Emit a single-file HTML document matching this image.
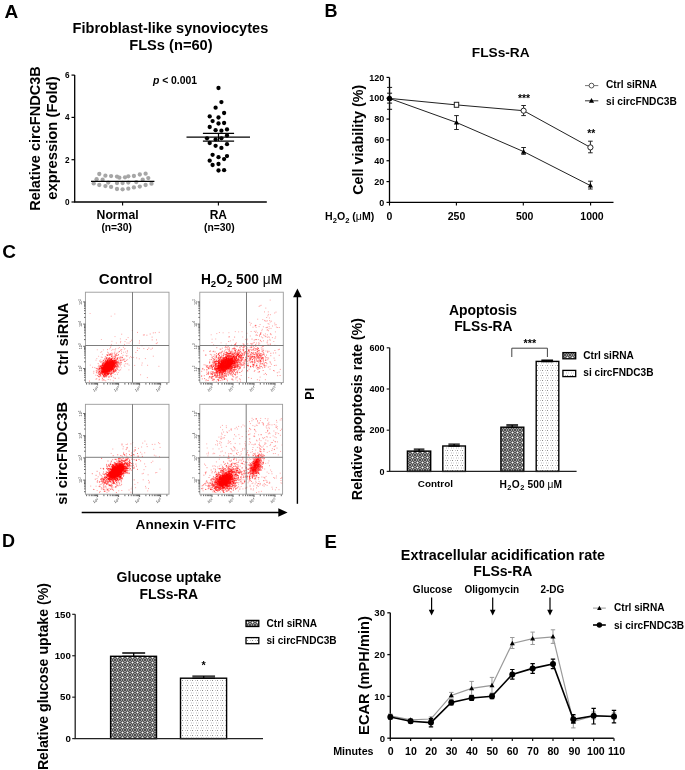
<!DOCTYPE html>
<html><head><meta charset="utf-8"><title>Figure</title>
<style>html,body{margin:0;padding:0;background:#fff;} svg{display:block;} text{font-family:'Liberation Sans', Arial, sans-serif;}</style>
</head><body>
<svg width="685" height="770" viewBox="0 0 685 770">
<rect width="685" height="770" fill="#fff"/>
<defs>
<filter id="soft" x="-50%" y="-50%" width="200%" height="200%"><feGaussianBlur stdDeviation="1.2"/></filter>
<pattern id="dk" width="5" height="5" patternUnits="userSpaceOnUse">
<rect width="5" height="5" fill="#9a9a9a"/>
<path d="M0 0h1v1h-1zM0 2h1v1h-1zM0 4h1v1h-1zM1 1h1v1h-1zM1 3h1v1h-1zM2 0h1v1h-1zM2 2h1v1h-1zM2 4h1v1h-1zM3 1h1v1h-1zM3 3h1v1h-1zM4 0h1v1h-1zM4 2h1v1h-1zM4 4h1v1h-1z" fill="#505050"/>
<path d="M2 2h1v1h-1z" fill="#fff"/>
</pattern>
<pattern id="lt" width="5" height="5" patternUnits="userSpaceOnUse">
<rect width="5" height="5" fill="#fff"/>
<rect x="2" y="0" width="1" height="1" fill="#8c8c8c"/>
<rect x="0" y="0" width="1" height="1" fill="#c4c4c4"/>
<rect x="1" y="2" width="1" height="2" fill="#dcdcdc"/>
<rect x="3" y="2" width="1" height="2" fill="#e6e6e6"/>
</pattern>
</defs>
<text x="4.40" y="17.90" font-size="19" font-weight="bold" fill="#000">A</text>
<text x="324.40" y="16.90" font-size="18" font-weight="bold" fill="#000">B</text>
<text x="2.20" y="257.60" font-size="19" font-weight="bold" fill="#000">C</text>
<text x="1.90" y="546.90" font-size="18" font-weight="bold" fill="#000">D</text>
<text x="324.60" y="548.30" font-size="18.6" font-weight="bold" fill="#000">E</text>
<text x="170.40" y="32.70" font-size="14.55" font-weight="bold" text-anchor="middle" fill="#000">Fibroblast-like synoviocytes</text>
<text x="170.90" y="49.50" font-size="14.65" font-weight="bold" text-anchor="middle" fill="#000">FLSs (n=60)</text>
<text transform="translate(40.20,138.50) rotate(-90)" font-size="14.55" font-weight="bold" text-anchor="middle" fill="#000">Relative circFNDC3B</text>
<text transform="translate(56.90,138.10) rotate(-90)" font-size="14.8" font-weight="bold" text-anchor="middle" fill="#000">expression (Fold)</text>
<path d="M74.7 75.10V202.0H266.8" stroke="#000" stroke-width="1.3" fill="none"/>
<line x1="71.50" y1="202.00" x2="74.70" y2="202.00" stroke="#000" stroke-width="1.2"/>
<text x="69.60" y="204.90" font-size="8.2" font-weight="bold" text-anchor="end" fill="#000">0</text>
<line x1="71.50" y1="159.70" x2="74.70" y2="159.70" stroke="#000" stroke-width="1.2"/>
<text x="69.60" y="162.60" font-size="8.2" font-weight="bold" text-anchor="end" fill="#000">2</text>
<line x1="71.50" y1="117.40" x2="74.70" y2="117.40" stroke="#000" stroke-width="1.2"/>
<text x="69.60" y="120.30" font-size="8.2" font-weight="bold" text-anchor="end" fill="#000">4</text>
<line x1="71.50" y1="75.10" x2="74.70" y2="75.10" stroke="#000" stroke-width="1.2"/>
<text x="69.60" y="78.00" font-size="8.2" font-weight="bold" text-anchor="end" fill="#000">6</text>
<line x1="122.60" y1="202.00" x2="122.60" y2="205.40" stroke="#000" stroke-width="1.1"/>
<line x1="218.40" y1="202.00" x2="218.40" y2="205.40" stroke="#000" stroke-width="1.1"/>
<text x="117.60" y="218.50" font-size="12.2" font-weight="bold" text-anchor="middle" fill="#000">Normal</text>
<text x="116.70" y="231.20" font-size="10.3" font-weight="bold" text-anchor="middle" fill="#000">(n=30)</text>
<text x="218.30" y="218.60" font-size="12" font-weight="bold" text-anchor="middle" fill="#000">RA</text>
<text x="219.30" y="231.20" font-size="10.3" font-weight="bold" text-anchor="middle" fill="#000">(n=30)</text>
<text x="152.90" y="84.00" font-size="10.4" font-weight="bold" fill="#000"><tspan font-style="italic">p</tspan> &lt; 0.001</text>
<circle cx="99.30" cy="174.00" r="2.15" fill="#a6a6a6" stroke="none" stroke-width="1"/>
<circle cx="105.40" cy="175.70" r="2.15" fill="#a6a6a6" stroke="none" stroke-width="1"/>
<circle cx="111.10" cy="176.10" r="2.15" fill="#a6a6a6" stroke="none" stroke-width="1"/>
<circle cx="117.00" cy="176.60" r="2.15" fill="#a6a6a6" stroke="none" stroke-width="1"/>
<circle cx="119.40" cy="177.70" r="2.15" fill="#a6a6a6" stroke="none" stroke-width="1"/>
<circle cx="125.00" cy="177.30" r="2.15" fill="#a6a6a6" stroke="none" stroke-width="1"/>
<circle cx="128.30" cy="176.30" r="2.15" fill="#a6a6a6" stroke="none" stroke-width="1"/>
<circle cx="133.90" cy="176.00" r="2.15" fill="#a6a6a6" stroke="none" stroke-width="1"/>
<circle cx="139.80" cy="174.50" r="2.15" fill="#a6a6a6" stroke="none" stroke-width="1"/>
<circle cx="145.60" cy="173.70" r="2.15" fill="#a6a6a6" stroke="none" stroke-width="1"/>
<circle cx="93.70" cy="183.40" r="2.15" fill="#a6a6a6" stroke="none" stroke-width="1"/>
<circle cx="96.60" cy="179.20" r="2.15" fill="#a6a6a6" stroke="none" stroke-width="1"/>
<circle cx="102.60" cy="179.70" r="2.15" fill="#a6a6a6" stroke="none" stroke-width="1"/>
<circle cx="108.20" cy="182.60" r="2.15" fill="#a6a6a6" stroke="none" stroke-width="1"/>
<circle cx="117.00" cy="183.00" r="2.15" fill="#a6a6a6" stroke="none" stroke-width="1"/>
<circle cx="122.60" cy="183.00" r="2.15" fill="#a6a6a6" stroke="none" stroke-width="1"/>
<circle cx="128.30" cy="182.60" r="2.15" fill="#a6a6a6" stroke="none" stroke-width="1"/>
<circle cx="136.30" cy="182.10" r="2.15" fill="#a6a6a6" stroke="none" stroke-width="1"/>
<circle cx="142.70" cy="179.70" r="2.15" fill="#a6a6a6" stroke="none" stroke-width="1"/>
<circle cx="148.30" cy="178.10" r="2.15" fill="#a6a6a6" stroke="none" stroke-width="1"/>
<circle cx="151.50" cy="183.70" r="2.15" fill="#a6a6a6" stroke="none" stroke-width="1"/>
<circle cx="99.30" cy="185.00" r="2.15" fill="#a6a6a6" stroke="none" stroke-width="1"/>
<circle cx="105.40" cy="186.10" r="2.15" fill="#a6a6a6" stroke="none" stroke-width="1"/>
<circle cx="111.10" cy="186.90" r="2.15" fill="#a6a6a6" stroke="none" stroke-width="1"/>
<circle cx="117.00" cy="189.00" r="2.15" fill="#a6a6a6" stroke="none" stroke-width="1"/>
<circle cx="122.60" cy="189.30" r="2.15" fill="#a6a6a6" stroke="none" stroke-width="1"/>
<circle cx="128.30" cy="188.70" r="2.15" fill="#a6a6a6" stroke="none" stroke-width="1"/>
<circle cx="133.90" cy="187.40" r="2.15" fill="#a6a6a6" stroke="none" stroke-width="1"/>
<circle cx="139.80" cy="186.60" r="2.15" fill="#a6a6a6" stroke="none" stroke-width="1"/>
<circle cx="145.60" cy="185.00" r="2.15" fill="#a6a6a6" stroke="none" stroke-width="1"/>
<line x1="91.00" y1="181.30" x2="154.40" y2="181.30" stroke="#000" stroke-width="1.3"/>
<circle cx="218.50" cy="88.00" r="2.15" fill="#000" stroke="none" stroke-width="1"/>
<circle cx="221.40" cy="102.10" r="2.15" fill="#000" stroke="none" stroke-width="1"/>
<circle cx="215.60" cy="107.70" r="2.15" fill="#000" stroke="none" stroke-width="1"/>
<circle cx="224.10" cy="113.00" r="2.15" fill="#000" stroke="none" stroke-width="1"/>
<circle cx="209.70" cy="116.40" r="2.15" fill="#000" stroke="none" stroke-width="1"/>
<circle cx="218.50" cy="117.50" r="2.15" fill="#000" stroke="none" stroke-width="1"/>
<circle cx="212.60" cy="121.10" r="2.15" fill="#000" stroke="none" stroke-width="1"/>
<circle cx="218.50" cy="123.50" r="2.15" fill="#000" stroke="none" stroke-width="1"/>
<circle cx="224.10" cy="123.00" r="2.15" fill="#000" stroke="none" stroke-width="1"/>
<circle cx="209.70" cy="127.00" r="2.15" fill="#000" stroke="none" stroke-width="1"/>
<circle cx="215.60" cy="130.20" r="2.15" fill="#000" stroke="none" stroke-width="1"/>
<circle cx="221.40" cy="130.70" r="2.15" fill="#000" stroke="none" stroke-width="1"/>
<circle cx="227.00" cy="129.40" r="2.15" fill="#000" stroke="none" stroke-width="1"/>
<circle cx="227.00" cy="135.50" r="2.15" fill="#000" stroke="none" stroke-width="1"/>
<circle cx="207.00" cy="138.30" r="2.15" fill="#000" stroke="none" stroke-width="1"/>
<circle cx="215.60" cy="139.40" r="2.15" fill="#000" stroke="none" stroke-width="1"/>
<circle cx="221.40" cy="138.30" r="2.15" fill="#000" stroke="none" stroke-width="1"/>
<circle cx="209.70" cy="143.00" r="2.15" fill="#000" stroke="none" stroke-width="1"/>
<circle cx="215.60" cy="145.80" r="2.15" fill="#000" stroke="none" stroke-width="1"/>
<circle cx="221.40" cy="147.90" r="2.15" fill="#000" stroke="none" stroke-width="1"/>
<circle cx="227.00" cy="144.20" r="2.15" fill="#000" stroke="none" stroke-width="1"/>
<circle cx="212.60" cy="154.80" r="2.15" fill="#000" stroke="none" stroke-width="1"/>
<circle cx="218.50" cy="157.20" r="2.15" fill="#000" stroke="none" stroke-width="1"/>
<circle cx="227.00" cy="156.10" r="2.15" fill="#000" stroke="none" stroke-width="1"/>
<circle cx="224.10" cy="159.10" r="2.15" fill="#000" stroke="none" stroke-width="1"/>
<circle cx="209.70" cy="160.70" r="2.15" fill="#000" stroke="none" stroke-width="1"/>
<circle cx="212.60" cy="165.00" r="2.15" fill="#000" stroke="none" stroke-width="1"/>
<circle cx="218.50" cy="164.00" r="2.15" fill="#000" stroke="none" stroke-width="1"/>
<circle cx="218.50" cy="170.50" r="2.15" fill="#000" stroke="none" stroke-width="1"/>
<circle cx="224.10" cy="170.20" r="2.15" fill="#000" stroke="none" stroke-width="1"/>
<line x1="186.50" y1="137.10" x2="250.00" y2="137.10" stroke="#000" stroke-width="1.3"/>
<path d="M218.50 133.40V141.10M202.90 133.40h31.20M202.90 141.10h31.20" stroke="#000" stroke-width="1.2" fill="none"/>
<text x="500.70" y="57.00" font-size="13.7" font-weight="bold" text-anchor="middle" fill="#000">FLSs-RA</text>
<text transform="translate(362.60,139.80) rotate(-90)" font-size="14.35" font-weight="bold" text-anchor="middle" fill="#000">Cell viability (%)</text>
<path d="M389.5 77.40V202.4H613.5" stroke="#000" stroke-width="1.3" fill="none"/>
<line x1="386.50" y1="202.40" x2="389.50" y2="202.40" stroke="#000" stroke-width="1.2"/>
<text x="384.20" y="205.60" font-size="9" font-weight="bold" text-anchor="end" fill="#000">0</text>
<line x1="386.50" y1="181.57" x2="389.50" y2="181.57" stroke="#000" stroke-width="1.2"/>
<text x="384.20" y="184.77" font-size="9" font-weight="bold" text-anchor="end" fill="#000">20</text>
<line x1="386.50" y1="160.73" x2="389.50" y2="160.73" stroke="#000" stroke-width="1.2"/>
<text x="384.20" y="163.93" font-size="9" font-weight="bold" text-anchor="end" fill="#000">40</text>
<line x1="386.50" y1="139.90" x2="389.50" y2="139.90" stroke="#000" stroke-width="1.2"/>
<text x="384.20" y="143.10" font-size="9" font-weight="bold" text-anchor="end" fill="#000">60</text>
<line x1="386.50" y1="119.06" x2="389.50" y2="119.06" stroke="#000" stroke-width="1.2"/>
<text x="384.20" y="122.26" font-size="9" font-weight="bold" text-anchor="end" fill="#000">80</text>
<line x1="386.50" y1="98.23" x2="389.50" y2="98.23" stroke="#000" stroke-width="1.2"/>
<text x="384.20" y="101.43" font-size="9" font-weight="bold" text-anchor="end" fill="#000">100</text>
<line x1="386.50" y1="77.40" x2="389.50" y2="77.40" stroke="#000" stroke-width="1.2"/>
<text x="384.20" y="80.60" font-size="9" font-weight="bold" text-anchor="end" fill="#000">120</text>
<line x1="389.50" y1="202.40" x2="389.50" y2="205.60" stroke="#000" stroke-width="1.1"/>
<text x="389.50" y="220.00" font-size="10.5" font-weight="bold" text-anchor="middle" fill="#000">0</text>
<line x1="456.40" y1="202.40" x2="456.40" y2="205.60" stroke="#000" stroke-width="1.1"/>
<text x="456.50" y="220.00" font-size="10.5" font-weight="bold" text-anchor="middle" fill="#000">250</text>
<line x1="523.30" y1="202.40" x2="523.30" y2="205.60" stroke="#000" stroke-width="1.1"/>
<text x="524.70" y="220.00" font-size="10.5" font-weight="bold" text-anchor="middle" fill="#000">500</text>
<line x1="590.60" y1="202.40" x2="590.60" y2="205.60" stroke="#000" stroke-width="1.1"/>
<text x="592.00" y="220.00" font-size="10.5" font-weight="bold" text-anchor="middle" fill="#000">1000</text>
<text x="325.00" y="220.00" font-size="10.6" font-weight="bold" fill="#000">H<tspan font-size="7.6" dy="2.5">2</tspan><tspan dy="-2.5">O</tspan><tspan font-size="7.6" dy="2.5">2</tspan><tspan dy="-2.5"> (</tspan><tspan font-weight="normal">μ</tspan>M)</text>
<path d="M389.5 98.4L456.5 104.9L523.6 110.7L590.4 147.4" stroke="#222" stroke-width="1.0" fill="none"/>
<path d="M389.5 98.4L456.5 122.5L523.6 151.6L590.4 185.6" stroke="#222" stroke-width="1.0" fill="none"/>
<path d="M389.60 87.40V109.30M387.10 87.40h5.00M387.10 109.30h5.00" stroke="#111" stroke-width="1.0" fill="none"/>
<path d="M389.60 93.20V103.10M387.10 93.20h5.00M387.10 103.10h5.00" stroke="#111" stroke-width="1.0" fill="none"/>
<path d="M456.50 115.60V129.50M454.20 115.60h4.60M454.20 129.50h4.60" stroke="#222" stroke-width="1.0" fill="none"/>
<path d="M523.60 105.50V115.60M521.30 105.50h4.60M521.30 115.60h4.60" stroke="#222" stroke-width="1.0" fill="none"/>
<path d="M523.60 147.50V154.30M521.30 147.50h4.60M521.30 154.30h4.60" stroke="#222" stroke-width="1.0" fill="none"/>
<path d="M590.40 141.20V152.80M588.10 141.20h4.60M588.10 152.80h4.60" stroke="#222" stroke-width="1.0" fill="none"/>
<path d="M590.40 181.20V189.00M588.10 181.20h4.60M588.10 189.00h4.60" stroke="#222" stroke-width="1.0" fill="none"/>
<circle cx="389.50" cy="98.40" r="2.6" fill="#000" stroke="none" stroke-width="1"/>
<path d="M389.50 95.68L392.20 100.54L386.80 100.54Z" fill="#000"/>
<rect x="454.3" y="102.3" width="4.4" height="5.0" fill="#fff" stroke="#222" stroke-width="1"/>
<circle cx="523.60" cy="110.70" r="2.6" fill="#fff" stroke="#222" stroke-width="1.0"/>
<circle cx="590.40" cy="147.40" r="2.6" fill="#fff" stroke="#222" stroke-width="1.0"/>
<path d="M456.50 119.79L459.10 124.47L453.90 124.47Z" fill="#000"/>
<path d="M523.60 148.99L526.20 153.67L521.00 153.67Z" fill="#000"/>
<path d="M590.40 182.79L593.00 187.47L587.80 187.47Z" fill="#000"/>
<text x="524.10" y="102.20" font-size="10.4" font-weight="bold" text-anchor="middle" fill="#000">***</text>
<text x="591.20" y="137.40" font-size="10.4" font-weight="bold" text-anchor="middle" fill="#000">**</text>
<line x1="585.00" y1="85.60" x2="598.30" y2="85.60" stroke="#777" stroke-width="1.0"/>
<circle cx="591.50" cy="85.60" r="2.4" fill="#fff" stroke="#555" stroke-width="1.0"/>
<line x1="585.00" y1="100.80" x2="598.30" y2="100.80" stroke="#333" stroke-width="1.0"/>
<path d="M591.50 97.99L594.10 102.67L588.90 102.67Z" fill="#000"/>
<text x="606.00" y="88.10" font-size="10.2" font-weight="bold" fill="#000">Ctrl siRNA</text>
<text x="606.00" y="104.50" font-size="10.2" font-weight="bold" fill="#000">si circFNDC3B</text>
<text x="125.60" y="284.20" font-size="15.1" font-weight="bold" text-anchor="middle" fill="#000">Control</text>
<text x="200.90" y="284.30" font-size="13.75" font-weight="bold" fill="#000">H<tspan font-size="9.6" dy="2.8">2</tspan><tspan dy="-2.8">O</tspan><tspan font-size="9.6" dy="2.8">2</tspan><tspan dy="-2.8"> 500 </tspan><tspan font-weight="normal">μ</tspan>M</text>
<text transform="translate(67.80,339.00) rotate(-90)" font-size="14.5" font-weight="bold" text-anchor="middle" fill="#000">Ctrl siRNA</text>
<text transform="translate(67.30,453.30) rotate(-90)" font-size="14.8" font-weight="bold" text-anchor="middle" fill="#000">si circFNDC3B</text>
<path d="M81.7 512.5H280" stroke="#000" stroke-width="1.4" fill="none"/>
<path d="M287.6 512.5L278.3 508.2L278.3 516.8Z" fill="#000"/>
<path d="M297.4 503.8V296" stroke="#000" stroke-width="1.4" fill="none"/>
<path d="M297.4 288.5L293.1 297.3L301.7 297.3Z" fill="#000"/>
<text x="135.60" y="529.30" font-size="13.6" font-weight="bold" fill="#000">Annexin V-FITC</text>
<text transform="translate(314.40,393.80) rotate(-90)" font-size="12.5" font-weight="bold" text-anchor="middle" fill="#000">PI</text>
<ellipse cx="107.9" cy="367.0" rx="7.6" ry="4.4" transform="rotate(-45 107.9 367.0)" fill="#f00" opacity="0.95" filter="url(#soft)"/>
<path d="M108.1 369.0h1M106.4 367.1h1M104.2 369.8h1M112.7 364.0h1M112.1 363.9h1M109.7 366.0h1M103.8 374.7h1M110.7 366.3h1M98.2 369.3h1M103.8 369.2h1M108.9 365.8h1M108.4 363.8h1M109.8 366.7h1M109.2 373.0h1M112.4 367.6h1M104.1 367.6h1M106.5 368.0h1M110.7 365.3h1M104.3 366.6h1M108.6 371.4h1M105.6 370.4h1M106.2 362.3h1M110.8 369.6h1M100.1 373.4h1M105.8 365.6h1M109.5 365.1h1M104.5 373.9h1M112.3 366.6h1M113.8 362.7h1M105.6 363.8h1M108.8 363.5h1M103.6 365.9h1M103.4 369.3h1M108.1 358.1h1M103.3 372.7h1M114.2 363.1h1M95.8 368.4h1M107.6 364.2h1M106.0 373.0h1M112.1 363.4h1M109.7 367.1h1M114.8 362.7h1M110.9 366.3h1M105.1 375.3h1M112.4 364.7h1M99.6 372.6h1M107.0 360.2h1M109.4 369.8h1M106.7 375.1h1M109.5 364.7h1M110.4 367.2h1M110.8 369.0h1M104.7 368.5h1M111.6 363.4h1M106.8 372.1h1M112.1 360.9h1M102.7 371.6h1M106.7 366.9h1M110.7 359.9h1M109.7 359.9h1M106.5 371.1h1M113.7 364.8h1M109.4 366.1h1M109.7 367.7h1M107.9 368.2h1M109.9 365.0h1M111.8 365.5h1M115.7 360.6h1M105.6 367.7h1M109.8 369.0h1M107.5 369.0h1M109.0 355.1h1M104.4 371.5h1M109.8 366.1h1M107.8 369.9h1M107.8 364.9h1M117.2 359.2h1M105.7 368.7h1M107.0 367.7h1M97.2 375.6h1M109.0 361.0h1M109.7 369.3h1M114.1 367.1h1M101.1 372.3h1M108.0 369.5h1M106.1 357.4h1M108.7 360.1h1M107.1 361.4h1M111.1 368.9h1M107.8 367.9h1M111.0 364.5h1M110.8 370.6h1M111.0 362.7h1M115.2 354.9h1M110.6 363.2h1M109.9 368.0h1M110.0 367.6h1M99.3 369.2h1M108.0 362.8h1M101.2 367.5h1M114.0 364.1h1M111.1 359.8h1M105.5 364.6h1M114.0 367.7h1M108.1 373.5h1M111.0 363.1h1M103.9 377.0h1M106.3 366.1h1M110.2 366.5h1M111.0 359.5h1M115.1 366.1h1M112.7 361.5h1M107.4 371.8h1M108.6 366.9h1M112.4 361.4h1M99.0 374.3h1M103.1 375.3h1M107.7 364.6h1M109.6 368.8h1M111.0 369.5h1M109.9 369.4h1M116.6 365.1h1M107.4 371.2h1M99.0 371.3h1M103.2 376.2h1M103.5 371.3h1M107.2 367.6h1M106.3 369.6h1M114.3 360.8h1M111.9 367.2h1M104.5 365.0h1M108.2 371.2h1M100.8 371.6h1M113.1 365.1h1M109.6 368.7h1M106.0 363.9h1M101.0 371.2h1M110.0 362.5h1M103.1 368.6h1M102.2 372.2h1M104.5 371.9h1M100.3 376.0h1M101.5 365.1h1M109.9 363.9h1M98.2 373.0h1M108.0 365.0h1M112.2 365.8h1M110.9 365.3h1M114.0 363.7h1M105.1 361.0h1M113.8 366.6h1M105.9 367.1h1M111.0 356.4h1M114.7 370.5h1M106.1 371.7h1M114.3 360.1h1M111.8 366.9h1M104.5 370.0h1M110.7 367.7h1M107.4 366.7h1M103.5 369.8h1M111.3 364.1h1M103.1 368.2h1M119.7 360.0h1M104.7 359.2h1M111.1 365.8h1M114.8 362.0h1M108.8 368.3h1M103.2 376.1h1M107.6 364.4h1M116.4 366.2h1M101.5 370.5h1M109.3 366.4h1M104.4 366.3h1M117.6 361.7h1M100.8 368.4h1M116.0 363.1h1M116.1 362.3h1M105.4 370.6h1M98.7 373.0h1M108.8 368.3h1M105.1 369.3h1M110.3 366.2h1M110.6 365.2h1M108.4 369.8h1M106.3 365.1h1M105.7 369.2h1M107.8 367.7h1M108.3 367.4h1M104.8 364.8h1M111.6 367.7h1M109.0 365.1h1M107.4 363.4h1M101.3 373.8h1M106.2 371.9h1M98.5 365.3h1M107.6 374.0h1M103.6 365.4h1M106.3 370.8h1M110.0 365.6h1M114.6 363.3h1M109.1 368.3h1M115.8 363.2h1M109.2 361.1h1M108.9 369.1h1M109.1 370.3h1M111.9 366.8h1M112.6 373.2h1M111.8 362.2h1M113.7 372.2h1M108.5 370.1h1M111.4 363.5h1M104.2 371.5h1M111.6 368.1h1M110.7 364.3h1M112.1 365.1h1M108.7 366.4h1M108.5 369.3h1M102.8 369.4h1M104.8 363.9h1M102.1 364.3h1M106.7 370.6h1M109.8 364.9h1M104.1 364.8h1M115.5 361.6h1M109.9 361.3h1M103.4 363.8h1M112.6 366.2h1M101.1 373.6h1M106.4 361.0h1M99.2 371.2h1M102.7 366.2h1M108.5 367.4h1M111.6 366.2h1M115.7 364.2h1M102.2 370.6h1M101.9 368.5h1M107.6 367.3h1M106.3 361.9h1M103.5 371.3h1M106.5 367.0h1M106.1 365.6h1M111.1 365.3h1M106.2 365.9h1M101.5 361.8h1M104.5 370.5h1M103.0 372.7h1M105.5 363.6h1M106.3 367.2h1M110.8 366.7h1M106.0 365.3h1M107.3 367.4h1M111.1 365.0h1M102.5 366.7h1M105.0 366.7h1M103.7 370.7h1M106.4 369.0h1M108.9 364.3h1M115.4 358.1h1M112.1 363.4h1M106.8 358.0h1M105.8 370.2h1M115.0 369.8h1M111.8 368.6h1M112.6 366.3h1M109.4 364.9h1M107.4 362.9h1M109.9 360.7h1M113.3 370.6h1M107.2 367.8h1M112.1 362.9h1M105.6 370.4h1M111.5 366.4h1M108.9 373.4h1M113.8 361.1h1M107.9 365.1h1M111.4 360.5h1M109.3 363.6h1M107.0 371.0h1M112.6 362.3h1M107.2 371.1h1M108.4 367.8h1M115.7 364.0h1M110.9 373.7h1M109.6 368.7h1M105.5 369.2h1M105.5 377.0h1M110.2 359.6h1M99.1 368.9h1M111.1 361.9h1M107.0 366.6h1M105.2 365.1h1M104.9 363.9h1M108.3 367.9h1M109.1 364.9h1M105.0 370.5h1M109.5 372.0h1M110.4 364.0h1M104.7 367.2h1M103.8 369.6h1M110.0 367.1h1M114.4 369.4h1M105.4 369.5h1M113.8 353.2h1M106.4 369.2h1M109.3 367.3h1M107.8 368.6h1M109.7 368.4h1M99.3 371.8h1M105.7 364.8h1M105.5 372.0h1M106.9 370.6h1M111.2 365.0h1M109.5 365.0h1M102.9 371.9h1M108.4 364.3h1M109.1 368.9h1M106.2 371.5h1M113.3 359.2h1M108.1 366.2h1M114.0 362.2h1M109.6 362.4h1M107.8 367.0h1M104.7 376.3h1M107.4 360.1h1M110.3 364.1h1M110.3 366.2h1M102.2 371.8h1M112.0 360.5h1M101.4 367.7h1M104.3 372.0h1M114.8 361.9h1M113.5 370.9h1M104.6 367.4h1M110.9 366.3h1M101.8 368.1h1M109.5 366.5h1M102.9 371.2h1M107.0 369.9h1M107.3 367.2h1M108.9 370.5h1M112.0 361.3h1M109.3 362.4h1M109.7 368.3h1M112.4 360.8h1M108.1 367.7h1M102.6 372.3h1M106.3 370.2h1M99.7 366.8h1M108.6 367.4h1M107.8 370.8h1M105.6 366.7h1M106.3 362.0h1M105.5 369.4h1M110.6 363.7h1M107.6 364.5h1M112.5 369.5h1M110.5 374.4h1M105.7 369.3h1M110.7 368.6h1M99.1 366.9h1M111.7 366.5h1M115.7 370.4h1M109.2 366.8h1M112.0 364.5h1M111.2 358.5h1M99.3 361.0h1M110.0 363.3h1M115.7 368.3h1M107.3 366.5h1M104.4 367.0h1M107.0 370.6h1M108.2 367.0h1M109.2 369.6h1M109.3 365.0h1M109.9 364.3h1M106.9 374.2h1M107.5 363.3h1M112.4 363.9h1M105.8 375.9h1M111.0 367.7h1M108.3 366.0h1M104.5 374.5h1M107.4 366.3h1M109.3 365.9h1M109.5 363.8h1M103.2 362.6h1M107.8 369.9h1M111.9 361.5h1M110.8 370.8h1M108.3 369.7h1M113.9 361.2h1M110.7 361.2h1M108.5 366.1h1M110.7 369.0h1M114.9 357.1h1M106.9 370.1h1M105.2 371.8h1M109.3 364.4h1M106.5 361.8h1M107.3 361.0h1M104.3 368.3h1M108.3 370.2h1M107.3 365.9h1M113.2 368.4h1M108.7 367.8h1M112.9 363.2h1M108.6 376.8h1M111.5 355.0h1M108.6 368.0h1M112.7 365.0h1M104.7 365.7h1M110.5 368.8h1M101.9 368.7h1M103.7 363.0h1M106.1 367.0h1M108.0 363.9h1M103.9 369.3h1M106.3 365.8h1M109.5 368.5h1M115.7 366.4h1M104.2 368.9h1M103.2 379.8h1M105.3 369.5h1M106.9 362.3h1M109.5 365.3h1M102.1 374.1h1M108.2 358.8h1M111.2 364.6h1M110.5 366.3h1M112.0 361.9h1M110.1 363.0h1M108.7 362.7h1M111.2 371.1h1M109.1 365.1h1M102.2 369.4h1M110.6 368.3h1M110.5 366.6h1M110.6 370.0h1M105.4 367.2h1M111.2 364.0h1M105.7 366.8h1M108.3 369.2h1M106.6 363.2h1M109.8 365.9h1M106.0 372.2h1M106.2 367.3h1M113.5 367.0h1M106.4 370.4h1M109.7 375.0h1M108.7 371.3h1M107.3 371.0h1M110.4 353.8h1M107.4 369.6h1M106.2 365.9h1M115.7 359.6h1M103.9 374.6h1M104.3 375.5h1M106.2 369.3h1M112.6 362.8h1M99.4 368.3h1M113.7 364.4h1M106.8 371.7h1M111.0 366.6h1M99.3 374.3h1M112.6 365.4h1M105.8 358.7h1M109.5 367.4h1M114.9 356.0h1M106.8 368.2h1M110.1 362.9h1M110.3 361.3h1M107.7 364.9h1M107.0 365.0h1M104.6 375.0h1M107.8 364.7h1M110.7 368.4h1M104.2 370.2h1M110.9 366.2h1M102.2 363.7h1M113.0 363.3h1M107.4 366.4h1M107.9 365.2h1M102.7 369.1h1M104.5 367.8h1M105.2 372.4h1M104.7 373.0h1M105.1 371.3h1M113.2 362.6h1M105.4 369.7h1M104.7 362.8h1M106.1 369.5h1M106.4 368.8h1M112.1 366.0h1M112.4 365.0h1M106.8 368.0h1M106.3 367.3h1M103.6 364.0h1M106.7 368.1h1M104.4 370.4h1M109.4 364.8h1M109.7 354.1h1M103.3 363.9h1M117.0 369.2h1M99.3 376.1h1M109.1 364.5h1M105.1 360.3h1M111.7 364.8h1M106.7 365.7h1M109.1 363.7h1M107.6 365.1h1M99.9 374.9h1M110.2 367.9h1M104.7 370.0h1M110.4 365.1h1M116.5 366.8h1M100.6 366.1h1M114.2 367.2h1M112.9 365.5h1M104.2 367.7h1M109.1 361.9h1M99.4 371.3h1M120.8 362.3h1M103.9 367.9h1M107.1 364.6h1M112.4 362.2h1M106.8 373.6h1M106.3 369.5h1M107.2 366.4h1M107.6 364.4h1M96.7 368.8h1M101.8 369.9h1M107.9 367.2h1M110.1 365.3h1M103.6 368.3h1M100.1 374.1h1M110.7 366.4h1M107.1 367.1h1M111.2 363.7h1M111.7 365.6h1M111.4 369.0h1M105.1 368.3h1M103.4 368.2h1M117.1 365.2h1M109.2 368.1h1M113.8 364.6h1M109.5 360.1h1M106.6 370.2h1M113.2 362.1h1M104.1 369.3h1M103.7 367.5h1M111.9 360.4h1M112.6 371.5h1M112.8 363.5h1M106.6 370.0h1M115.0 362.6h1M112.6 362.7h1M109.3 364.7h1M112.2 368.2h1M102.7 371.9h1M107.5 364.9h1M108.5 369.8h1M116.3 361.3h1M105.8 362.6h1M114.9 360.3h1M105.4 364.7h1M105.4 364.9h1M109.1 367.7h1M108.6 367.5h1M107.9 373.0h1M101.7 365.5h1M105.6 366.0h1M103.6 369.8h1M106.4 363.5h1M110.4 370.5h1M110.0 364.3h1M108.1 366.3h1M109.3 368.7h1M102.5 362.2h1M105.9 365.2h1M108.9 363.4h1M113.0 371.1h1M101.8 368.3h1M97.8 366.9h1M102.0 374.4h1M101.7 365.3h1M104.0 373.6h1M104.4 369.0h1M111.9 368.7h1M117.0 362.3h1M108.8 366.9h1M117.3 363.7h1M107.8 369.1h1M109.0 366.1h1M103.3 366.0h1M102.7 365.6h1M113.4 363.8h1M106.6 374.2h1M107.0 359.8h1M116.1 362.2h1M112.6 357.1h1M110.7 366.0h1M109.0 366.6h1M108.5 360.1h1M100.6 368.4h1M104.6 367.7h1M109.8 366.3h1M106.6 365.5h1M108.4 370.6h1M110.8 364.5h1M110.1 371.4h1M107.2 370.5h1M111.4 362.4h1M108.5 361.7h1M111.9 363.8h1M103.7 374.0h1M107.5 372.9h1M105.1 369.1h1M108.2 365.3h1M107.6 364.9h1M110.3 364.6h1M102.8 360.4h1M112.1 363.0h1M101.8 373.5h1M111.8 367.6h1M107.4 374.1h1M112.4 372.6h1M108.8 369.0h1M104.2 365.9h1M113.7 365.0h1M115.2 363.4h1M102.3 365.5h1M104.2 367.9h1M106.3 371.1h1M108.5 365.3h1M108.2 366.1h1M110.2 367.8h1M109.8 362.2h1M105.6 375.4h1M110.7 368.9h1M101.4 372.1h1M104.9 363.8h1M107.6 370.4h1M115.1 366.6h1M101.9 367.1h1M111.7 367.2h1M105.8 363.6h1M112.3 365.9h1M108.8 364.0h1M110.7 367.6h1M102.0 365.1h1M110.1 366.9h1M109.8 368.8h1M105.7 368.9h1M108.0 369.3h1M113.0 360.8h1M118.4 363.0h1M111.9 365.4h1M113.8 360.4h1M105.3 365.1h1M112.4 368.2h1M110.7 366.0h1M107.6 368.1h1M105.1 374.3h1M104.1 366.1h1M103.5 367.9h1M113.2 366.2h1M105.1 373.8h1M109.8 362.6h1M101.1 370.7h1M106.4 370.0h1M102.3 364.0h1M105.5 362.9h1M108.5 361.2h1M103.6 367.6h1M108.7 371.7h1M112.2 365.3h1M105.7 362.6h1M104.9 367.7h1M105.5 371.5h1M103.8 368.1h1M99.8 366.3h1M112.8 367.7h1M106.4 364.3h1M98.7 376.9h1M112.8 363.3h1M114.3 366.9h1M110.9 362.1h1M113.3 364.9h1M101.6 371.6h1M102.6 371.8h1M107.7 362.7h1M103.4 377.0h1M112.4 368.8h1M105.5 373.9h1M119.5 363.9h1M107.7 368.3h1M109.5 369.7h1M111.8 363.5h1M104.7 373.4h1M107.6 370.0h1M112.3 369.5h1M111.0 362.0h1M112.9 369.5h1M106.9 369.8h1M114.8 365.5h1M106.9 362.4h1M104.0 372.0h1M114.7 371.0h1M107.3 372.5h1M107.1 360.7h1M105.4 370.2h1M105.8 368.4h1M107.8 363.6h1M108.2 364.0h1M107.1 370.1h1M106.5 369.6h1M113.6 361.4h1M108.9 369.1h1M108.9 370.6h1M104.7 372.8h1M104.4 367.1h1M112.4 358.9h1M115.5 362.2h1M111.0 359.8h1M115.2 365.9h1M107.2 367.1h1M117.0 358.7h1M105.1 367.2h1M110.2 366.1h1M112.2 370.0h1M107.7 369.2h1M110.9 359.7h1M115.5 367.2h1M100.8 369.5h1M100.3 366.8h1M105.6 361.5h1M112.7 368.3h1M101.5 372.0h1M102.8 375.4h1M104.7 369.0h1M109.2 368.0h1M106.7 368.3h1M106.2 369.2h1M103.9 371.3h1M100.0 372.8h1M114.8 360.4h1M104.0 372.0h1M101.0 366.9h1M106.9 371.2h1M109.1 365.4h1M102.3 368.0h1M113.2 362.7h1M100.1 365.9h1M108.3 377.1h1M103.7 370.9h1M108.3 365.9h1M104.0 365.1h1M107.8 374.3h1M107.0 371.5h1M101.3 372.4h1M111.0 368.3h1M105.2 372.2h1M107.7 364.1h1M107.7 363.4h1M105.0 369.8h1M98.1 376.4h1M101.3 367.4h1M108.0 370.1h1M109.2 371.1h1M101.0 368.3h1M114.2 362.4h1M109.5 361.9h1M111.3 364.7h1M110.2 364.8h1M110.8 361.4h1M101.4 367.3h1M110.4 361.3h1M102.2 368.7h1M103.6 365.9h1M105.5 366.7h1M103.9 366.9h1M107.1 365.9h1M108.8 367.1h1M104.5 361.2h1M104.3 367.2h1M107.3 360.9h1M104.8 368.9h1M108.8 370.3h1M108.4 370.6h1M98.9 368.3h1M113.1 363.6h1M109.9 365.5h1M107.0 362.7h1M110.1 362.5h1M111.6 363.7h1M98.2 371.2h1M111.6 362.7h1M107.0 368.9h1M105.2 367.3h1" stroke="#f00" stroke-width="1" stroke-opacity="0.6"/>
<path d="M110.0 365.4h1M117.2 357.6h1M124.8 361.4h1M121.6 359.8h1M110.1 365.3h1M105.9 363.9h1M106.6 363.8h1M119.4 358.5h1M100.4 361.6h1M107.4 364.4h1M99.5 367.6h1M98.9 379.3h1M117.0 374.2h1M108.4 365.2h1M117.1 358.3h1M108.7 363.4h1M110.7 373.6h1M119.9 365.8h1M107.2 367.5h1M107.5 373.3h1M103.4 374.7h1M119.4 364.3h1M107.6 374.0h1M102.8 366.8h1M105.7 376.3h1M115.8 354.8h1M103.9 368.4h1M125.6 355.5h1M100.3 362.5h1M109.3 372.9h1M118.0 354.7h1M103.7 367.5h1M102.0 378.5h1M106.7 374.7h1M95.8 370.4h1M108.0 361.5h1M113.2 361.4h1M104.8 373.8h1M107.2 354.8h1M120.3 357.4h1M107.0 355.4h1M104.0 368.2h1M110.0 355.0h1M97.7 363.6h1M108.8 367.9h1M98.1 372.5h1M116.9 368.0h1M111.5 361.0h1M99.7 368.7h1M106.0 369.5h1M114.2 371.2h1M107.0 360.5h1M120.3 360.4h1M107.2 362.6h1M95.8 372.1h1M111.2 358.1h1M102.6 373.1h1M112.3 366.2h1M117.1 366.6h1M107.7 373.1h1M106.0 373.0h1M110.7 365.3h1M114.1 360.3h1M117.7 362.4h1M107.9 362.9h1M103.3 367.8h1M107.8 366.5h1M126.9 351.8h1M110.3 358.6h1M104.2 368.2h1M106.6 361.1h1M115.7 355.1h1M107.1 352.2h1M109.9 366.4h1M112.0 366.4h1M111.0 364.5h1M96.6 373.2h1M98.6 380.0h1M110.0 363.2h1M102.8 368.0h1M124.4 361.3h1M112.9 370.0h1M94.3 367.6h1M103.6 365.2h1M106.6 369.1h1M122.9 347.3h1M110.2 366.1h1M111.8 368.7h1M114.4 352.0h1M109.0 363.8h1M105.9 358.6h1M92.1 367.3h1M112.4 363.3h1M101.7 357.4h1M104.6 365.0h1M98.5 370.0h1M114.5 363.6h1M110.6 367.3h1M106.0 368.9h1M111.0 367.1h1M108.2 365.4h1M106.2 364.1h1M122.5 355.3h1M118.7 370.7h1M111.4 353.0h1M115.4 364.5h1M123.3 359.8h1M109.3 357.6h1M105.3 371.0h1M108.4 359.5h1M105.7 366.2h1M110.4 366.3h1M103.5 363.0h1M120.8 364.1h1M111.8 369.4h1M113.5 365.3h1M109.1 360.5h1M115.3 365.7h1M110.6 376.6h1M126.0 360.3h1M122.0 357.4h1M105.3 365.3h1M105.1 370.2h1M111.0 367.9h1M121.0 353.3h1M114.1 363.5h1M109.8 363.4h1M105.7 363.5h1M109.9 364.5h1M107.9 361.0h1M109.4 365.4h1M108.7 358.8h1M114.4 366.5h1M111.0 361.1h1M105.6 367.3h1M117.9 366.7h1M106.1 364.2h1M111.7 364.2h1M101.8 367.9h1M110.6 368.2h1M99.4 368.5h1M107.7 358.9h1M110.7 366.1h1M105.1 362.8h1M107.6 364.7h1M108.1 361.0h1M109.3 354.3h1M108.1 366.5h1M112.1 358.4h1M110.1 360.8h1M118.6 367.2h1M108.3 369.1h1M107.2 373.6h1M115.5 359.2h1M104.3 372.8h1M118.6 363.0h1M107.4 355.2h1M110.0 373.7h1M106.2 375.7h1M121.5 358.0h1M113.9 358.5h1M102.2 371.7h1M107.8 366.4h1M112.2 361.3h1M111.4 365.9h1M115.0 371.5h1M111.6 363.4h1M105.9 364.6h1M116.6 358.9h1M101.4 369.4h1M106.8 364.8h1M111.0 356.0h1M112.1 363.4h1M102.9 371.9h1M110.1 367.6h1M107.6 368.9h1M96.6 370.8h1M116.6 364.7h1M107.0 363.6h1M107.9 353.0h1M106.9 371.9h1M109.1 358.7h1M103.7 380.2h1M106.9 361.8h1M112.2 368.1h1M106.2 354.8h1M107.3 355.6h1M116.3 360.8h1M119.0 351.6h1M112.4 368.9h1M103.3 366.6h1M106.8 367.2h1M104.8 372.8h1M112.1 362.9h1M116.9 355.4h1M114.2 356.8h1M106.7 355.2h1M109.5 363.9h1M104.4 366.1h1M104.8 365.0h1M95.4 375.2h1M104.4 366.7h1M102.9 370.7h1M112.3 360.5h1M110.8 372.5h1M117.2 363.3h1M114.1 358.3h1M111.9 369.8h1M105.7 368.0h1M112.2 364.7h1M110.7 370.2h1M110.4 368.8h1M116.8 362.0h1M109.1 357.8h1M100.0 370.4h1M116.4 367.9h1M103.5 373.0h1M102.1 367.6h1M109.8 369.2h1M114.0 368.2h1M106.7 373.6h1M114.2 360.8h1M109.7 361.1h1M101.9 370.0h1M115.0 378.3h1M111.8 373.4h1M111.1 365.4h1M110.4 359.0h1M115.1 361.9h1M102.9 375.5h1M113.4 364.0h1M116.1 355.7h1M114.1 365.2h1M108.1 374.2h1M97.1 369.0h1M108.2 359.2h1M103.0 360.8h1M105.7 361.4h1M105.8 358.7h1M110.5 362.3h1M109.1 364.9h1M105.4 360.5h1M95.5 379.2h1M102.6 369.0h1M104.8 356.8h1M103.0 367.6h1M104.5 372.2h1M105.6 363.6h1M106.4 373.3h1M107.4 370.9h1M105.2 357.0h1M103.3 371.3h1M113.3 366.2h1M116.6 364.6h1M106.3 366.8h1M111.7 360.0h1M109.4 354.7h1M111.9 361.5h1M101.8 379.1h1M110.7 363.9h1M101.8 369.7h1M114.3 354.8h1M102.2 371.4h1M103.9 364.6h1M107.9 373.4h1M107.7 379.5h1M102.6 364.8h1M115.0 363.2h1M105.9 373.5h1M96.2 372.3h1M114.1 358.7h1M103.8 374.1h1M113.8 360.6h1M98.3 374.0h1M113.7 365.8h1M118.0 354.9h1M106.3 367.9h1M112.3 356.0h1M107.0 349.6h1M111.0 359.1h1M113.7 365.3h1M102.4 371.5h1M112.2 366.1h1M100.8 367.2h1M107.3 365.8h1M104.1 376.5h1M110.8 373.0h1M113.6 361.1h1M109.2 358.0h1M105.4 365.4h1M102.3 372.3h1M112.9 370.9h1M89.0 381.1h1M102.6 368.9h1M112.6 364.6h1M107.6 363.8h1M112.8 364.0h1M98.4 374.4h1M97.9 368.9h1M110.0 364.9h1M106.8 362.0h1M105.0 363.6h1M113.3 365.7h1M122.4 360.3h1M103.2 368.3h1M105.0 371.5h1M121.8 357.3h1M93.2 373.1h1M103.8 374.0h1M110.0 366.5h1M115.8 353.4h1M110.9 376.4h1M108.3 361.2h1M93.3 371.3h1M96.3 378.7h1M112.5 368.5h1M106.0 364.0h1M111.3 375.6h1M100.2 375.4h1M111.1 367.4h1M108.5 369.3h1M112.8 360.7h1M106.0 367.3h1M103.2 369.9h1M108.1 367.8h1M120.3 362.7h1M108.6 369.8h1M113.0 366.4h1M110.0 366.3h1M104.0 365.4h1M117.8 365.1h1M113.9 363.4h1M108.9 362.6h1M101.7 377.1h1M108.3 362.6h1M108.0 374.8h1M105.2 380.8h1M120.1 369.8h1M105.1 369.2h1M106.8 368.7h1M105.5 364.2h1M112.1 357.2h1M108.1 370.0h1M104.7 366.9h1M109.7 362.4h1M102.1 371.8h1M113.4 372.2h1M106.3 374.5h1M103.7 368.5h1M108.1 368.1h1" stroke="#f00" stroke-width="1" stroke-opacity="0.4"/>
<path d="M128.6 365.2h1M114.6 374.5h1M124.3 358.9h1M111.2 373.0h1M113.2 364.8h1M113.7 367.8h1M127.1 359.7h1M116.0 369.2h1M118.0 345.4h1M115.9 343.0h1M119.6 361.1h1M125.1 352.0h1M103.8 361.2h1M106.6 376.1h1M106.1 359.8h1M111.8 353.5h1M106.0 362.8h1M133.1 357.4h1M101.9 354.3h1M114.6 360.3h1M117.9 362.5h1M114.7 369.7h1M119.7 356.7h1M106.1 362.4h1M111.2 350.4h1M106.5 359.0h1M104.6 376.3h1M112.0 362.4h1M110.3 346.7h1M113.1 364.2h1M112.3 349.4h1M118.8 357.7h1M129.0 357.9h1M128.4 369.9h1M109.6 359.6h1M104.0 359.3h1M101.2 351.6h1M113.8 365.1h1M117.7 352.3h1M119.1 347.5h1M100.3 352.4h1M101.6 363.4h1M126.3 353.6h1M106.6 373.3h1M114.4 357.1h1M110.5 360.1h1M98.1 356.3h1M118.4 369.8h1M121.3 349.6h1M105.2 366.5h1M120.8 357.1h1M109.6 368.4h1M113.3 366.4h1M100.8 357.0h1M116.6 365.8h1M103.0 369.8h1M116.6 353.3h1M118.3 378.1h1M124.0 361.4h1M113.8 378.2h1M96.6 371.7h1M124.9 363.7h1M101.3 365.4h1M102.9 349.9h1M119.9 360.2h1M111.6 368.3h1M119.6 357.8h1M124.3 366.4h1M109.3 366.5h1M113.7 371.6h1M111.5 367.7h1M113.4 361.3h1M124.5 348.6h1M127.2 355.8h1M121.0 351.2h1M123.1 359.2h1M108.9 368.1h1M110.8 362.8h1M117.8 348.3h1M89.8 365.1h1M105.1 361.9h1M115.2 365.0h1M126.9 350.5h1M111.5 354.5h1M123.8 365.1h1M111.4 341.3h1M127.3 364.0h1M110.0 347.6h1M112.9 367.5h1M110.7 354.5h1M110.6 373.9h1M109.8 379.8h1M113.8 363.5h1M98.8 368.7h1M109.2 348.8h1M119.9 338.9h1M103.1 371.4h1M119.6 362.4h1M108.1 363.6h1M107.1 360.6h1M114.7 361.0h1M108.7 368.1h1M111.5 361.7h1M110.9 344.4h1M108.1 354.3h1M117.8 372.5h1M103.4 369.6h1M112.7 371.6h1M95.5 360.2h1M113.9 356.2h1M115.5 370.3h1M103.3 366.6h1M115.3 363.1h1M113.8 371.5h1M126.5 343.0h1M114.5 336.6h1M120.6 349.6h1M111.2 359.1h1M100.3 359.8h1M116.1 372.0h1M118.6 351.6h1M104.2 362.1h1M112.8 380.8h1M117.6 357.7h1M102.8 360.1h1M126.1 356.4h1M110.3 374.5h1M107.2 373.8h1M102.6 366.9h1M118.0 360.7h1M115.0 349.9h1M131.1 357.5h1M114.5 364.6h1M105.4 367.0h1M102.6 372.3h1M120.8 367.8h1M123.5 359.3h1M108.1 363.5h1M110.7 365.8h1M101.8 380.6h1M97.5 370.9h1M109.4 359.0h1M123.9 349.1h1M130.1 356.6h1M110.5 367.9h1M119.9 350.5h1M109.6 358.3h1M110.5 359.6h1M118.1 366.8h1M123.1 352.3h1M118.2 365.1h1M104.1 358.4h1M115.2 348.6h1M113.7 349.8h1M120.0 342.7h1M126.5 363.8h1M112.9 377.2h1M96.3 358.6h1M121.2 360.4h1M96.8 349.8h1" stroke="#f00" stroke-width="1" stroke-opacity="0.3"/>
<path d="M152.8 332.9h1M149.7 334.0h1M148.3 348.1h1M136.9 350.5h1M151.6 337.1h1M139.0 340.9h1M155.8 343.6h1M137.0 332.4h1M136.9 348.0h1M138.8 343.1h1M141.5 345.7h1M143.9 334.9h1M156.8 342.8h1M151.9 348.2h1M158.7 332.3h1M142.9 335.0h1M147.0 349.5h1M154.8 332.7h1M138.7 348.4h1M151.7 339.9h1M146.4 335.2h1M156.0 339.9h1" stroke="#f00" stroke-width="1" stroke-opacity="0.4"/>
<path d="M158.4 366.3h1M136.1 357.9h1M140.1 374.8h1M150.5 349.3h1M138.8 358.8h1M147.1 365.3h1M144.9 358.6h1M134.2 365.4h1M143.3 348.6h1M146.9 377.6h1M135.3 352.4h1M152.8 356.2h1M141.7 363.0h1M141.3 365.1h1" stroke="#f00" stroke-width="1" stroke-opacity="0.35"/>
<path d="M124.0 344.4h1M131.9 330.5h1M124.5 341.6h1M129.8 341.6h1M125.8 339.5h1M121.2 334.2h1M128.5 343.1h1M131.0 340.2h1M120.2 341.4h1M127.6 337.6h1" stroke="#f00" stroke-width="1" stroke-opacity="0.35"/>
<path d="M114.3 314.0h1M110.7 316.2h1M89.6 313.5h1M100.9 339.5h1" stroke="#f00" stroke-width="1" stroke-opacity="0.3"/>
<rect x="85.4" y="292.2" width="83.6" height="90.4" fill="none" stroke="#9a9a9a" stroke-width="0.9"/>
<line x1="132.50" y1="292.20" x2="132.50" y2="382.60" stroke="#666" stroke-width="0.85"/>
<line x1="85.40" y1="345.50" x2="169.00" y2="345.50" stroke="#666" stroke-width="0.85"/>
<path d="M84.0 380.1h1.4M84.0 377.3h1.4M84.0 375.2h1.4M84.0 373.4h1.4M84.0 371.9h1.4M84.0 370.7h1.4M84.0 369.5h1.4M83.2 368.5h2.2M84.0 361.8h1.4M84.0 357.9h1.4M84.0 355.1h1.4M84.0 353.0h1.4M84.0 351.2h1.4M84.0 349.7h1.4M84.0 348.5h1.4M84.0 347.3h1.4M83.2 346.3h2.2M84.0 339.6h1.4M84.0 335.7h1.4M84.0 332.9h1.4M84.0 330.8h1.4M84.0 329.0h1.4M84.0 327.5h1.4M84.0 326.3h1.4M84.0 325.1h1.4M83.2 324.1h2.2M84.0 317.4h1.4M84.0 313.5h1.4M84.0 310.7h1.4M84.0 308.6h1.4M84.0 306.8h1.4M84.0 305.3h1.4M84.0 304.1h1.4M84.0 302.9h1.4M83.2 301.9h2.2M86.6 383.0v1.6M89.2 383.0v1.6M91.3 383.0v1.6M92.9 383.0v1.6M94.3 383.0v1.6M95.6 383.0v1.6M96.6 383.0v1.6M97.6 383.0v2.4M103.9 383.0v1.6M107.6 383.0v1.6M110.2 383.0v1.6M112.3 383.0v1.6M113.9 383.0v1.6M115.3 383.0v1.6M116.6 383.0v1.6M117.6 383.0v1.6M118.6 383.0v2.4M124.9 383.0v1.6M128.6 383.0v1.6M131.2 383.0v1.6M133.3 383.0v1.6M134.9 383.0v1.6M136.3 383.0v1.6M137.6 383.0v1.6M138.6 383.0v1.6M139.6 383.0v2.4M145.9 383.0v1.6M149.6 383.0v1.6M152.2 383.0v1.6M154.3 383.0v1.6M155.9 383.0v1.6M157.3 383.0v1.6M158.6 383.0v1.6M159.6 383.0v1.6M160.6 383.0v2.4M166.9 383.0v1.6" stroke="#3a3a3a" stroke-width="0.8" fill="none"/>
<text transform="translate(82.40,368.50) rotate(-90)" font-size="3.9" text-anchor="middle" fill="#444">10<tspan font-size="3" dy="-1.6">2</tspan></text>
<text transform="translate(96.40,390.40) rotate(-30)" font-size="3.9" text-anchor="middle" fill="#444">10<tspan font-size="3" dy="-1.6">2</tspan></text>
<text transform="translate(82.40,346.30) rotate(-90)" font-size="3.9" text-anchor="middle" fill="#444">10<tspan font-size="3" dy="-1.6">3</tspan></text>
<text transform="translate(117.40,390.40) rotate(-30)" font-size="3.9" text-anchor="middle" fill="#444">10<tspan font-size="3" dy="-1.6">3</tspan></text>
<text transform="translate(82.40,324.10) rotate(-90)" font-size="3.9" text-anchor="middle" fill="#444">10<tspan font-size="3" dy="-1.6">4</tspan></text>
<text transform="translate(138.40,390.40) rotate(-30)" font-size="3.9" text-anchor="middle" fill="#444">10<tspan font-size="3" dy="-1.6">4</tspan></text>
<text transform="translate(82.40,301.90) rotate(-90)" font-size="3.9" text-anchor="middle" fill="#444">10<tspan font-size="3" dy="-1.6">5</tspan></text>
<text transform="translate(159.40,390.40) rotate(-30)" font-size="3.9" text-anchor="middle" fill="#444">10<tspan font-size="3" dy="-1.6">5</tspan></text>
<ellipse cx="226.5" cy="364.0" rx="9" ry="5.0" transform="rotate(-32 226.5 364.0)" fill="#f00" opacity="0.85" filter="url(#soft)"/>
<ellipse cx="222" cy="368" rx="6" ry="4" transform="rotate(-32 222 368)" fill="#f00" opacity="0.6" filter="url(#soft)"/>
<path d="M219.4 368.7h1M228.1 366.8h1M224.8 367.2h1M240.8 355.3h1M219.3 370.0h1M219.5 366.0h1M228.1 364.5h1M226.1 368.5h1M221.5 359.7h1M231.2 358.8h1M232.8 356.2h1M230.7 362.8h1M203.7 369.8h1M221.7 374.3h1M215.2 375.7h1M234.8 361.2h1M229.5 359.1h1M226.5 364.9h1M230.6 364.9h1M222.9 362.2h1M223.1 368.0h1M211.4 366.3h1M221.8 363.6h1M217.6 354.8h1M223.0 364.5h1M226.5 352.9h1M225.0 367.2h1M232.3 366.6h1M230.7 355.3h1M229.6 359.9h1M224.2 373.5h1M219.6 363.4h1M221.1 362.4h1M233.9 361.1h1M236.7 359.5h1M224.3 370.8h1M220.3 365.0h1M224.9 364.9h1M232.8 356.4h1M228.4 362.4h1M214.6 365.2h1M225.5 366.5h1M229.4 364.5h1M225.2 362.0h1M226.5 358.2h1M215.9 368.5h1M214.8 368.2h1M219.5 365.1h1M223.7 361.1h1M218.9 359.1h1M224.8 359.9h1M221.9 351.2h1M221.0 368.4h1M208.2 373.2h1M226.9 364.0h1M216.2 371.4h1M224.6 359.5h1M231.1 360.6h1M225.0 362.2h1M230.0 362.0h1M235.0 360.8h1M221.2 365.8h1M231.5 358.6h1M229.9 364.4h1M219.0 355.6h1M227.4 364.3h1M225.1 360.4h1M234.1 358.2h1M219.9 363.9h1M225.8 358.1h1M223.9 376.2h1M237.7 362.4h1M237.0 360.4h1M217.2 376.0h1M235.8 360.5h1M215.4 377.4h1M234.3 356.1h1M228.8 366.5h1M228.1 368.7h1M228.3 366.4h1M223.0 357.8h1M226.9 380.8h1M231.2 368.0h1M238.2 365.8h1M228.4 359.2h1M221.4 356.3h1M226.9 368.4h1M211.4 374.2h1M235.0 365.6h1M217.9 365.5h1M210.4 368.2h1M234.8 369.8h1M221.4 374.5h1M227.8 360.2h1M235.1 344.4h1M226.1 365.2h1M245.4 361.8h1M242.2 354.6h1M236.2 365.1h1M230.5 363.2h1M223.7 363.2h1M222.2 377.1h1M217.7 357.7h1M227.8 362.7h1M231.7 370.4h1M224.6 363.4h1M220.7 367.2h1M223.4 366.7h1M248.9 351.9h1M224.8 375.4h1M234.1 363.4h1M233.0 364.1h1M234.2 366.6h1M236.4 364.9h1M222.5 366.2h1M223.3 371.0h1M230.7 358.5h1M236.6 371.8h1M231.9 354.2h1M226.9 366.9h1M226.7 365.7h1M235.1 360.1h1M220.1 371.6h1M225.6 364.9h1M218.6 361.0h1M216.4 368.1h1M211.8 357.9h1M231.2 354.4h1M222.2 369.3h1M212.4 379.9h1M222.2 370.0h1M223.4 367.3h1M226.7 363.5h1M209.5 366.2h1M229.2 369.8h1M223.5 368.5h1M228.3 365.2h1M229.3 353.7h1M227.5 362.1h1M221.7 362.0h1M217.9 363.4h1M224.5 378.8h1M238.0 356.6h1M228.8 356.9h1M201.9 369.0h1M230.6 369.1h1M223.2 360.2h1M221.8 361.1h1M215.6 369.2h1M221.2 362.5h1M217.5 364.2h1M231.1 368.5h1M230.1 373.8h1M215.3 372.2h1M217.5 368.4h1M228.1 365.8h1M232.6 356.8h1M216.8 368.7h1M226.3 359.9h1M236.5 366.8h1M216.9 371.7h1M228.4 351.9h1M226.9 362.2h1M219.3 375.5h1M226.3 361.1h1M230.7 364.6h1M232.8 362.9h1M226.0 357.5h1M223.4 366.4h1M220.7 361.5h1M213.8 373.0h1M224.8 361.5h1M220.9 362.3h1M220.5 366.9h1M223.2 369.5h1M225.3 365.1h1M232.0 367.3h1M230.8 362.3h1M222.9 361.5h1M225.3 368.2h1M226.6 361.5h1M212.8 363.8h1M230.8 366.7h1M225.2 356.9h1M225.1 365.8h1M220.4 369.4h1M222.5 361.6h1M219.3 372.7h1M226.3 358.9h1M221.1 372.0h1M229.4 360.2h1M236.5 355.9h1M221.3 373.0h1M225.5 366.2h1M223.8 359.9h1M217.2 368.4h1M233.4 353.9h1M236.1 358.9h1M218.9 369.9h1M227.8 357.9h1M211.9 374.8h1M219.3 370.6h1M212.2 371.8h1M216.7 361.7h1M224.7 365.7h1M219.2 361.8h1M223.2 356.1h1M231.0 363.6h1M239.9 360.1h1M229.1 363.5h1M222.9 358.6h1M237.6 359.7h1M221.2 360.7h1M237.7 359.6h1M219.4 371.8h1M239.2 355.6h1M227.8 360.6h1M224.2 371.0h1M247.9 351.0h1M227.1 367.7h1M225.7 368.2h1M229.3 356.4h1M218.3 368.4h1M232.5 361.5h1M231.3 353.1h1M227.9 359.4h1M227.5 364.8h1M218.6 367.3h1M218.5 370.1h1M218.8 365.8h1M225.9 360.5h1M232.5 356.5h1M232.6 361.4h1M218.2 367.7h1M219.3 366.2h1M228.6 372.4h1M226.9 372.0h1M225.9 356.9h1M211.5 376.8h1M213.9 375.5h1M234.1 361.0h1M223.9 363.9h1M227.1 361.7h1M221.4 364.9h1M232.6 356.4h1M225.8 357.8h1M217.6 361.7h1M226.3 367.6h1M226.9 360.7h1M229.4 360.0h1M229.3 363.5h1M223.7 351.9h1M218.8 372.7h1M230.8 373.3h1M223.0 362.9h1M237.8 359.7h1M240.5 357.7h1M226.4 367.7h1M219.4 365.7h1M221.6 365.5h1M230.2 358.7h1M227.0 360.6h1M225.4 349.3h1M225.0 365.6h1M221.0 372.7h1M230.7 368.1h1M234.3 362.3h1M222.3 360.4h1M223.3 363.1h1M226.6 361.1h1M243.4 344.4h1M233.0 357.0h1M226.6 368.7h1M223.0 359.2h1M228.4 361.4h1M212.2 373.7h1M216.8 365.7h1M230.1 363.1h1M229.3 373.8h1M227.4 359.8h1M227.3 362.5h1M206.8 367.4h1M221.4 378.2h1M224.0 363.7h1M224.5 370.3h1M230.4 370.6h1M235.5 367.0h1M226.1 366.0h1M222.6 365.2h1M212.5 369.2h1M217.8 365.6h1M235.1 359.7h1M236.6 362.0h1M234.9 363.9h1M223.8 369.8h1M222.5 363.3h1M239.6 367.3h1M223.5 375.1h1M229.7 357.1h1M228.8 364.3h1M227.7 361.0h1M217.1 369.7h1M233.9 363.3h1M233.3 365.5h1M219.0 368.1h1M230.8 366.4h1M228.4 365.4h1M232.1 371.7h1M210.8 373.4h1M243.8 354.2h1M213.6 372.5h1M214.4 367.6h1M231.8 369.7h1M230.9 364.6h1M233.6 360.4h1M219.8 367.3h1M227.7 361.5h1M220.5 365.5h1M213.1 366.5h1M224.5 363.0h1M229.7 369.3h1M228.0 362.6h1M215.2 364.9h1M226.5 358.9h1M226.4 357.9h1M226.8 363.1h1M232.0 358.1h1M224.0 366.6h1M230.5 370.4h1M222.9 363.0h1M224.9 367.2h1M229.3 365.7h1M222.5 379.7h1M238.7 355.9h1M218.0 369.8h1M223.4 353.5h1M222.5 358.2h1M232.6 367.4h1M229.5 353.6h1M237.8 361.6h1M224.7 367.5h1M235.7 356.1h1M224.5 361.9h1M228.8 350.6h1M233.5 354.1h1M228.4 353.6h1M218.0 365.7h1M227.8 354.1h1M228.6 358.9h1M233.9 357.4h1M229.0 361.2h1M237.6 354.8h1M230.7 371.9h1M228.2 366.4h1M221.4 368.0h1M210.5 374.2h1M217.8 360.9h1M219.0 374.6h1M225.2 356.2h1M236.9 353.4h1M224.0 366.6h1M214.2 362.6h1M223.7 371.9h1M228.7 353.7h1M234.4 358.9h1M229.6 362.0h1M226.4 358.3h1M218.0 365.2h1M225.0 368.0h1M221.5 375.5h1M220.2 364.4h1M231.9 362.7h1M221.0 361.3h1M215.2 362.1h1M236.6 363.3h1M240.2 357.9h1M230.2 365.5h1M232.0 358.9h1M233.7 370.9h1M210.8 365.8h1M221.2 371.1h1M233.4 357.5h1M230.5 360.9h1M226.8 360.6h1M225.8 364.1h1M239.3 367.8h1M214.7 374.0h1M228.3 367.8h1M235.3 362.5h1M229.3 356.8h1M218.3 377.9h1M232.1 355.0h1M236.6 361.0h1M211.2 378.2h1M222.0 372.9h1M219.5 364.0h1M214.7 369.9h1M231.4 357.0h1M218.3 380.5h1M240.5 358.7h1M219.3 361.6h1M216.0 373.3h1M232.4 354.2h1M225.3 362.9h1M225.4 367.1h1M239.0 352.4h1M234.6 364.6h1M223.7 364.6h1M219.3 374.1h1M220.7 363.7h1M224.4 360.3h1M218.0 367.4h1M235.8 356.7h1M226.1 356.0h1M216.9 379.6h1M219.5 359.7h1M226.8 366.8h1M211.8 368.0h1M225.5 359.3h1M233.9 364.3h1M228.0 360.4h1M224.1 361.7h1M225.9 365.8h1M226.3 369.1h1M242.7 350.6h1M230.4 365.7h1M229.9 360.3h1M225.1 370.0h1M231.6 363.3h1M222.0 370.0h1M231.1 359.8h1M235.8 369.7h1M214.4 374.6h1M214.5 363.7h1M225.7 367.2h1M223.5 359.2h1M214.6 368.1h1M224.1 360.7h1M219.8 377.5h1M219.8 367.0h1M220.7 364.1h1M225.5 362.7h1M227.4 356.6h1M220.4 378.2h1M227.4 367.4h1M235.6 361.0h1M222.4 357.7h1M217.2 374.8h1M232.1 363.3h1M209.2 362.8h1M215.7 363.9h1M224.6 359.3h1M235.5 354.6h1M224.2 369.9h1M226.1 359.0h1M236.5 368.0h1M216.8 368.4h1M213.7 361.0h1M232.1 364.0h1M233.9 361.4h1M211.8 372.7h1M218.4 362.3h1M220.1 371.9h1M228.8 373.1h1M224.6 354.4h1M235.3 365.0h1M223.2 359.1h1M235.1 351.1h1M220.7 356.8h1M213.0 362.8h1M236.6 363.9h1M219.8 360.4h1M226.5 365.8h1M212.4 366.1h1M227.0 367.2h1M227.6 365.5h1M211.1 359.6h1M225.9 359.0h1M224.2 363.0h1M227.5 358.8h1M236.2 357.8h1M231.3 364.2h1M234.3 361.0h1M212.1 369.2h1M240.3 357.7h1M231.1 363.4h1M219.8 364.1h1M224.3 371.5h1M233.0 369.5h1M234.2 369.3h1M226.3 357.3h1M239.1 357.7h1M234.9 359.6h1M224.1 366.1h1M215.1 364.2h1M218.4 365.8h1M216.2 369.6h1M233.2 370.8h1M238.9 355.7h1M231.7 359.2h1M228.7 362.1h1M222.4 366.7h1M216.6 372.3h1M221.2 361.0h1M224.8 367.8h1M222.4 368.9h1M233.9 367.7h1M218.0 368.4h1M233.4 367.7h1M229.7 365.9h1M214.1 368.2h1M237.1 355.5h1M239.5 351.5h1M220.0 358.8h1M231.2 362.2h1M240.8 355.7h1M220.7 359.5h1M227.8 368.2h1M234.3 365.6h1M232.0 360.0h1M230.7 362.0h1M220.8 376.8h1M226.0 358.1h1M229.5 363.4h1M236.7 365.4h1M205.7 379.8h1M234.5 353.4h1M213.5 373.4h1M229.3 363.9h1M216.9 367.1h1M229.3 366.1h1M242.4 355.4h1M215.8 357.2h1M233.3 358.7h1M222.7 360.5h1M226.7 353.5h1M227.1 364.0h1M231.4 367.9h1M225.5 364.8h1M228.2 353.9h1M224.1 365.6h1M230.8 356.5h1M232.7 362.0h1M211.6 364.7h1M216.1 371.0h1M229.3 366.0h1M230.5 358.1h1M235.7 362.5h1M230.6 363.8h1M217.7 371.2h1M215.6 363.8h1M223.8 366.1h1M224.8 362.9h1M219.3 369.2h1M217.1 361.6h1M230.3 369.5h1M220.4 361.5h1M240.3 364.7h1M223.4 364.5h1M235.0 375.0h1M229.5 367.4h1M224.6 354.6h1M215.0 363.9h1M229.4 362.5h1M238.2 354.9h1M228.4 362.9h1M232.9 372.8h1M231.8 368.7h1M233.8 355.7h1M230.0 359.4h1M227.2 364.1h1M225.0 362.0h1M236.5 355.9h1M235.3 367.7h1M233.1 365.4h1M238.7 362.2h1M234.7 350.5h1M240.1 355.3h1M211.8 369.3h1M215.9 370.2h1M212.7 366.6h1M228.5 363.3h1M219.7 366.6h1M225.5 364.7h1M225.4 363.1h1M228.2 353.5h1M222.8 366.8h1M221.7 363.6h1M223.4 366.8h1M234.5 357.6h1M225.0 366.6h1M219.3 357.2h1M227.0 361.3h1M223.5 369.1h1M224.9 361.5h1M205.9 366.8h1M225.8 363.5h1M229.7 362.9h1M219.3 361.0h1M217.8 368.4h1M219.6 372.2h1M211.9 362.7h1M220.1 357.7h1M235.2 352.6h1M225.0 363.2h1M215.6 360.5h1M214.8 375.9h1M238.9 368.2h1M216.9 372.9h1M228.0 367.5h1M224.1 369.3h1M234.0 362.4h1M236.0 356.8h1M235.3 354.2h1M231.0 345.3h1M224.1 360.7h1M228.6 368.2h1M231.4 361.2h1M234.5 350.3h1M224.0 373.8h1M223.1 354.1h1M225.4 357.6h1M239.6 362.0h1M225.3 371.7h1M222.3 371.5h1M229.9 360.9h1M215.0 369.3h1M208.1 372.0h1M215.8 377.3h1M212.8 358.5h1M231.1 362.9h1M227.7 374.9h1M231.7 360.8h1M213.8 354.9h1M231.9 365.7h1M218.1 360.9h1M221.4 357.4h1M228.0 367.1h1M237.6 358.3h1M229.3 366.2h1M235.3 356.4h1M215.1 366.3h1M214.7 366.1h1M226.0 365.9h1M227.3 363.6h1M224.5 367.3h1M234.3 363.1h1M236.1 356.1h1M228.5 372.0h1M228.5 364.8h1M226.0 369.5h1M220.5 361.7h1M224.4 362.5h1M231.1 358.7h1M226.3 362.6h1M226.8 359.9h1M230.3 353.2h1M221.4 362.9h1M230.8 361.2h1M228.7 360.5h1M218.0 362.7h1M222.2 363.3h1M228.9 364.2h1M232.8 359.2h1M217.9 363.1h1M227.4 365.2h1M240.5 356.0h1M243.4 363.7h1M221.5 373.7h1M237.6 364.4h1M228.4 367.9h1M222.4 365.9h1M230.7 371.2h1M226.9 368.9h1M224.7 360.8h1M229.4 365.6h1M222.5 369.8h1M218.6 363.6h1M227.0 362.1h1M214.8 361.8h1M226.8 364.9h1M223.2 366.8h1M216.0 372.5h1M229.7 363.3h1M221.8 367.1h1M229.7 367.8h1M228.6 363.8h1M223.0 370.8h1M233.2 356.7h1M231.4 362.4h1M222.4 359.0h1M233.9 348.5h1M227.2 361.1h1M233.2 357.1h1M227.8 366.3h1M228.0 359.8h1M231.9 362.5h1M231.8 357.5h1M224.7 362.6h1M220.6 368.8h1M232.5 367.9h1M224.6 367.0h1M233.9 358.4h1M226.8 364.3h1M218.5 363.1h1M234.5 359.7h1M222.3 359.3h1M229.8 368.2h1M215.5 365.5h1M237.6 364.8h1M235.8 354.8h1M228.4 358.3h1M228.8 360.2h1M230.8 368.6h1M227.8 361.5h1M227.1 364.8h1M222.8 367.1h1M234.3 367.6h1M208.2 368.4h1M219.3 373.1h1M244.0 353.9h1M229.7 368.1h1M208.0 374.2h1M204.1 378.6h1M221.1 364.3h1M227.0 360.1h1M234.0 359.0h1M235.1 372.6h1M225.1 369.8h1M223.2 372.7h1M233.3 360.3h1M237.2 366.1h1M235.9 357.8h1M228.4 368.7h1M214.0 368.1h1M230.9 364.1h1M243.7 362.8h1M229.4 364.3h1M216.1 369.1h1M227.3 361.9h1M228.0 366.2h1M217.8 366.0h1M216.2 376.5h1M214.2 361.8h1M231.0 359.7h1M232.0 358.2h1M243.0 357.4h1M227.4 363.8h1M226.6 368.2h1M239.2 353.4h1M219.7 371.3h1M229.9 353.2h1M218.6 363.1h1M231.3 363.5h1M217.9 362.7h1M225.7 352.7h1M230.2 360.5h1M242.2 359.5h1M221.2 365.5h1M222.2 362.3h1M229.0 367.5h1M214.7 369.8h1M238.5 360.3h1M218.2 364.4h1M215.9 361.4h1M234.3 359.2h1M217.4 361.3h1M222.0 363.7h1M237.1 354.5h1M229.5 367.8h1M230.3 360.3h1M214.0 379.3h1M229.2 359.6h1M223.0 360.6h1M215.9 362.0h1M230.9 363.9h1M229.2 366.4h1M230.1 362.1h1M221.2 370.3h1M236.0 361.3h1M233.7 356.6h1M222.2 373.3h1M222.5 367.6h1M224.7 364.9h1M222.7 363.0h1M218.1 379.5h1M222.6 355.4h1M216.8 363.5h1M214.4 357.1h1M234.2 368.0h1M226.1 368.1h1M227.1 356.4h1M230.4 351.9h1M221.0 365.1h1M235.2 358.9h1M223.1 361.3h1M226.7 363.8h1M234.6 366.3h1M231.3 360.8h1M228.9 371.1h1M227.4 363.0h1M242.6 362.3h1M229.7 361.1h1M224.2 371.1h1M225.2 369.8h1M220.7 367.9h1M229.2 362.8h1M228.6 364.5h1M215.3 364.5h1M229.5 371.8h1M222.8 360.9h1M221.4 367.0h1M232.9 356.5h1M230.4 362.3h1M221.1 361.8h1M223.1 361.8h1M225.4 354.6h1M235.8 362.1h1M233.8 367.4h1M226.0 354.6h1M227.5 365.6h1M218.4 362.5h1M230.3 364.1h1M222.4 364.9h1M221.0 364.0h1M228.3 368.5h1M213.8 369.7h1M238.1 358.2h1M229.2 366.6h1M215.9 363.6h1M210.7 365.5h1M229.9 366.3h1M221.4 363.1h1M230.4 364.7h1M223.1 355.3h1M215.9 356.3h1M225.6 359.6h1M225.1 372.8h1M236.5 360.1h1M228.4 363.5h1M221.8 366.4h1M237.3 352.1h1M221.8 367.5h1M234.3 363.4h1M218.9 367.7h1M221.1 360.3h1M225.4 361.8h1M233.5 361.7h1M220.7 367.7h1M221.9 363.0h1M225.2 370.3h1M218.9 359.0h1M222.6 370.6h1M238.5 350.4h1M222.7 364.3h1M217.1 371.8h1M226.3 365.3h1M241.0 353.1h1M233.6 363.8h1M220.1 364.4h1M238.7 360.0h1M224.3 359.0h1M233.5 362.2h1M245.1 360.2h1M232.3 361.5h1M225.1 361.5h1M228.8 363.6h1M233.3 365.4h1M226.8 360.5h1M235.5 366.6h1M221.2 369.3h1M231.2 363.7h1M229.3 361.4h1M229.5 371.1h1M234.7 350.9h1M209.3 376.8h1M220.0 364.9h1M215.7 372.4h1M224.3 362.1h1M238.3 369.7h1M239.2 362.2h1M224.7 368.4h1M228.6 368.7h1M230.0 361.3h1M228.1 358.7h1M235.3 366.5h1M224.8 367.8h1M216.7 375.0h1M229.6 356.1h1M238.5 356.8h1M210.5 366.2h1M231.5 359.1h1M229.9 353.0h1M227.7 368.3h1M222.9 369.7h1M224.3 366.9h1M233.8 371.4h1M219.3 372.5h1M232.4 353.8h1M232.3 372.8h1" stroke="#f00" stroke-width="1" stroke-opacity="0.55"/>
<path d="M228.7 336.7h1M219.2 352.7h1M228.7 355.5h1M218.8 360.3h1M229.5 357.2h1M217.3 366.3h1M229.3 354.0h1M234.1 344.5h1M231.0 357.0h1M242.9 348.0h1M215.9 357.7h1M252.0 353.4h1M214.9 366.7h1M223.1 377.7h1M225.2 346.5h1M233.6 366.5h1M229.7 365.0h1M227.6 364.0h1M227.8 356.2h1M232.4 360.8h1M225.1 357.9h1M217.8 370.0h1M228.2 341.5h1M227.1 373.9h1M235.4 351.7h1M239.2 347.2h1M226.4 379.2h1M222.4 363.4h1M206.3 366.0h1M214.6 368.6h1M211.8 380.3h1M221.9 360.4h1M223.8 370.7h1M243.3 349.7h1M251.5 362.0h1M243.8 355.4h1M214.2 375.7h1M224.2 365.8h1M206.3 372.1h1M227.1 354.6h1M237.3 370.7h1M228.0 356.2h1M246.3 333.3h1M219.4 370.4h1M213.2 351.2h1M233.9 365.6h1M224.6 376.3h1M237.8 366.4h1M211.3 371.6h1M252.9 364.6h1M242.4 353.7h1M227.7 356.9h1M237.5 350.6h1M221.8 348.2h1M229.4 363.0h1M203.8 375.7h1M245.3 339.4h1M201.3 376.0h1M221.4 364.0h1M209.2 361.4h1M216.8 373.9h1M230.5 367.5h1M218.3 372.6h1M223.5 365.4h1M238.4 356.3h1M218.0 353.7h1M231.6 366.6h1M220.8 365.6h1M203.6 364.8h1M237.2 367.7h1M218.5 353.4h1M218.1 354.5h1M232.1 376.0h1M230.7 359.1h1M238.0 353.0h1M232.4 361.2h1M227.5 349.8h1M239.1 363.1h1M223.6 377.2h1M230.7 366.2h1M237.4 364.1h1M218.8 362.3h1M234.4 363.5h1M235.6 360.5h1M226.7 372.1h1M237.1 365.8h1M201.8 378.9h1M221.1 367.0h1M221.6 363.1h1M231.4 363.0h1M209.8 350.9h1M221.4 370.5h1M220.2 370.1h1M220.4 358.3h1M247.1 365.1h1M226.7 362.3h1M233.7 347.4h1M222.5 374.8h1M236.2 353.1h1M220.7 369.2h1M210.5 367.8h1M216.3 347.7h1M237.4 363.1h1M234.5 345.9h1M210.7 365.0h1M216.0 366.3h1M232.0 363.6h1M240.1 345.7h1M238.4 357.3h1M215.5 370.5h1M223.6 373.2h1M240.2 349.6h1M218.5 368.6h1M219.6 374.6h1M227.1 355.9h1M223.0 371.1h1M218.5 365.8h1M223.7 378.4h1M242.1 365.1h1M235.6 358.4h1M249.4 355.3h1M235.0 362.9h1M237.3 359.0h1M220.2 352.8h1M246.2 340.3h1M201.2 371.3h1M254.2 357.4h1M222.2 367.6h1M220.3 349.3h1M225.3 366.1h1M236.7 346.6h1M232.0 360.4h1M230.2 362.0h1M218.8 355.5h1M234.5 361.6h1M239.2 366.3h1M205.3 354.9h1M219.2 370.5h1M230.6 366.8h1M262.2 337.8h1M223.8 359.2h1M232.7 363.8h1M222.0 376.9h1M242.6 357.4h1M225.9 361.2h1M212.0 376.9h1M215.1 365.1h1M235.8 349.6h1M225.3 371.0h1M246.3 345.4h1M238.0 350.6h1M234.2 362.6h1M219.0 376.1h1M248.5 350.6h1M226.6 352.6h1M248.4 350.8h1M216.5 375.3h1M209.0 367.0h1M250.5 343.5h1M218.5 362.5h1M223.7 369.3h1M240.6 346.0h1M226.2 347.4h1M244.8 351.5h1M225.9 376.5h1M231.9 371.6h1M246.3 365.8h1M219.2 367.6h1M231.4 358.3h1M242.5 347.5h1M244.4 364.3h1M202.4 368.4h1M215.8 364.3h1M231.7 358.3h1M227.2 358.5h1M228.9 365.7h1M233.5 352.1h1M223.9 357.8h1M220.6 353.8h1M241.3 360.2h1M224.1 358.4h1M220.4 360.6h1M260.4 332.6h1M217.0 373.3h1M228.9 347.8h1M208.4 378.0h1M222.7 365.8h1M225.9 358.4h1M225.3 361.0h1M241.7 353.3h1M225.7 358.8h1M218.1 361.3h1M235.0 373.9h1M241.4 356.3h1M250.6 357.7h1M229.7 359.6h1M216.6 370.7h1M218.5 353.8h1M232.3 363.8h1M228.5 357.7h1M237.3 366.0h1M226.4 367.3h1M237.7 352.2h1M227.1 356.1h1M233.4 355.7h1M238.0 349.6h1M245.9 349.0h1M215.2 361.6h1M232.3 352.1h1M253.1 358.6h1M228.5 349.4h1M225.0 357.4h1M209.2 376.5h1M250.8 344.2h1M241.9 365.1h1M215.9 366.0h1M232.8 363.3h1M215.9 370.9h1M230.4 368.9h1M207.9 368.7h1M221.1 363.2h1M233.8 353.2h1M256.2 339.6h1M241.3 363.2h1M238.1 354.4h1M217.7 365.7h1M235.9 358.5h1M236.7 361.9h1M214.5 361.7h1M242.4 349.5h1M215.1 361.4h1M234.6 348.4h1M222.1 374.5h1M239.2 378.8h1M229.7 361.5h1M219.9 364.7h1M222.3 365.1h1M231.9 348.7h1M209.8 354.4h1M244.7 351.7h1M227.6 361.7h1M240.5 357.6h1M236.9 355.4h1M226.4 362.4h1M206.5 365.8h1M235.8 358.0h1M243.5 367.8h1M254.1 358.9h1M233.1 376.8h1M217.8 367.2h1M238.4 354.1h1M225.3 360.5h1M234.1 337.1h1M246.3 360.6h1M229.3 366.1h1M221.3 375.5h1M259.0 336.1h1M243.5 352.6h1M222.4 361.0h1M221.2 355.1h1M229.9 365.7h1M233.3 363.1h1M207.3 365.8h1M238.9 364.4h1M212.9 365.7h1M218.4 373.2h1M232.0 360.0h1M222.0 368.5h1M225.6 357.0h1M229.3 355.5h1M241.1 359.9h1M222.5 370.3h1M226.1 357.0h1M211.5 357.1h1M216.6 371.6h1M239.2 350.1h1M231.1 363.2h1M238.5 359.8h1M244.7 359.0h1M220.9 369.5h1M201.0 376.1h1M230.4 365.6h1M227.7 369.4h1M239.7 348.0h1M222.9 367.2h1M234.1 359.7h1M232.9 348.9h1M241.1 364.5h1M242.1 357.6h1M226.8 366.1h1M221.2 352.2h1M221.0 365.7h1M218.7 359.3h1M224.0 361.1h1M228.6 361.2h1M233.7 367.3h1M231.1 363.8h1M203.2 350.8h1M226.0 369.0h1M221.8 360.2h1M217.4 375.9h1M223.0 367.0h1M242.7 358.1h1M252.8 346.6h1M241.4 360.3h1M220.8 366.6h1M217.8 359.0h1M228.5 355.0h1M244.1 346.3h1M222.2 366.1h1M222.4 365.7h1M215.8 356.7h1M246.8 355.0h1M228.0 358.0h1M227.5 364.9h1M209.4 365.8h1M222.7 376.0h1M220.5 376.5h1M227.2 362.7h1M246.5 358.9h1M234.6 349.0h1M247.1 365.5h1M225.0 359.5h1M219.5 375.7h1M231.3 360.1h1M220.2 380.6h1M237.8 356.2h1M241.1 346.2h1M234.2 349.8h1M242.9 351.0h1M240.2 351.3h1M236.8 366.8h1M218.2 368.5h1M221.8 373.0h1M219.8 363.5h1M230.1 370.9h1M216.2 368.6h1M222.2 360.6h1M218.5 366.1h1M224.4 350.7h1M226.2 352.8h1M236.7 376.7h1M216.9 367.9h1M228.8 370.0h1M216.0 353.5h1M210.5 373.6h1M234.9 367.3h1M224.5 369.8h1M220.9 377.3h1M224.7 358.1h1M236.5 372.2h1M213.8 359.5h1M212.2 361.1h1M228.7 364.6h1M226.9 364.3h1M240.3 352.4h1M205.3 355.3h1M228.2 356.0h1M226.7 366.3h1M227.3 348.8h1M217.5 368.7h1M230.7 370.4h1M214.6 351.9h1M235.0 343.8h1M218.5 370.8h1M232.7 363.9h1M231.4 379.2h1M231.4 353.8h1M235.8 342.9h1M222.5 367.7h1M226.0 354.9h1M251.3 361.3h1M218.9 370.5h1M219.2 363.3h1M239.6 356.4h1M227.2 363.4h1M219.4 377.5h1M224.4 375.4h1M221.1 362.0h1M245.4 353.6h1M218.8 362.7h1M241.8 370.2h1M233.4 355.5h1M212.9 364.9h1M227.6 364.4h1M225.4 374.6h1M214.5 363.6h1M235.4 361.9h1M227.2 370.8h1M259.9 360.5h1M236.7 374.0h1M233.6 370.3h1M226.5 364.6h1M227.4 347.2h1M232.1 374.5h1M239.6 358.1h1M235.4 369.7h1M224.7 347.5h1M216.3 366.2h1M227.9 358.2h1M233.1 373.5h1M240.8 359.8h1M228.4 362.3h1M233.0 361.2h1M222.8 371.8h1M218.6 367.1h1M219.7 356.9h1M234.6 357.6h1M214.6 369.1h1M217.9 380.3h1M241.2 371.5h1M224.3 370.3h1M213.9 362.8h1M228.5 365.2h1M237.4 354.3h1M244.0 361.1h1M217.5 366.5h1M224.1 379.0h1M225.1 371.3h1M237.3 354.4h1M223.8 367.4h1M214.6 358.8h1M218.4 370.5h1M236.7 372.2h1M209.4 377.1h1M219.4 376.9h1M236.3 358.3h1M243.1 350.0h1M218.1 358.6h1M221.1 367.0h1M240.3 365.9h1M222.3 359.0h1M222.7 361.4h1M221.3 362.4h1M218.0 367.3h1M221.6 364.2h1M213.0 371.9h1M236.8 362.5h1M217.6 358.2h1M209.1 362.8h1M219.7 364.2h1M210.7 377.8h1M208.2 367.5h1M223.0 372.0h1M247.2 347.9h1M223.5 361.2h1M225.1 362.2h1M251.5 339.1h1M223.8 357.6h1M230.1 356.4h1M230.4 351.3h1M252.3 349.8h1M210.9 377.9h1M218.5 357.6h1M231.0 355.8h1M234.2 353.7h1M238.6 357.1h1M232.6 360.7h1M222.6 362.0h1M235.7 363.7h1M231.7 379.0h1M242.6 343.8h1M239.8 354.6h1M227.7 355.4h1M243.3 346.1h1M224.4 357.9h1M254.2 357.6h1M211.7 367.6h1M230.5 356.9h1M220.1 357.4h1M226.8 353.4h1M246.1 372.0h1M230.5 374.6h1M229.7 355.3h1M220.6 358.1h1M231.9 365.7h1M237.3 354.3h1M214.5 369.2h1M247.6 353.1h1M219.6 349.1h1M225.2 368.3h1M222.5 376.7h1M218.5 360.1h1M221.2 365.1h1M237.0 352.0h1M207.9 372.9h1M239.5 368.5h1M221.0 378.7h1M237.2 360.6h1M216.3 361.3h1M220.9 374.1h1M234.4 367.4h1M248.2 350.5h1M234.5 374.5h1M211.9 367.5h1M222.5 362.0h1M226.5 355.8h1M235.9 345.9h1M212.8 356.5h1M214.6 374.7h1M234.3 356.7h1M239.6 360.6h1M221.5 365.5h1M239.5 372.5h1M224.5 367.2h1M238.5 366.3h1M236.7 366.1h1M215.3 367.2h1M206.4 374.1h1M254.7 348.7h1M230.0 363.2h1M224.8 352.7h1M219.7 365.4h1M226.7 355.5h1M224.2 358.0h1M211.0 366.3h1M222.2 372.5h1M245.0 357.2h1M223.6 359.9h1M208.7 368.7h1M249.6 359.4h1M229.6 359.0h1M229.6 364.7h1M229.5 364.8h1M219.7 367.3h1M228.1 371.1h1M219.0 378.2h1M225.2 359.4h1M228.7 362.7h1M227.0 366.2h1M215.4 355.0h1M235.6 357.4h1M247.9 353.9h1M222.4 369.9h1M256.6 354.8h1M215.6 368.5h1M212.7 376.5h1M230.5 352.0h1M236.5 365.1h1M234.5 352.6h1M216.3 359.4h1M214.9 372.3h1M233.2 370.0h1M229.9 358.3h1M217.9 380.9h1M229.7 360.8h1M213.1 361.8h1M231.5 351.9h1M236.8 362.3h1M217.9 354.2h1M237.7 368.3h1M214.3 359.3h1M240.6 356.0h1M225.6 373.8h1M226.6 366.7h1M220.9 359.9h1M227.3 355.2h1M206.4 370.0h1M245.7 361.1h1M255.7 354.5h1M246.8 353.3h1M224.9 367.8h1M220.2 372.8h1M224.0 366.5h1M218.1 366.7h1M238.1 354.4h1M221.6 368.1h1M237.1 355.3h1M209.5 359.7h1M217.1 377.3h1M228.8 365.6h1M240.9 357.0h1M231.5 355.8h1M212.5 376.3h1M229.1 366.3h1M215.8 368.0h1M247.2 343.9h1M233.9 369.7h1M225.9 364.3h1M207.3 380.5h1M227.8 373.0h1M225.7 360.3h1M232.0 357.8h1M228.0 375.0h1M239.3 356.5h1M240.0 362.1h1M234.6 358.7h1M230.3 364.2h1M235.6 360.7h1M221.7 365.1h1M229.5 353.0h1M230.7 366.9h1M228.9 359.2h1M226.1 359.2h1M237.5 353.5h1M205.3 365.1h1M232.1 361.5h1M218.1 356.9h1M223.4 357.8h1M220.8 366.3h1M220.7 368.9h1M218.2 363.9h1M230.8 372.7h1M248.8 357.9h1M220.0 366.8h1M241.0 361.3h1M209.9 372.1h1M222.6 371.5h1M233.2 354.7h1M250.7 346.7h1M254.4 345.5h1M233.9 374.4h1M220.6 362.5h1M244.2 352.5h1M228.8 351.2h1M251.3 356.8h1M234.5 364.2h1M220.8 362.3h1M212.1 374.4h1M244.8 359.5h1M240.7 360.7h1M213.2 359.9h1M235.7 359.1h1M237.9 354.1h1M219.9 370.5h1M216.1 355.5h1M218.2 360.5h1M213.8 365.8h1M246.9 370.6h1M245.6 348.5h1M240.4 354.4h1M230.1 355.4h1M221.2 352.2h1M245.1 346.0h1M232.4 354.7h1M226.8 353.1h1M227.2 370.1h1M227.7 346.3h1M232.8 348.6h1M233.1 363.5h1M219.9 364.2h1M226.8 366.1h1M243.0 364.7h1M238.8 372.4h1M224.0 379.1h1M227.9 368.5h1M227.0 363.4h1M219.3 370.3h1M250.9 350.1h1M227.8 362.3h1M235.2 356.3h1M228.8 363.5h1M245.8 359.7h1M214.2 364.9h1M231.3 367.2h1M238.0 354.7h1M250.9 347.6h1M248.6 361.9h1M246.4 353.2h1M229.0 349.0h1M206.3 369.7h1M239.8 364.1h1M230.6 369.2h1M239.9 367.8h1M207.6 367.1h1M213.8 361.8h1M242.9 345.9h1M217.5 364.9h1M236.2 353.6h1M238.1 360.8h1M212.6 351.6h1M213.5 360.2h1M243.5 347.3h1M217.6 371.2h1M225.3 356.0h1M243.4 360.8h1M228.4 355.6h1M211.1 355.0h1M233.7 362.1h1M218.0 368.1h1M260.2 334.3h1M211.4 376.7h1M221.6 361.8h1M234.5 357.3h1M240.9 358.9h1M241.3 355.4h1M213.0 379.4h1M225.9 351.9h1M231.9 367.1h1M216.9 368.9h1M216.3 360.6h1M225.8 373.9h1M235.5 357.5h1M227.6 363.4h1M231.9 361.4h1M212.4 378.7h1M209.3 351.5h1M231.5 350.1h1M226.1 362.4h1M223.4 369.1h1" stroke="#f00" stroke-width="1" stroke-opacity="0.45"/>
<path d="M254.4 356.5h1M250.4 356.5h1M249.9 358.3h1M263.8 363.8h1M258.5 350.3h1M262.1 363.4h1M268.1 345.2h1M256.1 356.2h1M262.4 351.9h1M253.8 371.3h1M261.9 346.7h1M256.1 365.9h1M252.4 361.5h1M256.6 349.7h1M252.3 364.5h1M263.0 354.6h1M262.6 354.0h1M257.5 357.9h1M248.6 359.9h1M253.7 342.4h1M251.1 353.2h1M251.1 352.5h1M251.9 344.0h1M261.3 358.5h1M257.5 356.5h1M256.4 356.5h1M249.6 349.4h1M256.4 363.9h1M257.4 367.3h1M247.9 356.5h1M252.4 365.1h1M266.0 355.1h1M260.3 356.7h1M250.1 357.4h1M249.9 366.9h1M259.5 364.8h1M258.1 344.1h1M260.7 358.6h1M241.9 358.6h1M262.0 367.8h1M250.0 362.6h1M258.0 357.0h1M254.3 361.1h1M259.4 361.8h1M253.6 350.5h1M263.8 365.5h1M252.7 357.8h1M260.8 347.9h1M258.9 371.9h1M257.6 354.0h1M268.1 358.1h1M257.3 355.6h1M257.1 347.7h1M248.4 349.6h1M261.3 357.5h1M262.8 346.3h1M252.5 366.4h1M251.3 347.3h1M251.6 356.0h1M255.9 365.5h1M263.8 366.9h1M259.4 355.1h1M253.1 349.5h1M263.5 365.2h1M256.5 352.9h1M260.0 360.8h1M256.9 351.3h1M257.4 354.8h1M260.4 361.4h1M258.6 355.6h1M265.0 362.5h1M263.5 362.8h1M259.9 360.3h1M249.7 347.6h1M250.5 361.5h1M261.4 359.1h1M256.5 368.6h1M253.7 347.8h1M246.9 356.2h1M260.1 362.2h1M254.7 362.7h1M255.7 353.8h1M253.8 362.4h1M261.6 351.5h1M250.2 358.7h1M268.5 351.3h1M248.6 360.4h1M259.0 354.5h1M255.8 360.8h1M245.7 357.9h1M259.5 363.3h1M262.9 357.6h1M247.5 365.7h1M260.5 354.3h1M262.1 364.0h1M255.2 344.4h1M253.2 353.7h1M251.1 357.5h1M249.6 360.2h1M267.1 351.2h1M262.1 354.9h1M259.2 357.3h1M263.5 353.9h1M260.3 353.5h1M257.3 357.9h1M262.4 348.9h1M248.1 366.0h1M258.3 367.8h1M249.9 359.2h1M259.5 368.2h1M255.7 355.4h1M260.2 357.4h1M251.6 362.4h1M244.8 352.2h1M264.0 355.1h1M254.1 360.1h1M262.6 361.0h1M250.3 354.7h1M262.2 357.3h1M252.3 363.0h1M262.7 370.5h1M249.7 353.9h1M251.9 360.0h1M253.2 364.4h1M240.2 363.5h1M252.2 356.4h1M259.3 359.2h1M250.1 366.6h1M259.4 355.2h1M257.2 351.6h1M248.8 356.3h1M258.1 358.6h1M251.5 350.0h1M246.2 367.2h1M258.2 353.4h1M263.0 361.1h1M253.6 354.5h1M262.7 359.9h1M265.6 360.1h1M252.6 354.6h1M251.9 359.5h1M257.5 361.5h1M258.6 352.0h1M254.8 352.6h1M258.8 350.4h1M252.6 353.1h1M252.4 356.5h1M264.8 356.5h1M247.6 356.3h1M260.4 361.2h1M257.4 369.5h1M262.5 358.5h1M263.1 350.3h1M255.0 353.0h1M257.0 367.3h1M253.1 367.2h1M250.0 366.2h1M246.1 353.1h1M261.8 357.5h1M256.8 357.9h1M257.1 357.0h1M250.3 356.3h1M256.6 352.8h1M258.7 368.1h1M246.4 354.9h1M254.4 358.1h1M256.6 353.8h1M255.8 358.0h1M255.5 366.9h1M256.8 349.5h1M246.9 361.4h1M254.0 354.4h1M248.1 356.2h1M255.5 354.1h1M254.0 363.1h1M260.6 361.1h1M255.0 350.2h1M260.5 366.6h1M263.4 364.7h1M257.6 360.2h1M255.9 365.2h1M254.4 370.4h1M260.5 356.2h1M256.0 348.7h1M251.7 356.3h1M270.3 353.3h1M261.4 358.4h1M254.3 361.6h1M244.4 363.4h1M267.3 359.7h1M255.6 358.9h1M259.9 355.2h1M256.7 360.9h1M254.0 360.2h1M257.9 362.1h1M250.3 354.9h1M253.5 364.9h1M257.5 348.5h1M248.6 369.2h1M258.0 350.6h1M250.7 358.8h1M264.3 367.3h1M253.9 356.3h1M267.2 352.3h1M265.1 360.0h1M256.6 365.4h1M258.8 353.2h1M247.1 358.1h1M259.0 365.9h1M240.8 365.7h1M259.6 366.7h1M260.6 359.2h1M258.5 360.3h1M252.3 357.3h1M256.7 355.4h1M247.5 349.7h1M258.9 361.0h1M256.6 351.3h1M261.0 355.7h1M243.9 367.0h1M247.3 371.0h1M259.1 355.5h1M242.3 353.9h1M264.6 365.8h1M257.5 348.1h1M253.8 356.4h1M258.7 357.3h1M258.0 348.6h1M252.3 366.3h1M247.5 363.3h1M269.5 361.8h1M247.9 365.2h1M245.2 359.9h1M253.6 365.1h1M262.9 359.1h1M266.4 363.7h1M253.2 352.3h1M270.3 355.7h1M258.4 357.3h1M253.2 348.7h1M255.2 357.3h1M261.7 355.0h1M246.9 351.8h1M255.8 359.4h1M260.2 355.8h1M259.1 358.8h1M265.8 357.7h1M256.8 361.3h1M263.1 352.7h1M253.2 356.4h1M243.6 365.5h1M262.3 358.1h1M275.6 365.3h1M267.8 367.1h1M261.3 349.8h1M264.9 360.4h1M249.0 358.3h1M260.4 363.7h1M257.0 355.0h1M260.5 353.6h1" stroke="#f00" stroke-width="1" stroke-opacity="0.45"/>
<path d="M266.8 337.4h1M256.0 343.0h1M246.9 339.2h1M255.4 339.5h1M268.6 328.7h1M270.5 328.4h1M264.8 336.7h1M263.0 335.0h1M268.5 324.2h1M266.9 320.8h1M255.0 325.3h1M267.3 344.2h1M271.9 337.6h1M249.8 336.0h1M270.7 334.7h1M262.3 319.6h1M267.1 329.8h1M266.9 334.8h1M254.8 325.8h1M250.6 331.5h1M254.6 339.7h1M269.7 322.0h1M253.9 331.4h1M252.7 343.1h1M259.7 334.5h1M259.7 340.9h1M258.3 342.6h1M263.0 340.8h1M260.0 340.3h1M266.6 330.1h1M275.7 324.7h1M261.1 341.6h1M256.1 334.8h1M264.9 333.9h1M267.9 314.4h1M267.2 340.3h1M264.3 335.6h1M268.9 318.0h1M267.7 336.9h1M252.5 327.2h1M258.1 339.6h1M273.3 341.5h1M266.2 317.5h1M274.9 331.9h1M274.2 323.1h1M260.9 336.9h1M277.1 327.5h1M278.8 327.5h1M255.7 331.1h1M269.9 314.7h1M260.3 333.3h1M255.4 335.2h1M274.4 345.3h1M261.3 330.7h1M268.9 337.2h1M256.8 335.5h1M255.3 346.5h1M275.1 336.9h1M265.4 351.0h1M268.7 326.7h1M260.0 333.6h1M259.2 343.8h1M256.8 332.7h1M268.0 330.7h1M259.1 335.1h1M266.6 342.8h1M267.6 323.6h1M269.7 340.3h1M269.8 343.9h1M269.9 334.0h1" stroke="#f00" stroke-width="1" stroke-opacity="0.35"/>
<path d="M266.8 327.2h1M259.5 305.8h1M258.6 306.4h1M264.0 311.9h1M275.5 312.1h1M267.8 311.9h1M275.9 327.1h1M266.5 327.6h1M261.8 329.3h1M269.2 320.5h1M265.3 308.1h1M258.6 326.6h1M264.7 321.0h1M267.4 315.8h1M260.6 305.3h1M264.1 320.4h1M269.7 300.1h1M274.2 313.0h1" stroke="#f00" stroke-width="1" stroke-opacity="0.35"/>
<path d="M249.9 325.0h1M253.7 340.2h1M262.9 326.8h1M254.7 325.9h1M255.6 327.4h1M269.3 339.3h1M266.8 341.9h1M265.7 321.1h1M249.2 322.4h1M255.0 332.3h1M270.2 333.8h1M259.6 324.5h1M274.5 338.3h1M257.2 319.2h1M274.5 324.9h1M270.9 321.2h1M265.6 327.6h1M272.0 326.0h1M250.7 323.4h1M269.8 344.4h1M265.4 336.4h1M255.6 325.4h1" stroke="#f00" stroke-width="1" stroke-opacity="0.35"/>
<path d="M213.1 344.8h1M211.6 339.2h1M222.6 332.8h1M225.7 344.0h1M218.9 332.5h1M232.7 339.9h1M228.4 332.7h1M241.5 331.7h1M216.3 333.6h1M228.5 337.1h1M229.9 340.9h1M242.2 337.0h1M211.5 342.5h1M210.7 334.8h1M215.2 339.0h1M238.1 331.9h1M220.6 342.8h1M234.8 331.6h1" stroke="#f00" stroke-width="1" stroke-opacity="0.3"/>
<path d="M231.9 379.9h1M219.4 373.6h1M230.7 375.2h1M207.0 373.6h1M219.1 373.3h1M218.3 377.5h1M225.8 376.0h1M237.0 372.9h1M215.8 381.3h1M239.9 381.2h1M235.4 377.4h1M236.4 377.7h1M206.3 374.6h1M205.4 380.8h1M215.5 376.1h1M225.2 373.0h1M232.8 380.0h1M236.8 380.8h1M215.3 373.5h1M235.3 378.9h1M217.7 375.4h1M207.9 380.3h1M221.7 380.1h1M216.3 375.2h1M224.1 379.5h1M240.7 375.5h1M232.2 376.0h1M239.8 379.6h1M226.0 375.6h1M213.3 380.8h1" stroke="#f00" stroke-width="1" stroke-opacity="0.35"/>
<path d="M273.6 358.1h1M250.7 354.4h1M278.9 349.3h1M273.9 365.5h1M265.7 365.8h1M261.1 366.4h1M250.9 378.4h1M251.3 352.6h1M269.5 369.1h1M273.8 370.9h1M277.8 349.7h1M248.3 355.8h1M272.9 353.0h1M265.0 373.4h1M253.0 365.4h1M276.8 372.7h1M260.7 363.8h1M256.9 379.7h1M273.0 370.5h1M257.7 372.2h1M263.6 374.3h1M259.6 377.1h1M269.9 362.9h1M266.0 374.6h1M264.9 379.7h1M248.2 377.6h1M270.9 364.2h1M275.2 352.9h1M258.8 371.6h1M274.3 360.3h1M279.8 369.4h1M249.4 352.1h1M250.4 366.8h1M258.3 356.6h1M262.3 350.6h1M277.1 375.7h1M265.9 362.7h1M257.9 367.9h1M259.1 380.2h1M278.6 372.0h1M274.4 350.5h1M252.0 359.4h1M252.0 361.9h1M279.6 375.5h1M278.7 355.3h1M255.1 348.8h1M256.8 349.9h1M264.9 357.9h1M269.6 366.5h1M267.1 357.9h1" stroke="#f00" stroke-width="1" stroke-opacity="0.4"/>
<rect x="199.8" y="292.2" width="83.5" height="90.4" fill="none" stroke="#9a9a9a" stroke-width="0.9"/>
<line x1="246.50" y1="292.20" x2="246.50" y2="382.60" stroke="#666" stroke-width="0.85"/>
<line x1="199.80" y1="345.50" x2="283.30" y2="345.50" stroke="#666" stroke-width="0.85"/>
<path d="M198.4 380.1h1.4M198.4 377.3h1.4M198.4 375.2h1.4M198.4 373.4h1.4M198.4 371.9h1.4M198.4 370.7h1.4M198.4 369.5h1.4M197.6 368.5h2.2M198.4 361.8h1.4M198.4 357.9h1.4M198.4 355.1h1.4M198.4 353.0h1.4M198.4 351.2h1.4M198.4 349.7h1.4M198.4 348.5h1.4M198.4 347.3h1.4M197.6 346.3h2.2M198.4 339.6h1.4M198.4 335.7h1.4M198.4 332.9h1.4M198.4 330.8h1.4M198.4 329.0h1.4M198.4 327.5h1.4M198.4 326.3h1.4M198.4 325.1h1.4M197.6 324.1h2.2M198.4 317.4h1.4M198.4 313.5h1.4M198.4 310.7h1.4M198.4 308.6h1.4M198.4 306.8h1.4M198.4 305.3h1.4M198.4 304.1h1.4M198.4 302.9h1.4M197.6 301.9h2.2M201.0 383.0v1.6M203.6 383.0v1.6M205.7 383.0v1.6M207.3 383.0v1.6M208.7 383.0v1.6M210.0 383.0v1.6M211.0 383.0v1.6M212.0 383.0v2.4M218.3 383.0v1.6M222.0 383.0v1.6M224.6 383.0v1.6M226.7 383.0v1.6M228.3 383.0v1.6M229.7 383.0v1.6M231.0 383.0v1.6M232.0 383.0v1.6M233.0 383.0v2.4M239.3 383.0v1.6M243.0 383.0v1.6M245.6 383.0v1.6M247.7 383.0v1.6M249.3 383.0v1.6M250.7 383.0v1.6M252.0 383.0v1.6M253.0 383.0v1.6M254.0 383.0v2.4M260.3 383.0v1.6M264.0 383.0v1.6M266.6 383.0v1.6M268.7 383.0v1.6M270.3 383.0v1.6M271.7 383.0v1.6M273.0 383.0v1.6M274.0 383.0v1.6M275.0 383.0v2.4M281.3 383.0v1.6" stroke="#3a3a3a" stroke-width="0.8" fill="none"/>
<text transform="translate(196.80,368.50) rotate(-90)" font-size="3.9" text-anchor="middle" fill="#444">10<tspan font-size="3" dy="-1.6">2</tspan></text>
<text transform="translate(210.80,390.40) rotate(-30)" font-size="3.9" text-anchor="middle" fill="#444">10<tspan font-size="3" dy="-1.6">2</tspan></text>
<text transform="translate(196.80,346.30) rotate(-90)" font-size="3.9" text-anchor="middle" fill="#444">10<tspan font-size="3" dy="-1.6">3</tspan></text>
<text transform="translate(231.80,390.40) rotate(-30)" font-size="3.9" text-anchor="middle" fill="#444">10<tspan font-size="3" dy="-1.6">3</tspan></text>
<text transform="translate(196.80,324.10) rotate(-90)" font-size="3.9" text-anchor="middle" fill="#444">10<tspan font-size="3" dy="-1.6">4</tspan></text>
<text transform="translate(252.80,390.40) rotate(-30)" font-size="3.9" text-anchor="middle" fill="#444">10<tspan font-size="3" dy="-1.6">4</tspan></text>
<text transform="translate(196.80,301.90) rotate(-90)" font-size="3.9" text-anchor="middle" fill="#444">10<tspan font-size="3" dy="-1.6">5</tspan></text>
<text transform="translate(273.80,390.40) rotate(-30)" font-size="3.9" text-anchor="middle" fill="#444">10<tspan font-size="3" dy="-1.6">5</tspan></text>
<ellipse cx="116.3" cy="471.6" rx="9.5" ry="4.8" transform="rotate(-42 116.3 471.6)" fill="#f00" opacity="0.95" filter="url(#soft)"/>
<path d="M112.1 468.4h1M112.6 469.9h1M112.9 475.5h1M122.2 467.6h1M113.0 472.6h1M119.0 461.9h1M118.4 463.1h1M113.4 474.4h1M118.9 476.6h1M118.5 469.4h1M120.9 467.6h1M115.0 477.8h1M126.2 468.4h1M115.0 481.3h1M116.0 475.3h1M127.2 472.4h1M106.4 476.0h1M123.0 467.8h1M108.3 465.7h1M118.0 469.3h1M109.9 489.3h1M103.2 480.9h1M116.8 472.2h1M119.3 467.7h1M111.3 474.5h1M103.9 477.8h1M124.1 461.5h1M120.1 476.6h1M121.6 467.4h1M119.2 467.8h1M114.2 477.9h1M120.5 475.0h1M114.2 471.8h1M117.5 469.7h1M112.8 470.7h1M118.2 471.3h1M124.9 463.7h1M109.0 480.2h1M126.2 460.8h1M112.1 474.6h1M102.0 483.0h1M112.0 468.7h1M117.1 467.0h1M105.9 477.7h1M123.6 473.6h1M122.7 466.7h1M113.3 473.1h1M119.7 466.2h1M120.4 472.2h1M110.7 474.0h1M118.4 469.7h1M114.5 470.8h1M120.1 476.5h1M119.1 461.8h1M116.7 471.6h1M113.4 468.0h1M116.0 472.5h1M113.8 475.3h1M101.4 478.3h1M117.7 472.1h1M114.5 471.2h1M119.6 473.5h1M120.4 467.6h1M116.5 476.2h1M120.8 471.5h1M113.1 470.7h1M115.8 469.3h1M123.7 468.8h1M107.4 482.6h1M124.9 468.5h1M112.1 471.5h1M123.2 470.0h1M114.0 468.5h1M109.7 478.8h1M110.9 473.4h1M120.7 472.3h1M105.0 478.8h1M122.4 465.9h1M116.1 474.6h1M108.2 473.4h1M119.9 475.4h1M121.1 467.3h1M120.2 466.3h1M107.0 472.5h1M119.6 472.7h1M118.0 469.9h1M116.8 476.0h1M112.9 468.2h1M121.4 464.1h1M118.2 469.9h1M121.9 467.7h1M122.6 466.9h1M113.0 472.3h1M117.5 466.8h1M120.2 467.0h1M110.0 473.4h1M119.6 476.6h1M120.0 468.4h1M116.3 480.2h1M115.0 472.8h1M117.3 476.7h1M116.1 469.7h1M115.0 468.3h1M110.9 475.7h1M105.3 486.8h1M123.3 460.4h1M112.1 468.3h1M117.6 471.4h1M116.8 465.1h1M112.0 472.6h1M120.2 478.3h1M115.3 472.4h1M115.7 475.7h1M131.1 463.5h1M121.2 462.4h1M121.4 467.1h1M124.6 468.9h1M115.7 464.6h1M115.8 469.8h1M118.5 469.8h1M117.7 463.1h1M112.6 474.6h1M116.9 469.2h1M116.3 471.9h1M121.0 466.8h1M113.4 466.1h1M100.6 479.2h1M112.9 464.4h1M118.0 469.6h1M114.7 469.8h1M116.2 475.5h1M117.9 470.0h1M114.5 474.2h1M121.9 466.5h1M111.9 470.2h1M114.7 468.9h1M111.4 479.9h1M108.8 469.2h1M117.0 479.2h1M112.8 468.8h1M112.7 478.1h1M118.7 470.4h1M116.5 473.6h1M124.7 466.2h1M112.4 468.8h1M121.9 473.6h1M116.6 465.7h1M120.1 474.0h1M114.4 475.5h1M125.7 470.5h1M104.8 474.1h1M119.7 471.7h1M114.6 473.1h1M117.0 476.3h1M106.3 481.7h1M108.7 475.4h1M107.0 475.9h1M116.2 471.8h1M124.3 463.4h1M118.7 471.0h1M120.8 474.1h1M117.3 471.4h1M115.8 472.1h1M118.3 474.3h1M116.5 471.7h1M117.8 473.7h1M116.2 476.0h1M115.1 475.8h1M126.0 463.9h1M113.2 469.0h1M119.8 468.5h1M119.2 466.1h1M122.8 473.9h1M117.5 469.1h1M110.1 477.2h1M120.8 470.3h1M108.7 473.8h1M109.4 473.2h1M115.6 473.4h1M125.9 463.8h1M119.5 461.2h1M125.4 467.0h1M120.3 471.8h1M123.5 473.7h1M116.2 463.8h1M111.6 483.1h1M118.9 475.3h1M113.2 471.4h1M115.4 473.9h1M115.8 469.3h1M120.2 470.8h1M109.4 472.8h1M106.3 479.3h1M114.8 469.8h1M113.1 473.9h1M117.7 472.9h1M121.3 469.1h1M119.5 464.4h1M120.0 469.9h1M109.8 474.4h1M118.6 469.9h1M109.1 475.6h1M125.5 467.2h1M119.7 474.6h1M111.6 475.1h1M120.1 466.6h1M112.3 477.9h1M118.2 458.4h1M114.2 467.8h1M111.7 469.4h1M127.2 458.7h1M114.9 469.6h1M110.6 474.7h1M121.2 475.1h1M121.2 474.3h1M111.4 476.4h1M110.7 469.6h1M133.5 455.0h1M115.8 468.7h1M111.2 471.5h1M120.3 466.2h1M116.0 472.7h1M111.0 477.5h1M116.5 473.4h1M114.5 473.4h1M120.9 471.8h1M115.2 477.0h1M111.2 475.4h1M117.2 471.4h1M102.2 479.9h1M117.5 474.7h1M116.3 478.4h1M107.9 479.5h1M118.9 469.3h1M119.7 472.8h1M113.8 476.5h1M120.9 466.4h1M102.6 478.6h1M109.8 472.6h1M116.5 467.7h1M129.4 462.4h1M109.4 476.5h1M125.1 466.7h1M113.8 478.6h1M119.0 479.2h1M115.0 475.5h1M118.0 468.1h1M118.2 475.2h1M118.5 469.3h1M122.4 474.1h1M121.8 468.8h1M114.4 466.3h1M115.9 469.8h1M118.4 466.9h1M116.1 467.0h1M118.9 465.9h1M117.5 473.2h1M114.8 473.0h1M125.3 471.5h1M105.7 477.1h1M121.6 471.0h1M114.3 473.9h1M120.5 478.1h1M112.7 469.5h1M106.0 475.1h1M121.6 465.0h1M127.0 464.8h1M119.6 471.6h1M122.1 470.5h1M110.4 474.4h1M113.9 474.2h1M112.3 469.6h1M117.0 479.0h1M124.5 460.3h1M118.0 469.9h1M113.9 477.0h1M119.7 476.1h1M117.8 468.9h1M103.4 482.7h1M118.7 466.2h1M122.1 469.5h1M107.4 478.7h1M119.5 472.1h1M117.0 470.9h1M114.0 472.4h1M113.9 468.9h1M118.6 468.0h1M117.7 468.1h1M118.5 470.2h1M121.6 468.9h1M120.4 467.2h1M115.4 471.2h1M110.0 476.7h1M123.2 468.8h1M112.9 476.0h1M116.8 465.0h1M118.7 470.9h1M120.4 469.0h1M103.5 474.1h1M124.9 462.1h1M125.2 469.3h1M114.2 468.4h1M122.7 465.6h1M119.9 470.6h1M123.1 470.0h1M106.4 474.2h1M117.0 471.0h1M119.7 467.9h1M120.0 477.4h1M125.5 468.6h1M119.5 465.2h1M115.7 471.8h1M109.1 474.1h1M114.3 467.9h1M119.9 470.4h1M114.4 471.8h1M120.3 470.2h1M115.3 467.0h1M113.1 483.7h1M112.4 473.5h1M105.8 477.5h1M114.6 476.7h1M100.6 479.5h1M113.2 472.2h1M111.6 473.8h1M109.4 479.0h1M122.3 466.8h1M116.6 477.0h1M116.3 466.9h1M112.2 472.5h1M118.8 474.8h1M112.6 474.3h1M114.2 468.2h1M115.4 475.2h1M117.5 462.1h1M119.0 467.8h1M123.8 467.6h1M126.4 463.9h1M112.6 471.2h1M110.7 479.1h1M120.6 471.4h1M114.6 466.4h1M113.8 472.7h1M118.8 472.8h1M123.7 466.2h1M104.2 477.9h1M104.4 478.9h1M111.1 477.3h1M117.7 475.3h1M120.4 465.8h1M120.8 467.6h1M121.5 473.0h1M110.7 476.4h1M121.9 463.1h1M117.6 471.0h1M111.4 470.1h1M110.8 472.1h1M122.0 467.6h1M117.0 465.6h1M119.0 469.8h1M119.7 465.3h1M123.2 471.5h1M122.8 461.5h1M107.7 472.8h1M122.2 468.9h1M116.0 468.0h1M125.9 470.2h1M115.9 471.5h1M123.1 467.7h1M121.8 464.8h1M117.2 469.3h1M112.9 473.3h1M116.1 474.1h1M115.0 473.1h1M109.7 472.0h1M120.9 463.0h1M127.1 466.1h1M104.0 479.9h1M114.4 473.4h1M114.1 470.9h1M122.0 465.9h1M119.4 465.8h1M116.0 477.9h1M112.5 470.1h1M117.8 474.9h1M113.9 470.5h1M121.5 471.3h1M114.6 471.7h1M120.6 479.8h1M119.3 476.7h1M116.5 473.2h1M107.0 480.8h1M115.9 470.6h1M111.3 470.0h1M109.6 478.4h1M113.1 474.1h1M114.3 471.1h1M117.0 479.3h1M109.9 475.1h1M112.3 470.0h1M113.7 477.8h1M121.0 467.9h1M133.6 459.7h1M120.4 464.3h1M125.2 471.1h1M118.5 477.7h1M109.9 472.3h1M114.3 469.8h1M116.9 466.1h1M112.4 466.4h1M118.5 474.3h1M115.7 473.5h1M119.1 464.2h1M110.4 477.3h1M117.0 469.7h1M114.4 478.8h1M110.2 475.9h1M117.7 473.6h1M112.4 471.5h1M124.0 460.9h1M119.8 467.8h1M113.9 473.5h1M115.8 473.5h1M104.1 482.4h1M114.5 468.9h1M119.7 479.0h1M126.5 465.2h1M116.8 469.8h1M121.9 464.5h1M113.9 476.8h1M110.0 473.8h1M119.7 461.4h1M116.3 472.2h1M114.3 466.9h1M114.5 471.7h1M127.7 465.8h1M114.7 477.0h1M119.2 468.5h1M114.6 471.9h1M107.6 476.7h1M124.0 471.1h1M124.3 462.7h1M113.9 463.0h1M112.2 469.6h1M116.6 464.0h1M108.9 473.3h1M120.1 471.9h1M115.9 480.0h1M115.2 468.8h1M118.0 470.0h1M121.1 468.9h1M129.4 465.1h1M115.0 476.3h1M117.7 465.8h1M111.0 472.8h1M106.0 483.7h1M118.0 475.5h1M113.8 474.2h1M121.9 470.9h1M115.5 467.6h1M128.8 464.3h1M126.4 469.7h1M123.9 466.6h1M120.0 471.1h1M111.0 480.0h1M112.6 476.8h1M113.1 477.7h1M119.5 479.8h1M118.4 472.0h1M111.4 474.8h1M115.4 471.1h1M112.3 471.3h1M119.1 467.4h1M113.3 476.0h1M112.1 474.6h1M111.8 471.5h1M113.4 470.5h1M111.1 477.8h1M111.7 469.2h1M114.9 473.7h1M119.2 470.7h1M118.9 472.0h1M112.2 471.7h1M118.3 467.9h1M117.8 473.1h1M123.5 470.6h1M112.2 473.6h1M115.8 465.7h1M111.7 478.5h1M111.4 471.9h1M121.3 469.4h1M120.0 466.8h1M114.2 472.0h1M113.3 465.3h1M114.6 476.3h1M112.5 474.7h1M118.1 472.3h1M111.6 470.8h1M126.6 459.1h1M120.6 459.9h1M116.4 470.6h1M129.9 468.5h1M118.7 464.9h1M110.9 473.2h1M114.5 474.4h1M112.1 474.3h1M126.5 468.8h1M105.4 477.2h1M117.4 476.3h1M119.0 477.7h1M121.3 473.5h1M111.6 474.5h1M122.5 468.6h1M106.9 478.9h1M118.6 472.3h1M117.2 478.6h1M120.3 474.5h1M118.4 470.0h1M112.3 470.1h1M122.1 469.7h1M120.0 466.6h1M110.7 474.9h1M114.8 472.9h1M119.0 465.1h1M115.6 475.3h1M125.5 473.1h1M117.0 467.2h1M109.7 474.1h1M117.2 471.9h1M114.7 470.3h1M115.3 472.2h1M119.4 469.2h1M109.9 472.2h1M123.2 465.0h1M115.5 472.2h1M121.0 466.0h1M116.7 470.2h1M116.9 466.6h1M119.6 473.2h1M123.3 468.0h1M121.2 474.1h1M122.8 472.0h1M108.3 474.0h1M119.6 467.5h1M112.2 471.1h1M120.8 462.3h1M113.8 467.7h1M120.5 477.8h1M126.8 460.0h1M115.2 479.8h1M108.4 470.8h1M115.6 467.4h1M112.0 480.5h1M110.6 472.1h1M116.7 470.4h1M121.9 467.0h1M126.4 467.5h1M127.3 466.7h1M117.9 472.6h1M113.0 467.6h1M112.4 478.4h1M103.4 479.6h1M110.2 476.9h1M112.0 476.6h1M114.4 471.2h1M107.5 469.7h1M113.9 468.1h1M115.8 473.7h1M122.9 468.8h1M120.2 461.8h1M123.0 472.5h1M115.8 467.1h1M117.1 468.6h1M115.7 476.9h1M113.1 469.6h1M117.5 479.2h1M113.9 476.8h1M119.8 473.6h1M113.0 470.4h1M111.1 471.8h1M129.1 461.0h1M117.6 476.0h1M119.1 468.3h1M119.9 469.6h1M125.3 470.8h1M114.8 472.8h1M118.2 475.3h1M119.9 471.8h1M119.2 466.2h1M120.0 474.4h1M122.5 469.6h1M114.3 471.8h1M111.7 474.5h1M112.9 468.3h1M120.2 464.7h1M118.9 471.9h1M109.8 469.5h1M121.8 468.4h1M117.7 475.4h1M118.5 465.4h1M112.1 467.6h1M118.3 476.1h1M114.2 477.1h1M108.6 477.2h1M124.6 471.7h1M120.2 471.5h1M119.1 458.3h1M112.5 483.4h1M129.3 462.5h1M117.3 471.9h1M115.2 469.9h1M116.0 471.3h1M121.0 470.4h1M122.3 468.8h1M114.9 479.1h1M104.1 483.2h1M116.8 468.8h1M122.8 460.9h1M109.8 475.3h1M120.1 471.7h1M118.4 472.7h1M111.8 473.0h1M114.0 467.7h1M116.4 469.8h1M117.4 466.2h1M112.7 472.4h1M112.5 470.6h1M112.2 469.3h1M120.4 470.9h1M115.9 471.1h1M110.1 473.0h1M113.4 470.3h1M111.2 476.9h1M115.4 470.6h1M112.4 474.8h1M112.2 473.4h1M118.8 472.5h1M118.6 466.9h1M119.5 463.6h1M118.4 475.4h1M127.8 461.8h1M113.9 472.1h1M110.4 476.3h1M112.7 471.5h1M120.3 464.6h1M126.2 466.4h1M118.1 467.4h1M109.6 468.8h1M117.1 469.7h1M116.7 468.3h1M115.4 465.8h1M107.2 481.9h1M114.5 459.3h1M121.6 465.3h1M112.2 468.5h1M113.3 477.5h1M112.9 474.5h1M120.0 477.0h1M117.6 464.6h1M111.6 470.8h1M108.4 475.7h1M121.6 467.0h1M119.2 468.4h1M114.6 473.5h1M120.3 476.6h1M125.6 464.9h1M114.8 464.1h1M121.1 477.9h1M114.4 476.9h1M121.2 465.4h1M114.3 471.4h1M120.1 468.3h1M126.0 468.1h1M122.0 477.9h1M113.6 471.4h1M113.3 470.4h1M114.3 473.1h1M117.1 463.9h1M108.1 475.5h1M116.0 473.9h1M116.0 478.5h1M113.4 473.2h1M119.2 474.2h1M117.8 470.4h1M114.2 474.2h1M117.5 469.0h1M112.2 467.1h1M116.5 476.7h1M122.8 465.4h1M110.3 485.1h1M121.2 478.5h1M116.7 475.7h1M116.5 477.5h1M119.4 464.1h1M128.7 473.1h1M112.7 469.5h1M116.8 469.4h1M107.1 475.3h1M114.1 466.8h1M122.4 468.1h1M118.6 475.7h1M113.6 477.1h1M109.3 476.4h1M118.2 467.6h1M117.3 473.6h1M126.3 468.4h1M117.9 469.0h1M113.4 481.8h1M120.3 458.4h1M120.3 467.8h1M120.3 469.4h1M115.4 472.4h1M118.7 474.6h1M113.9 471.3h1M120.8 470.4h1M119.0 470.4h1M125.7 468.1h1M116.9 470.2h1M115.3 464.2h1M112.4 472.0h1M116.3 469.9h1M129.4 463.1h1M123.2 475.4h1M115.6 470.8h1M123.9 468.4h1M123.3 470.7h1M113.2 471.5h1M113.2 474.8h1M118.7 464.8h1M110.9 470.5h1M127.4 465.2h1M114.7 467.7h1M110.1 474.3h1M113.7 468.3h1M118.0 475.5h1M116.6 471.7h1M106.0 479.7h1M114.1 470.5h1M109.8 477.2h1M110.4 474.5h1M108.7 478.0h1M118.7 465.7h1M114.5 466.5h1M120.2 470.5h1M116.5 475.4h1M112.4 475.3h1M124.1 464.5h1M113.7 479.1h1M118.2 468.6h1M103.7 474.5h1M112.6 481.6h1M115.8 468.2h1M124.9 470.4h1M113.5 476.3h1M109.5 479.4h1M121.6 460.5h1M115.2 469.8h1M116.1 472.2h1M119.6 472.6h1M121.0 472.0h1M123.5 470.0h1M114.1 475.4h1M112.7 471.0h1M126.1 464.1h1M111.9 466.2h1M117.0 474.4h1M114.2 471.1h1M122.5 464.6h1M114.6 472.7h1M117.6 475.1h1M118.8 469.0h1M114.2 472.5h1M123.5 463.8h1M115.9 465.0h1M119.4 471.9h1M122.9 467.0h1M119.7 469.9h1M125.8 472.2h1M115.5 468.7h1M118.9 468.8h1M121.0 470.8h1M116.1 469.8h1M115.0 467.2h1M115.6 468.2h1M118.7 470.0h1M112.7 469.5h1M115.1 469.7h1M117.2 473.9h1M117.9 464.4h1M123.7 471.0h1M122.2 467.6h1M119.8 476.2h1M111.5 469.1h1M117.4 471.9h1M108.9 472.9h1M125.8 463.6h1M118.7 466.9h1M108.9 477.4h1M121.1 464.3h1M107.7 478.6h1M115.1 472.8h1M110.8 475.1h1M115.8 476.0h1M119.0 473.1h1M111.4 466.5h1M108.5 481.0h1M122.3 470.1h1M112.0 467.5h1M115.0 474.6h1M122.0 465.0h1M112.0 472.0h1M123.0 469.5h1M110.6 482.1h1M108.8 471.8h1M107.4 476.4h1M132.7 468.2h1M109.1 475.1h1M118.0 471.9h1M110.6 469.6h1M112.9 471.6h1M108.4 479.4h1M105.7 473.4h1M125.5 467.6h1M123.3 465.8h1M114.3 473.1h1M111.7 479.1h1M116.9 469.7h1M107.5 479.1h1M127.1 468.4h1M119.6 467.0h1M118.2 472.3h1M119.6 473.3h1M108.1 468.6h1M103.1 479.4h1M111.4 478.9h1M121.3 467.1h1M119.0 469.5h1M116.1 469.7h1M117.1 476.2h1M115.0 472.6h1M124.1 469.0h1M115.1 473.8h1M112.0 476.1h1M117.8 470.2h1M117.9 471.8h1M102.8 480.1h1M115.6 470.0h1M111.4 475.0h1M123.3 464.3h1M112.3 473.1h1M111.9 477.7h1M113.8 477.9h1M121.8 469.2h1M121.0 467.0h1M108.1 478.7h1M115.9 465.1h1M113.1 479.3h1M121.4 473.1h1M119.6 468.9h1M120.2 471.9h1M115.8 471.1h1M117.1 469.5h1M125.8 459.6h1M106.5 474.7h1M120.3 466.2h1M116.6 470.4h1M114.4 466.8h1M115.5 469.8h1M122.8 468.6h1M108.4 474.4h1M121.7 472.1h1M119.6 468.0h1M116.3 461.1h1M111.7 471.4h1M112.8 477.2h1M118.3 471.1h1M117.1 473.6h1M118.7 466.9h1M118.6 465.3h1M121.6 461.0h1M112.6 470.1h1M119.5 474.6h1M116.8 479.1h1M123.8 466.6h1M115.6 476.2h1M101.4 481.6h1M120.8 467.4h1M126.4 459.5h1M109.7 476.6h1M122.9 473.3h1M108.5 479.3h1M120.8 464.6h1M111.5 470.5h1M121.8 470.4h1M119.7 469.7h1M120.7 467.1h1M121.5 470.6h1M123.6 467.3h1M118.3 472.9h1M105.2 473.7h1" stroke="#f00" stroke-width="1" stroke-opacity="0.6"/>
<path d="M129.2 460.5h1M107.4 474.9h1M116.3 471.7h1M115.2 479.4h1M115.3 484.1h1M115.8 459.3h1M108.5 478.6h1M117.5 466.9h1M117.8 471.0h1M109.1 478.1h1M131.2 453.0h1M112.2 479.7h1M130.6 465.8h1M112.3 474.2h1M117.8 468.2h1M123.9 472.2h1M121.0 466.8h1M122.1 478.9h1M115.4 486.5h1M122.8 466.0h1M118.4 482.7h1M129.2 466.1h1M125.7 449.6h1M116.7 468.5h1M112.1 475.5h1M122.9 469.0h1M111.3 466.0h1M123.4 469.2h1M135.9 460.3h1M113.1 465.7h1M134.5 449.8h1M121.2 472.1h1M125.6 472.5h1M107.1 474.4h1M113.9 464.3h1M117.7 480.0h1M118.9 468.1h1M113.1 474.3h1M112.9 466.3h1M118.2 460.1h1M125.2 460.6h1M94.8 479.2h1M116.1 465.0h1M135.4 464.1h1M135.8 460.1h1M124.8 459.1h1M125.1 460.1h1M111.8 465.2h1M119.0 471.7h1M112.6 466.3h1M127.1 468.1h1M119.3 474.2h1M120.8 459.9h1M110.1 463.1h1M111.1 479.0h1M112.1 477.8h1M112.2 459.7h1M119.1 479.8h1M117.7 470.8h1M106.1 468.6h1M115.9 492.6h1M112.6 468.1h1M110.8 461.8h1M133.7 468.1h1M112.7 476.7h1M113.6 479.9h1M110.4 475.4h1M128.7 463.8h1M109.1 466.4h1M109.7 485.9h1M121.1 467.2h1M126.9 462.6h1M111.3 474.8h1M116.3 471.0h1M137.7 456.2h1M118.2 467.6h1M108.4 470.9h1M101.5 481.1h1M99.1 473.0h1M102.7 468.4h1M131.8 466.3h1M117.4 485.2h1M112.7 455.7h1M113.6 466.2h1M103.2 481.0h1M127.3 464.5h1M103.8 477.5h1M115.7 480.2h1M112.8 467.1h1M103.1 468.5h1M114.1 479.7h1M103.6 484.0h1M119.2 474.5h1M111.9 481.8h1M137.0 469.4h1M104.9 481.2h1M116.0 472.3h1M112.9 480.6h1M140.1 460.9h1M107.8 474.5h1M123.0 466.1h1M115.9 480.6h1M124.7 471.1h1M120.5 476.8h1M109.5 469.0h1M111.9 464.8h1M129.1 465.0h1M105.2 482.4h1M122.1 463.3h1M118.0 465.3h1M116.2 470.6h1M117.1 463.2h1M109.8 479.4h1M115.2 476.0h1M108.5 468.5h1M123.5 466.6h1M121.3 464.2h1M119.0 478.0h1M110.8 488.9h1M120.7 466.8h1M119.9 472.3h1M112.3 476.8h1M103.1 469.3h1M118.9 469.5h1M123.9 468.4h1M125.2 469.0h1M113.6 482.5h1M134.9 450.1h1M110.2 481.7h1M127.6 468.4h1M123.4 454.5h1M121.6 469.8h1M123.1 458.4h1M115.8 468.8h1M115.3 471.0h1M109.4 464.2h1M117.0 471.0h1M101.1 458.5h1M109.4 472.5h1M116.4 482.9h1M123.3 463.5h1M133.7 479.9h1M111.5 478.9h1M118.0 480.6h1M124.9 462.5h1M118.7 463.1h1M108.3 484.6h1M128.1 458.2h1M106.5 466.7h1M128.6 451.1h1M109.1 476.2h1M126.3 462.5h1M117.0 470.7h1M123.2 464.6h1M117.9 469.1h1M113.7 483.5h1M107.0 469.7h1M113.9 473.6h1M117.7 458.9h1M108.2 479.7h1M115.8 463.4h1M109.2 478.8h1M110.0 464.8h1M116.0 482.5h1M113.0 481.9h1M111.1 486.9h1M126.6 457.1h1M114.2 477.7h1M109.8 481.1h1M127.1 463.4h1M118.9 467.7h1M121.5 460.4h1M128.8 459.7h1M108.5 466.0h1M114.6 474.4h1M120.3 455.5h1M113.5 468.5h1M108.1 478.6h1M114.6 479.2h1M99.6 491.6h1M95.6 475.3h1M119.6 465.6h1M114.4 465.7h1M106.5 474.5h1M113.5 467.4h1M110.7 469.8h1M114.5 464.3h1M91.8 473.7h1M117.2 471.0h1M121.4 461.0h1M103.0 472.0h1M120.4 462.8h1M124.1 463.5h1M108.1 464.7h1M114.9 478.3h1M115.0 477.4h1M108.5 485.7h1M141.9 456.4h1M114.8 463.3h1M110.6 471.3h1M110.9 461.0h1M113.5 479.5h1M120.8 472.6h1M119.1 460.1h1M108.7 481.5h1M117.5 470.6h1M114.7 480.1h1M124.9 471.8h1M116.9 475.7h1M113.1 467.0h1M110.3 464.2h1M116.3 472.4h1M118.3 461.5h1M104.4 476.4h1M99.1 481.7h1M137.0 453.5h1M108.8 472.8h1M125.9 453.8h1M115.9 470.9h1M108.9 472.5h1M101.4 478.3h1M131.9 467.6h1M117.5 475.3h1M120.8 467.9h1M120.5 476.4h1M120.4 465.8h1M118.7 475.9h1M109.9 471.5h1M113.1 470.3h1M127.7 463.5h1M114.4 468.9h1M129.2 462.8h1M135.9 460.2h1M113.4 469.7h1M115.6 473.2h1M124.7 467.2h1M123.1 453.7h1M112.0 464.5h1M107.1 474.9h1M108.6 470.9h1M109.9 485.4h1M118.2 476.6h1M100.2 468.4h1M115.8 478.1h1M114.3 475.9h1M114.1 483.4h1M124.1 471.9h1M119.7 477.6h1M115.7 468.0h1M112.4 475.0h1M105.8 471.7h1M120.6 472.5h1M117.9 475.9h1M124.1 454.7h1M115.4 464.8h1M112.9 475.6h1M101.6 488.9h1M125.3 467.1h1M128.5 473.6h1M118.3 477.4h1M129.6 462.8h1M103.1 481.8h1M108.8 465.8h1M119.3 474.0h1M114.4 471.5h1M125.7 458.1h1M110.1 477.0h1M127.5 465.4h1M115.7 468.0h1M129.4 465.9h1M105.3 483.5h1M119.2 463.8h1M106.3 477.9h1M106.0 484.6h1M106.7 466.7h1M121.2 475.5h1M106.2 477.6h1M131.2 459.1h1M113.6 475.0h1M119.1 461.2h1M110.2 464.5h1M99.5 474.8h1M124.4 466.1h1M126.9 470.6h1M118.2 471.2h1M121.7 469.7h1M108.1 476.5h1M116.0 471.7h1M110.9 475.0h1M119.8 469.3h1M124.4 469.9h1M124.7 470.7h1M128.4 470.6h1M119.4 463.8h1M138.5 459.5h1M129.0 465.1h1M113.1 465.5h1M118.9 466.1h1M106.1 464.4h1M124.2 455.3h1M110.5 479.8h1M118.3 463.4h1M117.9 471.6h1M120.1 471.6h1M121.4 463.8h1M112.9 490.2h1M110.5 469.0h1M124.7 467.9h1M121.1 484.3h1M104.2 491.5h1M117.8 472.0h1M118.5 467.4h1M114.6 463.0h1M120.8 480.8h1M97.2 482.0h1M122.0 462.9h1M107.1 468.2h1M115.4 470.6h1M106.5 468.4h1M119.7 471.2h1M127.4 465.0h1M132.7 465.2h1M112.3 466.9h1M123.8 471.5h1M100.9 475.8h1M120.1 463.6h1M128.7 461.6h1M108.0 468.8h1M115.1 459.4h1M102.4 473.9h1M136.0 466.1h1M113.9 470.4h1M126.8 470.9h1M119.1 485.0h1M119.6 476.5h1M99.2 486.2h1M119.1 483.3h1M110.7 466.7h1M129.0 454.6h1M112.3 465.4h1M122.8 466.7h1M113.3 470.8h1M110.1 471.4h1M110.9 484.9h1M118.5 458.8h1M109.8 480.0h1M133.1 454.5h1M113.7 471.6h1M118.2 468.1h1M128.7 467.3h1M126.9 473.3h1M113.2 469.8h1M132.1 442.6h1M96.6 471.3h1M115.7 463.7h1M117.2 454.8h1M114.5 469.8h1M113.1 482.3h1M115.7 475.0h1M113.6 474.7h1M113.9 473.8h1M113.7 468.4h1M119.6 466.8h1M105.9 472.7h1M125.2 473.0h1M105.7 477.6h1M124.2 471.7h1M117.9 460.9h1M120.6 473.9h1M117.9 468.0h1M108.8 479.1h1M116.6 471.1h1M132.6 465.3h1M111.9 476.8h1M115.0 473.0h1M132.6 463.3h1M114.9 467.5h1M117.1 473.1h1M117.3 478.4h1M112.8 465.5h1M121.5 444.9h1M114.5 471.8h1M128.5 468.4h1M133.6 467.1h1M119.8 468.8h1M124.5 463.6h1M105.9 477.1h1M124.2 468.6h1M113.2 482.8h1M113.8 462.3h1M124.2 471.5h1M119.8 465.6h1M115.2 480.5h1M118.7 469.0h1M110.2 469.0h1M101.7 481.7h1M128.1 466.2h1M117.5 481.3h1M111.6 467.9h1M129.4 469.6h1M109.6 468.1h1M107.5 461.0h1M123.0 476.4h1M116.3 465.7h1M120.5 463.7h1M125.1 460.5h1M130.9 455.4h1M115.0 465.4h1M108.7 480.5h1M116.0 464.2h1M119.7 465.0h1M112.6 473.9h1M122.6 470.8h1M127.6 463.8h1M109.0 472.6h1M115.3 463.1h1M114.3 470.1h1M116.9 471.9h1M130.8 470.2h1M127.3 468.7h1M112.8 481.9h1M121.7 456.2h1M133.7 451.2h1M114.5 466.8h1M116.7 478.7h1M117.5 467.2h1M122.1 458.9h1M108.6 473.9h1M114.0 478.3h1M111.4 467.7h1M106.2 465.4h1M118.6 469.8h1M120.7 465.4h1M116.5 464.0h1M117.8 471.0h1M110.1 481.1h1M118.2 469.8h1M120.8 481.9h1M114.2 467.4h1M112.8 478.6h1M112.5 468.7h1M115.0 479.2h1M121.5 474.2h1M112.5 465.8h1M124.6 466.0h1M111.0 473.6h1M112.8 480.4h1M115.7 475.3h1M118.0 467.7h1M118.8 467.0h1" stroke="#f00" stroke-width="1" stroke-opacity="0.5"/>
<path d="M99.6 486.8h1M103.5 491.1h1M109.9 476.3h1M112.5 479.6h1M110.7 473.3h1M104.8 478.2h1M108.5 490.8h1M93.0 489.4h1M113.5 482.3h1M96.5 478.7h1M99.0 492.6h1M117.6 479.5h1M108.2 491.0h1M108.9 485.3h1M112.2 488.9h1M97.7 476.8h1M106.8 484.4h1M107.2 477.8h1M102.8 479.0h1M106.9 483.6h1M114.9 486.8h1M106.7 475.4h1M108.4 481.6h1M104.4 490.0h1M121.6 474.3h1M116.2 481.8h1M110.5 486.3h1M103.8 487.0h1M116.6 483.1h1M105.3 482.5h1M110.5 479.2h1M111.5 484.2h1M106.4 489.3h1M109.4 479.0h1M98.5 486.4h1M110.9 485.7h1M105.4 476.8h1M114.4 478.9h1M107.3 476.1h1M104.5 491.3h1M117.5 475.9h1M105.4 481.4h1M111.5 487.1h1M107.2 489.7h1M105.7 488.0h1M113.8 472.1h1M113.3 477.1h1M103.1 487.7h1M109.4 475.9h1M104.5 481.3h1M102.8 485.3h1M111.2 475.8h1M114.1 474.0h1M107.5 489.6h1M114.1 472.1h1M107.6 474.6h1M104.4 482.8h1M108.0 473.6h1M102.7 482.2h1M104.5 476.9h1M104.3 475.3h1M108.5 472.7h1M112.6 472.3h1M103.1 489.5h1M121.9 473.4h1M108.0 474.1h1M114.4 477.1h1M112.5 487.1h1M106.7 490.5h1M110.8 475.3h1M109.1 481.7h1M108.2 475.3h1M106.9 483.6h1M108.2 481.9h1M108.8 480.0h1M108.5 488.4h1M103.2 484.2h1M99.0 482.4h1M110.5 479.5h1M108.7 484.4h1M109.2 485.4h1M119.7 473.7h1M111.9 489.5h1M106.6 472.2h1M116.5 475.7h1M109.2 473.3h1M100.9 484.1h1M107.5 475.0h1M107.0 489.2h1M104.6 485.8h1M97.1 480.5h1M107.1 482.0h1M115.7 480.9h1M101.2 480.5h1M108.0 483.1h1M105.0 480.8h1M99.7 484.6h1M105.9 480.7h1M116.8 472.2h1M109.1 477.9h1M103.7 479.4h1M100.2 479.1h1M103.2 489.1h1M105.4 480.6h1M110.4 476.2h1M109.3 478.4h1M116.8 480.4h1M112.0 485.7h1M116.0 485.0h1M102.2 477.0h1M110.0 481.8h1M105.2 483.2h1M102.3 478.9h1M115.5 470.2h1M96.6 481.9h1M102.9 486.3h1M118.6 476.4h1M99.7 481.3h1M101.2 487.6h1M111.5 475.7h1" stroke="#f00" stroke-width="1" stroke-opacity="0.4"/>
<path d="M137.6 456.2h1M153.8 455.2h1M159.6 447.4h1M138.0 448.4h1M146.7 446.6h1M154.4 444.3h1M159.2 443.6h1M141.4 454.1h1M140.1 452.3h1M141.1 447.0h1M146.2 444.2h1M155.4 456.0h1M158.0 442.7h1M134.7 447.5h1M153.2 449.3h1M159.0 456.8h1M151.8 444.4h1M144.4 441.1h1M144.2 452.8h1M142.2 443.1h1" stroke="#f00" stroke-width="1" stroke-opacity="0.35"/>
<path d="M148.0 488.6h1M150.8 462.6h1M145.2 466.6h1M155.1 472.8h1M145.5 488.0h1M141.7 473.8h1M159.5 469.1h1M148.0 480.4h1M142.7 479.8h1M145.0 486.4h1M148.5 483.0h1M148.9 482.0h1M144.1 463.9h1M143.5 469.7h1M134.4 484.4h1M147.6 474.8h1M152.3 461.2h1M137.3 482.7h1M135.1 487.7h1M147.2 490.9h1M156.3 472.5h1M142.9 473.3h1" stroke="#f00" stroke-width="1" stroke-opacity="0.35"/>
<path d="M126.9 447.4h1M125.8 455.9h1M126.5 448.2h1M126.3 447.9h1M122.8 446.7h1M130.6 455.8h1M122.5 448.9h1M112.3 449.0h1M130.4 443.9h1M127.0 444.1h1M125.7 444.5h1M123.1 452.4h1M110.7 453.4h1M121.5 443.9h1" stroke="#f00" stroke-width="1" stroke-opacity="0.35"/>
<path d="M100.8 489.0h1M120.3 485.6h1M90.2 486.1h1M115.5 487.6h1M121.3 490.5h1M103.6 489.3h1M93.6 489.5h1M116.1 486.1h1M117.0 485.2h1M130.7 488.9h1M128.5 490.0h1M96.7 490.6h1M114.7 487.4h1M118.2 490.8h1M117.6 486.0h1M130.4 492.2h1M106.5 492.3h1M131.7 487.1h1M95.6 486.2h1M109.0 485.3h1" stroke="#f00" stroke-width="1" stroke-opacity="0.35"/>
<rect x="85.4" y="404.3" width="83.6" height="89.9" fill="none" stroke="#9a9a9a" stroke-width="0.9"/>
<line x1="132.50" y1="404.30" x2="132.50" y2="494.20" stroke="#666" stroke-width="0.85"/>
<line x1="85.40" y1="457.30" x2="169.00" y2="457.30" stroke="#666" stroke-width="0.85"/>
<path d="M84.0 491.7h1.4M84.0 488.9h1.4M84.0 486.8h1.4M84.0 485.0h1.4M84.0 483.5h1.4M84.0 482.3h1.4M84.0 481.1h1.4M83.2 480.1h2.2M84.0 473.4h1.4M84.0 469.5h1.4M84.0 466.7h1.4M84.0 464.6h1.4M84.0 462.8h1.4M84.0 461.3h1.4M84.0 460.1h1.4M84.0 458.9h1.4M83.2 457.9h2.2M84.0 451.2h1.4M84.0 447.3h1.4M84.0 444.5h1.4M84.0 442.4h1.4M84.0 440.6h1.4M84.0 439.1h1.4M84.0 437.9h1.4M84.0 436.7h1.4M83.2 435.7h2.2M84.0 429.0h1.4M84.0 425.1h1.4M84.0 422.3h1.4M84.0 420.2h1.4M84.0 418.4h1.4M84.0 416.9h1.4M84.0 415.7h1.4M84.0 414.5h1.4M83.2 413.5h2.2M86.6 494.59999999999997v1.6M89.2 494.59999999999997v1.6M91.3 494.59999999999997v1.6M92.9 494.59999999999997v1.6M94.3 494.59999999999997v1.6M95.6 494.59999999999997v1.6M96.6 494.59999999999997v1.6M97.6 494.59999999999997v2.4M103.9 494.59999999999997v1.6M107.6 494.59999999999997v1.6M110.2 494.59999999999997v1.6M112.3 494.59999999999997v1.6M113.9 494.59999999999997v1.6M115.3 494.59999999999997v1.6M116.6 494.59999999999997v1.6M117.6 494.59999999999997v1.6M118.6 494.59999999999997v2.4M124.9 494.59999999999997v1.6M128.6 494.59999999999997v1.6M131.2 494.59999999999997v1.6M133.3 494.59999999999997v1.6M134.9 494.59999999999997v1.6M136.3 494.59999999999997v1.6M137.6 494.59999999999997v1.6M138.6 494.59999999999997v1.6M139.6 494.59999999999997v2.4M145.9 494.59999999999997v1.6M149.6 494.59999999999997v1.6M152.2 494.59999999999997v1.6M154.3 494.59999999999997v1.6M155.9 494.59999999999997v1.6M157.3 494.59999999999997v1.6M158.6 494.59999999999997v1.6M159.6 494.59999999999997v1.6M160.6 494.59999999999997v2.4M166.9 494.59999999999997v1.6" stroke="#3a3a3a" stroke-width="0.8" fill="none"/>
<text transform="translate(82.40,480.10) rotate(-90)" font-size="3.9" text-anchor="middle" fill="#444">10<tspan font-size="3" dy="-1.6">2</tspan></text>
<text transform="translate(96.40,502.00) rotate(-30)" font-size="3.9" text-anchor="middle" fill="#444">10<tspan font-size="3" dy="-1.6">2</tspan></text>
<text transform="translate(82.40,457.90) rotate(-90)" font-size="3.9" text-anchor="middle" fill="#444">10<tspan font-size="3" dy="-1.6">3</tspan></text>
<text transform="translate(117.40,502.00) rotate(-30)" font-size="3.9" text-anchor="middle" fill="#444">10<tspan font-size="3" dy="-1.6">3</tspan></text>
<text transform="translate(82.40,435.70) rotate(-90)" font-size="3.9" text-anchor="middle" fill="#444">10<tspan font-size="3" dy="-1.6">4</tspan></text>
<text transform="translate(138.40,502.00) rotate(-30)" font-size="3.9" text-anchor="middle" fill="#444">10<tspan font-size="3" dy="-1.6">4</tspan></text>
<text transform="translate(82.40,413.50) rotate(-90)" font-size="3.9" text-anchor="middle" fill="#444">10<tspan font-size="3" dy="-1.6">5</tspan></text>
<text transform="translate(159.40,502.00) rotate(-30)" font-size="3.9" text-anchor="middle" fill="#444">10<tspan font-size="3" dy="-1.6">5</tspan></text>
<ellipse cx="224.5" cy="480.3" rx="8.5" ry="5.2" transform="rotate(-38 224.5 480.3)" fill="#f00" opacity="0.9" filter="url(#soft)"/>
<ellipse cx="255.4" cy="465.5" rx="3.0" ry="7.6" transform="rotate(22 255.4 465.5)" fill="#f00" opacity="0.75" filter="url(#soft)"/>
<path d="M229.7 485.5h1M232.5 475.0h1M219.6 489.0h1M227.3 484.6h1M225.2 480.7h1M226.0 475.0h1M227.1 491.1h1M222.3 487.2h1M230.3 480.3h1M228.1 469.9h1M224.0 469.2h1M225.6 481.3h1M232.9 479.8h1M218.7 483.3h1M221.7 478.6h1M218.2 481.5h1M234.3 480.2h1M233.0 483.0h1M222.0 476.2h1M221.5 483.8h1M233.2 480.2h1M222.2 487.4h1M223.2 484.6h1M233.4 481.6h1M222.3 483.4h1M225.6 477.1h1M226.5 482.0h1M213.8 485.0h1M238.0 472.2h1M216.4 476.3h1M220.7 486.2h1M229.3 479.0h1M226.0 475.8h1M229.9 469.8h1M226.4 477.3h1M217.7 490.7h1M224.9 484.0h1M231.7 475.6h1M220.3 482.4h1M228.0 485.7h1M233.3 482.3h1M226.4 474.5h1M232.0 479.8h1M225.0 482.5h1M219.3 477.3h1M226.0 483.4h1M216.4 474.1h1M223.1 487.5h1M228.7 483.3h1M219.2 482.1h1M216.9 481.8h1M227.5 478.7h1M222.6 483.4h1M216.3 484.5h1M212.3 481.4h1M214.1 482.2h1M236.6 478.5h1M229.6 473.1h1M224.7 473.8h1M222.2 483.5h1M216.4 487.7h1M222.1 470.6h1M210.5 489.6h1M224.1 481.4h1M219.9 487.1h1M223.1 477.3h1M233.9 474.4h1M233.4 483.7h1M221.2 481.7h1M214.5 486.8h1M233.6 487.3h1M228.0 478.7h1M215.3 482.7h1M210.7 483.3h1M225.8 480.9h1M218.9 483.4h1M221.8 485.9h1M226.3 475.7h1M218.6 478.0h1M227.9 490.0h1M226.7 483.4h1M231.6 483.1h1M220.2 478.6h1M232.5 479.2h1M223.8 487.0h1M224.2 480.3h1M235.7 474.5h1M225.2 477.9h1M228.4 483.2h1M224.8 475.8h1M226.5 478.1h1M225.5 478.4h1M208.3 483.9h1M216.3 474.3h1M226.9 475.8h1M220.0 471.1h1M228.4 482.8h1M221.8 475.0h1M228.2 474.4h1M221.9 483.5h1M228.4 488.8h1M229.5 488.5h1M223.4 474.1h1M224.5 480.6h1M235.6 478.8h1M236.3 467.3h1M228.4 490.4h1M220.6 485.4h1M230.3 470.0h1M220.5 479.2h1M228.3 479.6h1M226.0 482.8h1M219.1 482.4h1M232.5 485.5h1M224.4 480.7h1M231.7 475.1h1M232.1 475.7h1M231.1 476.2h1M217.1 481.2h1M231.9 485.2h1M233.6 471.4h1M234.8 465.9h1M222.4 487.2h1M218.7 490.0h1M228.2 481.0h1M219.0 486.8h1M229.3 476.2h1M230.0 476.1h1M225.4 477.8h1M216.6 485.5h1M225.0 475.6h1M209.6 483.1h1M230.9 474.0h1M223.7 488.0h1M219.3 475.8h1M219.6 479.1h1M220.9 477.9h1M226.0 481.7h1M220.8 482.1h1M225.9 483.9h1M222.6 486.1h1M230.6 474.4h1M218.3 483.4h1M213.3 485.9h1M217.5 484.8h1M223.8 483.8h1M226.2 481.4h1M224.9 481.6h1M220.1 487.5h1M234.5 478.8h1M218.3 487.5h1M217.7 489.9h1M222.0 479.6h1M219.7 482.7h1M221.7 477.0h1M225.5 481.0h1M227.1 478.0h1M230.8 488.6h1M230.8 477.2h1M218.6 488.4h1M220.2 468.5h1M224.6 482.4h1M224.9 480.6h1M227.4 485.9h1M225.7 477.7h1M229.0 488.7h1M218.3 482.2h1M226.6 479.5h1M229.8 483.9h1M231.8 477.0h1M224.5 480.0h1M226.0 484.9h1M214.7 482.0h1M219.3 478.9h1M223.7 487.7h1M213.8 491.9h1M216.6 485.1h1M218.6 479.3h1M216.6 486.9h1M202.5 485.4h1M225.4 485.9h1M233.7 471.5h1M219.3 482.8h1M229.6 481.7h1M220.6 486.1h1M227.4 484.5h1M221.6 481.4h1M216.1 479.3h1M227.9 481.7h1M231.3 476.5h1M219.4 479.1h1M216.1 482.7h1M226.5 479.2h1M211.7 489.7h1M220.0 477.9h1M225.8 482.3h1M215.1 480.0h1M223.4 482.7h1M227.3 486.9h1M222.5 476.2h1M226.9 474.8h1M228.5 477.8h1M228.4 471.6h1M229.6 478.8h1M221.5 486.7h1M237.8 472.0h1M219.8 483.1h1M232.2 475.7h1M230.7 471.7h1M227.2 469.2h1M222.7 480.0h1M225.2 486.8h1M222.1 484.2h1M236.9 475.4h1M220.2 479.5h1M214.6 490.2h1M232.4 480.5h1M231.7 487.0h1M222.3 468.8h1M221.8 486.9h1M224.6 485.0h1M236.4 466.7h1M236.3 470.6h1M216.7 487.0h1M227.8 474.4h1M230.7 470.5h1M226.0 484.4h1M221.8 479.3h1M226.2 482.7h1M237.7 477.7h1M234.6 472.2h1M215.3 487.3h1M219.4 478.6h1M221.5 482.3h1M227.3 483.4h1M222.6 488.3h1M226.8 482.7h1M227.9 470.6h1M231.2 470.9h1M229.7 482.5h1M225.2 470.8h1M228.5 483.7h1M223.6 480.6h1M229.4 485.8h1M218.9 479.3h1M216.9 483.2h1M224.1 482.6h1M219.3 474.6h1M217.7 489.5h1M224.7 472.4h1M222.9 467.7h1M238.9 472.4h1M216.8 489.3h1M223.0 478.8h1M221.8 481.1h1M221.4 477.5h1M222.9 484.7h1M223.7 473.3h1M226.1 488.0h1M233.0 483.1h1M214.2 482.4h1M207.2 482.8h1M219.5 478.2h1M216.6 482.5h1M225.8 484.1h1M222.7 471.7h1M231.8 472.7h1M218.9 484.5h1M218.4 477.1h1M231.5 471.5h1M222.7 484.8h1M235.1 474.8h1M220.8 485.7h1M231.7 476.9h1M226.7 475.8h1M219.4 474.6h1M217.4 479.4h1M228.7 485.6h1M208.4 485.3h1M219.1 484.0h1M228.8 472.5h1M223.5 488.0h1M228.0 480.6h1M227.0 474.1h1M223.9 477.0h1M220.9 483.9h1M223.4 473.9h1M221.9 485.8h1M227.3 482.0h1M220.5 478.8h1M230.5 479.1h1M222.1 486.0h1M232.4 472.5h1M219.8 485.4h1M226.6 481.9h1M217.4 487.2h1M231.4 478.9h1M231.3 481.9h1M223.3 488.2h1M222.9 475.9h1M223.6 482.6h1M230.1 483.7h1M224.1 477.7h1M235.7 469.7h1M222.5 487.2h1M220.0 479.3h1M221.9 489.1h1M218.9 485.3h1M221.4 481.6h1M220.4 484.4h1M230.8 481.4h1M219.3 477.7h1M216.3 486.7h1M225.0 480.6h1M215.0 484.1h1M222.3 485.9h1M224.0 484.3h1M222.0 471.2h1M226.7 485.8h1M222.0 483.0h1M220.4 476.5h1M236.2 470.4h1M226.8 476.0h1M235.5 478.3h1M233.7 478.6h1M232.3 482.2h1M227.1 479.1h1M226.5 473.6h1M223.4 477.2h1M220.4 478.1h1M220.4 484.6h1M227.5 482.8h1M225.8 483.0h1M226.4 474.9h1M213.3 485.2h1M221.6 479.5h1M234.9 468.4h1M225.0 475.6h1M224.8 472.9h1M230.3 476.9h1M219.0 477.8h1M232.2 471.1h1M225.8 465.6h1M222.9 492.0h1M234.5 472.7h1M231.7 478.2h1M222.9 482.3h1M214.5 480.5h1M227.2 482.4h1M222.0 475.3h1M229.5 477.0h1M227.9 476.1h1M226.0 485.2h1M228.8 470.1h1M221.1 488.6h1M226.7 479.0h1M221.9 488.2h1M226.2 480.3h1M225.2 476.8h1M227.1 479.1h1M229.6 478.6h1M215.5 483.4h1M226.3 485.6h1M224.1 487.2h1M232.9 478.8h1M237.0 470.6h1M229.7 483.3h1M229.5 482.1h1M227.7 485.9h1M221.2 472.1h1M230.0 475.0h1M218.8 483.1h1M226.1 485.6h1M226.2 478.7h1M222.0 477.2h1M219.7 481.5h1M220.1 477.2h1M225.1 485.6h1M227.0 478.4h1M225.8 478.0h1M220.4 488.6h1M238.4 472.4h1M235.1 486.1h1M219.3 487.4h1M221.9 480.8h1M215.2 487.2h1M222.3 473.0h1M222.0 479.6h1M220.7 486.9h1M234.8 474.7h1M232.3 478.6h1M225.8 482.7h1M230.7 473.1h1M219.9 476.1h1M212.0 485.5h1M230.5 477.8h1M229.6 483.9h1M227.1 482.7h1M230.0 471.5h1M220.8 485.5h1M222.6 478.5h1M221.8 478.3h1M224.2 478.4h1M231.1 469.3h1M228.0 478.1h1M230.6 470.1h1M226.7 488.5h1M219.9 481.9h1M219.7 478.6h1M235.5 480.4h1M221.6 478.4h1M218.9 488.5h1M223.1 484.6h1M210.0 489.3h1M229.2 479.1h1M225.2 479.7h1M221.4 480.3h1M226.7 481.5h1M229.1 475.5h1M228.7 471.8h1M237.8 475.5h1M229.8 491.8h1M236.9 479.7h1M217.6 485.1h1M230.0 482.0h1M221.4 475.5h1M230.8 474.5h1M226.1 477.3h1M220.1 476.0h1M226.5 475.3h1M215.8 489.5h1M227.0 483.9h1M225.8 472.5h1M223.6 481.1h1M222.1 476.3h1M227.6 483.5h1M235.4 480.1h1M221.8 468.2h1M221.5 479.6h1M229.6 476.4h1M227.9 480.5h1M227.1 486.1h1M236.9 475.3h1M222.1 483.6h1M231.9 478.6h1M223.4 486.7h1M230.2 479.2h1M222.1 482.1h1M213.9 488.5h1M221.3 481.2h1M222.1 480.4h1M225.3 480.3h1M220.8 482.5h1M225.4 482.5h1M226.0 477.2h1M215.5 478.2h1M218.7 487.2h1M223.8 490.0h1M222.6 479.7h1M222.2 479.1h1M221.2 483.3h1M216.9 487.1h1M221.5 477.6h1M231.2 477.2h1M228.7 473.3h1M214.4 481.5h1M210.6 480.5h1M231.9 471.9h1M224.1 477.6h1M228.0 486.5h1M212.2 484.4h1M222.8 476.6h1M231.9 481.9h1M231.5 479.1h1M226.4 484.5h1M216.8 479.6h1M222.4 480.6h1M228.6 471.6h1M228.7 472.7h1M212.9 479.9h1M220.4 475.4h1M225.8 479.6h1M217.0 475.3h1M222.9 484.1h1M216.5 490.5h1M223.1 478.3h1M227.4 481.7h1M222.3 477.7h1M227.0 474.6h1M229.2 482.2h1M236.1 480.3h1M230.6 476.4h1M223.9 481.9h1M235.6 488.5h1M225.9 474.6h1M228.6 468.2h1M226.6 471.5h1M217.1 483.3h1M219.3 476.8h1M227.6 477.2h1M229.2 471.0h1M216.4 490.6h1M225.9 484.7h1M208.2 486.1h1M230.4 486.8h1M212.5 479.0h1M225.9 487.2h1M229.5 468.7h1M216.1 476.5h1M217.2 480.6h1M230.0 482.5h1M236.7 468.8h1M229.6 477.5h1M230.5 486.6h1M232.7 482.8h1M228.5 482.0h1M227.1 477.8h1M219.6 481.9h1M223.5 478.9h1M220.7 479.3h1M228.6 475.7h1M223.3 480.1h1M230.3 472.8h1M230.0 471.2h1M234.6 475.9h1M223.1 484.0h1M228.2 472.1h1M224.1 482.4h1M222.6 480.2h1M225.5 481.3h1M232.9 482.1h1M230.8 492.0h1M227.6 488.0h1M219.8 475.8h1M221.2 481.0h1M224.9 468.6h1M220.7 482.6h1M229.2 478.9h1M228.8 476.1h1M226.5 485.6h1M235.1 474.2h1M223.0 476.6h1M237.2 472.6h1M223.5 472.0h1M234.5 486.2h1M223.1 480.3h1M232.5 473.0h1M234.5 483.5h1M215.8 482.4h1M228.6 477.8h1M224.3 479.5h1M226.2 481.0h1M221.1 481.4h1M222.8 475.5h1M221.0 470.7h1M227.7 477.1h1M221.7 490.1h1M223.7 492.6h1M223.8 487.7h1M228.6 486.2h1M226.1 484.9h1M217.6 475.1h1M228.0 480.3h1M231.3 484.4h1M216.6 478.4h1M224.0 476.8h1M224.0 480.7h1M223.0 487.6h1M228.8 487.1h1M228.8 482.9h1M221.1 479.2h1M219.2 479.5h1M227.4 478.9h1M214.4 479.5h1M214.8 477.6h1M215.5 478.8h1M225.2 473.2h1M221.0 482.4h1M225.9 481.6h1M230.5 479.3h1M226.1 486.2h1M224.6 476.2h1M229.5 469.7h1M230.6 482.7h1M226.1 481.0h1M227.0 482.1h1M225.8 479.4h1M223.2 470.6h1M225.1 478.2h1M236.1 472.9h1M222.7 485.4h1M219.2 477.8h1M224.4 483.3h1M233.9 478.9h1M225.3 478.7h1M229.0 483.7h1M227.0 484.9h1M220.2 483.6h1M230.7 479.5h1M224.2 477.6h1M213.5 486.4h1M218.8 482.5h1M231.1 470.8h1M229.1 476.6h1M218.8 485.4h1M225.4 472.9h1M217.2 483.9h1M226.8 475.1h1M228.1 480.1h1M225.8 481.8h1M230.9 474.2h1M223.4 475.2h1M220.3 483.0h1M227.1 474.5h1M219.5 489.4h1M230.4 461.2h1M219.1 485.2h1M224.6 474.9h1M229.4 482.7h1M225.0 484.0h1M222.7 476.5h1M219.5 480.8h1M234.9 478.7h1M221.6 473.8h1M220.8 481.0h1M214.0 488.4h1M222.5 474.4h1M221.0 480.5h1M236.4 474.8h1M228.9 477.3h1M220.1 488.9h1M215.6 476.4h1M227.5 476.0h1M225.9 482.1h1M224.4 482.7h1M230.6 473.7h1M222.7 481.8h1M226.9 476.2h1M223.1 477.6h1M225.6 482.5h1M219.6 483.1h1M214.7 484.0h1M226.4 481.8h1M218.7 484.3h1M220.4 485.3h1M227.2 480.7h1M219.5 476.2h1M217.8 478.0h1M220.7 482.9h1M228.6 473.5h1M220.9 484.3h1M219.0 490.3h1M232.4 479.5h1M226.0 483.3h1M225.3 485.1h1M218.8 480.2h1M225.3 477.1h1M225.8 474.5h1M223.3 475.7h1M229.8 488.2h1M215.4 480.5h1M215.3 486.2h1M232.0 471.9h1M229.0 475.7h1M226.6 490.0h1M225.3 469.3h1M220.4 485.8h1M227.4 476.8h1M227.7 480.9h1M225.4 485.2h1M222.0 486.5h1M230.0 477.2h1M222.6 481.7h1M213.3 490.5h1M211.4 479.2h1M226.1 473.9h1M226.5 479.0h1M212.6 484.5h1M224.3 483.1h1M221.4 475.6h1M222.0 482.9h1M216.5 484.1h1M215.8 475.2h1M236.1 476.1h1M224.6 485.5h1M223.1 490.0h1M222.9 482.3h1M221.7 483.0h1M226.4 479.0h1M222.2 486.4h1M227.5 478.0h1M228.1 473.3h1M230.9 474.4h1M231.4 472.4h1M223.7 482.1h1M234.3 480.8h1M220.1 479.7h1M232.0 481.4h1M227.4 476.2h1M231.3 474.9h1M227.1 481.8h1M215.3 474.8h1M227.6 481.9h1M228.3 480.4h1M228.2 483.3h1M229.2 485.0h1M227.0 482.9h1M222.4 483.6h1M227.2 479.0h1M232.9 474.0h1M231.5 476.8h1M227.9 472.6h1M225.2 485.2h1M221.2 485.1h1M228.1 478.6h1M228.3 480.4h1M224.4 482.7h1M220.5 480.9h1M215.8 486.6h1M215.5 487.5h1M222.7 475.6h1M225.7 481.0h1M220.2 478.6h1M225.0 482.2h1M234.7 483.2h1M214.9 489.7h1M225.1 476.3h1M231.9 486.3h1M228.8 484.6h1M229.0 474.3h1M227.9 467.7h1M221.5 478.7h1M225.8 479.7h1M229.0 473.5h1M230.1 466.3h1M233.0 488.8h1M225.7 482.9h1M228.3 475.3h1M214.9 489.0h1M222.8 470.1h1M223.4 484.3h1M211.2 489.6h1M212.4 482.2h1M229.8 482.6h1M228.9 473.1h1M222.4 472.0h1M218.1 488.4h1M219.6 478.4h1M213.9 487.3h1M230.9 463.9h1M222.0 488.6h1M212.6 486.1h1M228.0 484.0h1M229.1 487.0h1M224.0 480.0h1M227.8 479.7h1M213.9 483.2h1M224.2 482.5h1M216.0 482.9h1M221.5 484.6h1M223.9 484.2h1M224.1 475.5h1M219.5 477.2h1M227.3 482.7h1M214.4 478.2h1M226.5 477.1h1M225.6 482.0h1M229.1 482.0h1M216.0 474.5h1M221.1 481.3h1M223.4 483.4h1M226.7 485.9h1M221.1 482.9h1M228.4 489.2h1M216.6 480.8h1M224.6 484.6h1M224.1 479.6h1M211.0 479.1h1M222.7 480.4h1M235.0 474.2h1M229.5 481.9h1M216.3 479.7h1M226.6 487.1h1M228.2 474.1h1M220.4 488.8h1M227.4 471.8h1M231.0 470.8h1M228.0 476.4h1M221.1 479.5h1M229.9 479.6h1M228.1 475.9h1M225.8 491.4h1M233.2 472.4h1M222.5 490.4h1M225.4 479.9h1M230.1 477.9h1M230.6 486.8h1M216.1 490.5h1M219.4 484.7h1M224.3 482.0h1" stroke="#f00" stroke-width="1" stroke-opacity="0.55"/>
<path d="M243.0 461.3h1M235.3 476.5h1M225.4 474.3h1M231.6 476.3h1M240.9 474.0h1M206.5 467.7h1M239.9 471.7h1M223.9 474.5h1M252.0 469.7h1M224.2 476.3h1M235.7 482.6h1M233.5 480.7h1M228.8 479.2h1M214.7 488.1h1M225.1 478.3h1M224.3 482.3h1M219.2 481.8h1M212.2 478.3h1M218.6 480.3h1M205.4 472.7h1M243.4 473.7h1M224.2 484.6h1M208.5 477.5h1M230.3 479.9h1M219.1 483.6h1M234.8 472.9h1M229.0 481.0h1M201.6 485.9h1M215.2 488.8h1M211.5 472.8h1M231.8 472.0h1M242.1 483.4h1M205.4 483.1h1M240.3 479.5h1M229.9 478.3h1M233.8 478.0h1M217.3 491.6h1M231.7 470.1h1M215.0 482.4h1M222.2 485.8h1M231.8 473.9h1M214.8 471.3h1M217.1 476.4h1M221.7 484.6h1M215.2 481.9h1M214.0 485.3h1M226.9 486.4h1M228.3 471.8h1M219.9 484.7h1M228.8 474.6h1M223.7 480.2h1M216.8 487.8h1M230.2 475.4h1M215.2 486.7h1M225.4 481.5h1M225.0 486.4h1M237.9 476.2h1M232.2 484.1h1M223.9 478.4h1M212.7 488.8h1M231.4 465.6h1M226.3 466.8h1M235.3 487.0h1M220.4 472.3h1M226.8 476.3h1M229.6 470.8h1M208.0 488.1h1M234.4 480.7h1M227.5 477.3h1M230.0 473.4h1M222.0 483.3h1M232.3 469.0h1M226.5 472.2h1M219.4 484.9h1M209.9 483.4h1M212.2 483.8h1M230.5 475.3h1M203.4 475.2h1M226.1 472.7h1M232.3 469.9h1M211.0 484.4h1M205.8 481.7h1M228.8 471.4h1M228.5 471.4h1M220.6 477.6h1M217.5 479.2h1M237.6 468.7h1M240.5 476.7h1M223.4 478.9h1M221.4 482.9h1M229.0 475.9h1M213.8 479.4h1M246.4 477.0h1M211.6 484.0h1M227.1 482.5h1M225.0 481.1h1M232.9 482.8h1M231.0 479.0h1M211.0 488.0h1M225.4 484.3h1M233.7 478.2h1M229.4 483.6h1M221.9 475.4h1M250.3 464.9h1M229.6 471.5h1M227.7 486.6h1M236.1 485.5h1M230.8 465.2h1M229.0 473.7h1M220.1 478.1h1M239.7 466.1h1M225.7 481.6h1M221.4 481.5h1M217.4 481.7h1M233.0 483.8h1M233.8 480.8h1M218.4 487.0h1M232.2 481.4h1M218.8 482.3h1M225.2 488.7h1M232.4 469.4h1M224.6 481.2h1M216.6 484.6h1M235.6 477.4h1M216.3 480.3h1M217.8 472.1h1M228.1 477.7h1M212.4 486.9h1M218.1 482.2h1M223.0 492.3h1M219.7 489.7h1M232.7 485.4h1M224.4 479.6h1M217.7 468.7h1M244.8 461.8h1M217.5 475.3h1M230.4 488.6h1M220.2 486.6h1M237.7 477.2h1M214.2 472.7h1M230.8 479.4h1M220.3 479.1h1M233.5 459.0h1M217.9 479.4h1M208.5 486.1h1M223.1 491.1h1M204.1 483.7h1M220.8 469.3h1M205.0 489.4h1M210.5 482.2h1M225.4 482.6h1M218.2 482.1h1M230.4 473.6h1M228.8 471.1h1M234.4 482.6h1M220.7 479.6h1M225.4 482.7h1M214.6 487.6h1M225.7 490.6h1M219.1 477.4h1M225.1 477.0h1M226.2 480.2h1M233.6 469.0h1M228.3 453.8h1M245.6 473.2h1M239.2 469.7h1M223.2 472.0h1M231.7 464.1h1M218.0 484.6h1M228.3 479.4h1M213.4 485.3h1M234.0 482.1h1M233.2 476.2h1M220.4 478.1h1M220.1 482.2h1M227.4 473.0h1M238.6 460.1h1M231.1 472.6h1M222.1 478.2h1M236.9 467.3h1M230.1 476.1h1M233.8 477.2h1M236.2 464.2h1M236.2 471.0h1M223.5 482.5h1M233.0 466.4h1M237.2 469.1h1M220.2 479.6h1M211.3 485.2h1M218.1 486.5h1M231.3 474.5h1M228.2 480.1h1M241.1 471.4h1M238.2 468.3h1M225.3 473.4h1M226.5 470.7h1M226.4 472.7h1M226.8 487.9h1M229.4 482.3h1M215.2 471.1h1M236.9 468.3h1M223.2 488.5h1M212.1 483.0h1M232.0 467.9h1M233.4 470.0h1M223.4 481.0h1M225.0 488.2h1M234.6 472.2h1M232.4 477.9h1M233.0 459.6h1M237.5 477.1h1M222.3 481.4h1M226.9 488.0h1M217.5 490.1h1M238.3 473.5h1M218.9 480.1h1M202.4 488.2h1M230.5 466.9h1M209.8 489.0h1M213.9 491.6h1M221.2 490.0h1M218.1 472.6h1M215.6 481.1h1M222.6 491.3h1M217.7 487.9h1M222.3 486.2h1M206.2 480.7h1M235.1 483.2h1M211.7 486.9h1M216.7 477.8h1M233.5 472.9h1M212.1 487.4h1M233.6 466.5h1M217.1 478.4h1M224.1 475.2h1M229.2 468.9h1M214.2 491.4h1M228.4 478.6h1M218.1 480.8h1M217.2 483.7h1M223.2 485.2h1M227.3 482.0h1M237.9 466.8h1M224.0 483.1h1M241.6 463.2h1M244.3 474.0h1M218.1 487.9h1M236.6 470.5h1M235.1 489.4h1M236.7 488.0h1M210.7 470.0h1M215.9 482.3h1M227.6 483.4h1M233.0 477.3h1M235.4 471.3h1M219.8 482.8h1M220.2 477.1h1M222.1 475.8h1M227.8 471.5h1M230.5 477.6h1M228.5 480.8h1M221.9 487.7h1M223.4 476.8h1M244.5 473.2h1M224.9 484.0h1M237.3 482.8h1M233.0 471.5h1M218.0 474.8h1M230.7 481.9h1M224.3 485.3h1M224.2 475.9h1M249.1 464.9h1M211.4 481.1h1M229.8 480.9h1M228.3 456.3h1M241.7 467.5h1M227.7 480.3h1M220.7 480.1h1M227.0 463.0h1M226.3 482.9h1M210.0 489.5h1M239.7 470.8h1M234.0 478.1h1M228.3 479.5h1M217.1 483.6h1M236.0 460.2h1M218.4 473.7h1M217.2 478.7h1M215.3 488.7h1M219.0 488.3h1M230.2 453.6h1M215.0 469.3h1M225.4 481.9h1M231.7 484.0h1M219.3 469.0h1M234.2 464.0h1M225.5 481.5h1M217.7 485.6h1M231.0 460.2h1M208.7 488.1h1M218.3 473.6h1M223.0 469.5h1M229.7 474.9h1M220.9 471.0h1M225.1 483.1h1M205.5 485.5h1M241.6 483.0h1M230.4 474.3h1M213.9 484.3h1M224.6 483.1h1M227.5 458.6h1M214.9 487.0h1M235.2 474.6h1M239.1 473.1h1M250.5 465.9h1M235.3 484.0h1M218.9 479.3h1M217.2 487.3h1M232.7 481.1h1M240.2 472.6h1M234.7 469.4h1M219.6 489.5h1M239.3 479.3h1M221.6 477.7h1M223.3 483.5h1M223.8 478.4h1M226.0 475.8h1M225.5 473.6h1M210.3 487.9h1M238.1 462.0h1M238.5 480.0h1M221.4 484.1h1M239.1 469.6h1M205.4 489.5h1M219.0 484.7h1M225.8 474.9h1M219.0 476.9h1M230.8 476.2h1M225.9 474.1h1M228.1 474.1h1M226.9 476.2h1M214.7 477.8h1M203.2 484.5h1M207.4 485.9h1M218.4 474.3h1M237.3 487.3h1M231.0 464.5h1M221.5 476.4h1M225.6 466.2h1M228.6 478.1h1M231.7 477.5h1M219.0 468.6h1M218.3 476.2h1M228.7 474.2h1M230.9 483.9h1M231.1 488.7h1M226.1 465.5h1M225.0 489.5h1M225.6 488.8h1M219.6 482.2h1M227.4 463.7h1M223.8 476.1h1M233.6 487.0h1M223.7 468.5h1M231.5 470.1h1M231.3 484.1h1M226.3 486.2h1M222.8 473.0h1M216.7 473.9h1M236.0 471.9h1M228.8 466.5h1M227.4 466.9h1M227.4 477.0h1M221.2 484.7h1M221.7 474.2h1M213.1 477.1h1M237.5 470.5h1M224.7 485.2h1M212.7 478.7h1M234.7 485.1h1M228.3 477.8h1M233.7 458.9h1M247.0 452.4h1M218.8 472.4h1M213.5 486.0h1M242.3 457.4h1M220.8 484.6h1M215.1 484.5h1M223.0 461.8h1M221.2 479.5h1M220.1 481.9h1M207.6 488.8h1M216.2 477.0h1M244.3 481.1h1M228.3 469.0h1M239.4 472.0h1M220.4 487.8h1M222.4 486.0h1M237.8 478.9h1M215.3 485.5h1M219.9 472.5h1M231.5 479.9h1M210.7 485.4h1M210.1 479.7h1M217.6 481.4h1M237.9 477.8h1M228.5 458.4h1M224.2 464.5h1M217.8 481.1h1M228.5 486.4h1M223.2 479.9h1M231.3 477.9h1M222.1 466.3h1M230.7 477.3h1M230.0 474.7h1M223.1 469.3h1M229.8 464.8h1M241.4 474.9h1M223.2 477.9h1M230.5 472.1h1M215.9 488.5h1M212.5 484.8h1M244.0 471.2h1M220.8 481.7h1M219.3 483.3h1M215.3 492.5h1M222.6 475.6h1M219.2 479.4h1M217.9 480.3h1M239.2 473.8h1M230.2 478.1h1M205.0 473.8h1M241.1 472.6h1M228.1 479.0h1M226.8 477.8h1M213.4 468.8h1M230.1 475.4h1M234.8 474.0h1M225.1 484.2h1M224.8 475.4h1M220.0 479.3h1M220.5 478.6h1M245.8 488.0h1M228.7 485.8h1M220.2 481.4h1M212.9 476.7h1M215.5 482.0h1M224.9 476.2h1M213.0 485.1h1M234.4 464.0h1M229.8 484.0h1M215.6 481.4h1M255.3 466.0h1M221.1 483.4h1M226.5 479.1h1M227.8 474.2h1M201.7 488.9h1M220.6 470.6h1M228.5 489.2h1M224.3 473.9h1M230.6 483.7h1M204.9 483.9h1M217.4 481.1h1M221.8 476.5h1M226.3 478.7h1M212.3 483.5h1M215.5 488.9h1M230.0 480.7h1M215.2 482.1h1M212.4 491.8h1M236.2 474.1h1M231.4 476.0h1M232.1 481.5h1M244.4 481.3h1M226.2 485.3h1M234.3 475.4h1M222.0 470.4h1M230.7 466.9h1M215.8 478.8h1M225.8 470.0h1M231.3 478.9h1M224.5 476.5h1M235.6 482.0h1M216.6 476.5h1M216.1 478.4h1M222.3 479.8h1M216.2 482.2h1M217.2 487.1h1M224.8 463.6h1M233.3 485.6h1M226.4 485.8h1M223.8 472.0h1M231.0 469.0h1M226.4 474.5h1M223.8 481.3h1M229.4 461.1h1M215.8 487.1h1M232.6 471.4h1M225.6 483.1h1M234.8 463.5h1" stroke="#f00" stroke-width="1" stroke-opacity="0.45"/>
<path d="M252.0 462.1h1M260.7 458.0h1M255.9 472.6h1M259.6 461.0h1M250.4 468.3h1M254.3 470.1h1M259.4 445.5h1M255.8 473.0h1M254.7 465.2h1M254.7 470.7h1M256.2 462.1h1M250.3 470.9h1M264.3 444.2h1M257.7 462.3h1M253.4 460.9h1M253.2 461.3h1M252.7 468.1h1M257.4 453.0h1M257.3 456.2h1M257.8 465.0h1M253.3 458.2h1M255.4 465.2h1M251.0 462.8h1M253.7 472.0h1M258.6 465.9h1M253.0 461.8h1M259.4 460.4h1M261.1 460.8h1M250.4 469.5h1M254.3 467.4h1M254.5 465.4h1M249.1 476.8h1M257.4 465.4h1M254.5 471.2h1M253.6 466.0h1M257.4 462.2h1M253.9 463.4h1M255.7 462.6h1M250.2 463.9h1M256.9 466.6h1M257.7 472.7h1M256.2 460.9h1M257.6 463.7h1M250.9 464.6h1M255.2 463.8h1M256.5 467.4h1M262.5 463.0h1M254.4 467.3h1M255.6 461.8h1M263.6 458.2h1M260.7 454.8h1M261.1 453.8h1M249.5 471.4h1M259.1 467.9h1M245.8 469.0h1M258.8 458.8h1M257.8 456.8h1M255.4 464.8h1M253.7 470.6h1M259.3 451.0h1M255.6 456.4h1M255.6 462.4h1M251.8 474.0h1M258.2 458.8h1M256.8 459.7h1M253.3 468.9h1M250.7 468.7h1M256.2 476.9h1M259.4 467.8h1M246.8 476.6h1M254.7 466.9h1M256.9 459.2h1M260.5 457.4h1M250.4 467.5h1M256.6 459.8h1M253.1 474.9h1M255.0 464.4h1M254.5 471.9h1M256.4 470.8h1M252.3 468.1h1M259.7 454.9h1M257.1 470.4h1M259.1 466.5h1M257.5 465.8h1M253.5 471.4h1M254.0 469.4h1M252.2 473.1h1M261.3 455.8h1M258.6 470.0h1M255.7 461.1h1M260.3 468.1h1M255.2 469.8h1M249.4 475.8h1M262.8 462.8h1M262.4 456.5h1M254.4 465.5h1M254.1 469.1h1M255.5 468.2h1M254.3 467.2h1M249.0 477.2h1M252.4 473.3h1M256.0 464.7h1M258.2 457.3h1M259.7 470.2h1M256.9 462.8h1M259.5 464.8h1M255.6 461.7h1M258.6 469.0h1M256.6 461.4h1M258.0 468.6h1M252.3 470.7h1M260.2 460.2h1M255.6 473.5h1M258.1 457.0h1M259.1 464.5h1M255.6 463.5h1M252.6 470.4h1M251.3 467.7h1M255.7 473.3h1M256.6 467.9h1M255.2 464.6h1M249.0 475.0h1M257.6 459.1h1M253.8 475.7h1M256.9 463.8h1M250.9 468.4h1M256.4 461.2h1M260.2 458.1h1M263.4 451.2h1M257.4 456.0h1M252.8 470.2h1M248.7 472.6h1M254.9 461.8h1M259.8 462.0h1M259.6 465.8h1M257.6 459.5h1M258.5 466.3h1M256.5 459.2h1M254.0 464.3h1M251.6 469.7h1M256.9 461.7h1M253.0 474.8h1M249.2 465.6h1M257.8 467.5h1M261.4 456.9h1M251.0 471.0h1M255.0 465.8h1M256.1 468.4h1M257.8 462.9h1M251.4 473.3h1M257.8 456.1h1M252.3 470.7h1M259.6 468.3h1M252.3 468.6h1M253.3 473.1h1M254.9 470.7h1M255.7 468.6h1M253.5 463.6h1M256.2 475.4h1M256.9 469.0h1M254.3 467.6h1M251.9 471.9h1M256.5 460.5h1M247.5 473.4h1M255.7 459.5h1M252.0 477.0h1M258.0 464.2h1M258.9 461.0h1M254.7 465.5h1M253.5 470.3h1M252.1 477.7h1M258.3 464.7h1M258.2 460.6h1M254.7 462.8h1M259.7 462.3h1M254.0 457.7h1M252.9 463.2h1M257.6 458.1h1M254.5 462.2h1M254.9 469.7h1M259.4 465.3h1M256.9 466.7h1M254.3 460.5h1M261.4 466.8h1M257.6 472.3h1M260.1 466.1h1M258.6 464.6h1M255.6 457.2h1M260.6 456.1h1M258.6 460.6h1M259.8 457.5h1M258.2 465.0h1M255.2 455.2h1M259.7 455.6h1M255.1 468.9h1M250.4 473.5h1M258.3 469.0h1M255.5 468.9h1M251.6 473.3h1M260.4 449.6h1M254.4 468.3h1M260.3 459.6h1M261.0 461.9h1M255.3 470.7h1M253.1 472.7h1M249.2 477.6h1M257.8 463.5h1M262.1 468.2h1M247.9 472.6h1M260.8 463.6h1M250.2 471.5h1M258.0 459.7h1M254.1 465.5h1M254.1 476.2h1M250.1 474.3h1M249.9 468.4h1M254.1 468.1h1M256.2 460.8h1M253.4 472.8h1M249.8 463.6h1M257.1 458.6h1M250.8 467.4h1M255.3 470.1h1M254.3 454.2h1M255.0 462.3h1M260.9 465.0h1M253.3 471.8h1M258.8 469.5h1M251.6 477.8h1M258.9 454.1h1M254.4 462.9h1M258.0 468.8h1M258.3 467.4h1M257.0 462.1h1M251.1 467.4h1M255.0 469.4h1M255.2 462.4h1M254.9 469.7h1M262.7 462.2h1M255.8 472.0h1M254.5 466.1h1M251.6 474.9h1M261.1 470.1h1M252.5 471.1h1M257.2 464.9h1M255.2 471.7h1M252.4 470.4h1M253.1 455.4h1M254.3 466.2h1M248.2 473.2h1M254.2 466.1h1M253.5 470.2h1M252.2 469.5h1M257.1 455.6h1M256.4 467.1h1M262.5 454.5h1M257.4 461.7h1M256.0 462.9h1M256.2 461.1h1M262.3 456.0h1M250.5 466.0h1M262.5 462.9h1M256.1 457.5h1M249.8 472.2h1M255.0 471.8h1M255.8 467.3h1M256.5 459.0h1M250.9 481.4h1M251.4 473.0h1M253.6 465.1h1M259.9 466.8h1M258.5 462.7h1M263.3 459.9h1M257.5 464.7h1M255.1 468.0h1M256.6 472.3h1M257.2 468.9h1M249.5 472.7h1M258.2 470.1h1M258.1 464.9h1M249.4 470.2h1M248.9 476.6h1M257.3 466.1h1M253.7 465.6h1M253.9 462.2h1M260.3 465.4h1M260.4 466.8h1M258.9 460.3h1M255.9 462.5h1M247.2 476.1h1M257.2 465.6h1M252.7 464.7h1M255.3 458.5h1M249.6 478.7h1M249.7 467.2h1M261.4 447.1h1M252.3 463.3h1M257.5 461.0h1M258.6 470.7h1M258.0 454.8h1M257.6 461.6h1M260.7 460.1h1M259.7 463.9h1M256.7 464.1h1M254.2 473.3h1M256.4 459.4h1M257.9 473.4h1M257.9 473.4h1M251.8 475.8h1M254.9 462.2h1M252.8 469.4h1M253.8 463.6h1M253.9 463.2h1M255.5 473.6h1M248.6 481.1h1M252.6 467.7h1M259.8 451.4h1M249.4 472.0h1M244.0 482.0h1M254.5 467.1h1M258.6 467.0h1M255.4 461.1h1M251.7 468.0h1M253.0 468.2h1M252.8 461.4h1M259.8 469.9h1M252.3 472.8h1M252.3 475.3h1M250.6 469.1h1M251.1 468.7h1M257.8 477.5h1M252.3 467.3h1M258.4 461.6h1M258.8 459.2h1M255.6 472.2h1M253.3 469.6h1M261.9 467.0h1M249.9 465.7h1M256.3 460.2h1M255.2 472.7h1M252.9 476.3h1M254.9 462.3h1M263.3 449.2h1M247.7 464.9h1M254.8 465.7h1M252.5 466.0h1M259.7 462.7h1M257.3 465.2h1M254.8 466.1h1M258.0 470.3h1M256.8 467.2h1M247.7 469.2h1M255.2 466.1h1M258.1 455.5h1M254.6 478.4h1M264.0 455.7h1M259.8 458.8h1M256.3 462.2h1M255.8 460.1h1M252.3 469.9h1M257.2 472.9h1M255.8 464.6h1M254.9 465.2h1M254.3 463.8h1M258.2 465.0h1M253.7 463.9h1M255.9 465.1h1M253.0 469.6h1M257.9 459.2h1M258.7 461.7h1M255.4 471.4h1M255.9 467.9h1M252.5 462.9h1M254.2 469.6h1M253.0 463.4h1M251.1 465.1h1M255.3 466.4h1M257.8 471.8h1M256.4 461.7h1M252.4 469.9h1M259.0 463.3h1M256.2 462.7h1M256.7 467.4h1M255.8 459.3h1M262.3 458.2h1M258.6 444.6h1M262.0 464.3h1M256.2 469.9h1M254.7 473.5h1M254.3 464.9h1M256.5 470.0h1M255.4 460.1h1M251.1 465.7h1M258.0 455.3h1M253.2 467.0h1M256.5 464.3h1M254.2 469.7h1M254.4 459.2h1M256.1 471.1h1M253.7 459.6h1M257.2 471.7h1M252.5 471.7h1M255.4 475.7h1M255.1 456.1h1M254.3 464.7h1M253.9 466.7h1M256.5 473.9h1M258.0 466.5h1M258.5 470.1h1M256.1 465.7h1M245.4 477.0h1M253.1 471.1h1M261.7 466.7h1M249.9 470.7h1M258.4 459.9h1M257.9 466.6h1M259.4 448.9h1M251.9 466.9h1M250.4 470.5h1M260.3 469.8h1" stroke="#f00" stroke-width="1" stroke-opacity="0.5"/>
<path d="M247.9 469.3h1M255.4 470.3h1M257.5 483.6h1M255.3 460.8h1M253.1 467.5h1M248.9 479.3h1M237.4 472.0h1M262.6 462.1h1M243.0 477.0h1M242.5 479.8h1M233.3 455.7h1M249.7 468.7h1M248.9 479.2h1M257.7 466.7h1M240.6 451.6h1M233.7 472.4h1M247.8 455.9h1M254.5 469.6h1M258.3 466.7h1M256.7 459.5h1M223.3 462.3h1M253.5 473.9h1M222.9 471.4h1M253.2 486.0h1M254.5 474.9h1M226.5 473.6h1M221.9 467.2h1M240.8 460.8h1M233.2 468.7h1M252.1 463.9h1M248.8 476.8h1M244.9 488.2h1M241.5 463.1h1M222.7 480.2h1M253.3 468.3h1M248.9 468.8h1M255.6 469.9h1M247.9 469.3h1M234.7 449.0h1M251.7 458.2h1M249.9 476.1h1M267.6 463.0h1M247.0 479.0h1M237.3 464.5h1M250.5 489.6h1M258.0 479.1h1M233.8 476.3h1M258.7 458.0h1M245.3 468.2h1M252.9 453.5h1M253.6 470.0h1M242.0 450.0h1M220.6 464.9h1M252.9 474.1h1M254.1 453.9h1M247.6 482.8h1M226.8 476.2h1M236.6 475.2h1M246.4 454.6h1M232.7 482.1h1M243.9 481.8h1M249.2 478.5h1M240.5 472.1h1M240.8 478.6h1M238.4 480.5h1M263.9 458.5h1M243.2 475.2h1M266.3 480.9h1M246.2 453.6h1M255.2 464.5h1M247.5 473.8h1M228.4 480.1h1M256.1 475.5h1M252.3 473.4h1M228.6 465.2h1M254.9 466.9h1M245.5 473.5h1M246.2 472.5h1M250.9 470.0h1M232.1 467.5h1M256.5 463.6h1M250.8 472.9h1M234.7 443.4h1M245.0 462.7h1M237.7 478.9h1M236.1 473.3h1M246.6 471.9h1M268.8 451.4h1M256.6 468.7h1M241.9 463.7h1M245.6 470.5h1M234.3 485.5h1M236.4 468.7h1M230.1 471.4h1M249.4 480.3h1M256.8 465.3h1M264.2 469.0h1M263.6 486.2h1M240.4 459.9h1M251.6 483.6h1M249.9 480.4h1M252.2 478.4h1M260.9 467.2h1M228.4 468.9h1M235.8 458.8h1M243.2 476.7h1M223.3 455.7h1M254.6 461.7h1M240.5 482.8h1M258.5 473.4h1M251.5 444.4h1M251.7 473.6h1M228.7 471.7h1M250.6 468.9h1M254.5 478.3h1M245.8 467.7h1M231.2 480.8h1M238.4 473.0h1M263.3 477.3h1M230.1 469.2h1M236.7 454.5h1M235.7 475.5h1M249.2 468.1h1M247.2 459.0h1M236.1 468.4h1M254.6 467.0h1M243.2 473.2h1M262.5 458.1h1M251.5 471.8h1M244.3 472.3h1M221.7 470.3h1M242.3 458.4h1M255.1 468.9h1M241.1 477.2h1M234.3 463.3h1M254.9 478.2h1M269.0 465.7h1M228.0 456.0h1M231.0 471.0h1M242.3 463.7h1M233.2 463.5h1M240.8 481.2h1M252.5 482.9h1M254.8 477.2h1M259.0 474.3h1M263.3 480.7h1M266.6 472.1h1M241.8 474.9h1M240.7 463.5h1M250.3 459.5h1M243.2 483.3h1M246.6 477.7h1M252.7 473.6h1M246.4 475.8h1M233.7 475.5h1M232.4 462.9h1M238.2 457.4h1M221.8 473.6h1M251.1 476.2h1M271.2 471.7h1M254.0 463.0h1M253.5 459.3h1M268.4 460.9h1M240.3 477.1h1M219.1 482.6h1M233.9 471.9h1M256.7 471.5h1M256.2 465.3h1M252.1 449.5h1M263.0 463.8h1M234.9 470.2h1M265.2 463.4h1M244.8 466.6h1M234.1 457.7h1M252.1 476.7h1M236.2 472.2h1M250.4 473.6h1M243.1 470.4h1M248.3 460.0h1M243.4 477.5h1M238.4 482.4h1M242.2 459.6h1M241.6 457.3h1M252.3 455.0h1M245.3 467.8h1M241.5 474.0h1M248.5 464.8h1M254.8 465.8h1M255.7 482.6h1M249.5 478.7h1M229.2 475.3h1M227.4 468.4h1M253.3 444.8h1M235.8 462.7h1M233.9 470.2h1M252.6 459.1h1M237.7 452.5h1M236.7 450.3h1M227.2 474.4h1M255.4 462.4h1M249.2 462.7h1M257.7 486.5h1M215.9 461.9h1M237.5 465.5h1M263.5 484.8h1M244.9 476.0h1M226.2 467.2h1M241.6 468.6h1M248.5 455.3h1M232.7 490.1h1M224.5 470.6h1M253.6 474.6h1M245.7 454.8h1M239.5 455.3h1M268.3 473.4h1M253.6 471.9h1M240.4 481.1h1M255.5 476.0h1M251.9 477.0h1M241.7 474.1h1M246.0 467.6h1M252.7 490.1h1M221.0 483.5h1M239.9 481.3h1M233.0 468.3h1M257.1 469.3h1M249.2 458.6h1M231.5 485.7h1M246.9 469.2h1M228.7 460.3h1M232.8 469.5h1M243.7 464.3h1M237.1 471.0h1M258.9 456.8h1M228.2 480.6h1M228.1 466.2h1M246.4 487.2h1M220.9 442.7h1M244.1 480.1h1M246.7 462.4h1M247.3 450.6h1M254.7 483.9h1M242.6 477.7h1M232.5 483.9h1M237.4 462.5h1M236.0 453.3h1M253.0 488.9h1M228.1 468.1h1M250.3 464.7h1M226.5 473.2h1" stroke="#f00" stroke-width="1" stroke-opacity="0.35"/>
<path d="M218.4 437.1h1M233.2 438.9h1M232.1 450.9h1M221.2 447.3h1M225.9 427.6h1M230.9 429.0h1M230.8 430.2h1M230.4 429.2h1M245.9 431.5h1M230.4 443.7h1M236.9 429.0h1M241.7 436.5h1M220.3 438.3h1M235.4 436.2h1M238.4 434.7h1M240.8 453.9h1M240.9 426.9h1M229.8 441.5h1M228.7 430.8h1M234.5 428.7h1M222.7 438.0h1M245.9 436.9h1M245.0 445.9h1M236.1 453.3h1M234.3 447.9h1M231.2 449.7h1M242.5 425.0h1M244.2 426.0h1M235.9 427.3h1M239.2 438.4h1M221.8 451.1h1M224.9 452.9h1M228.7 442.3h1M230.5 448.6h1M227.9 440.9h1M224.4 435.5h1M221.1 433.1h1M225.8 446.4h1M222.1 429.8h1M245.2 444.9h1M220.4 451.8h1M239.3 443.9h1M244.9 441.6h1M221.9 425.4h1M220.5 439.4h1M233.5 450.8h1M220.0 427.2h1M220.7 436.3h1M244.2 449.2h1M219.2 443.3h1M223.1 432.0h1M227.0 432.6h1M226.3 431.9h1M227.6 443.3h1M233.8 447.6h1M225.8 425.8h1M234.0 434.7h1M223.9 437.7h1M244.5 443.6h1M238.1 426.4h1M233.2 446.7h1M242.2 448.6h1M219.4 455.6h1M218.5 448.9h1M231.2 453.8h1M244.5 448.2h1M220.3 445.1h1M221.3 438.2h1M221.6 434.3h1M219.5 441.7h1" stroke="#f00" stroke-width="1" stroke-opacity="0.35"/>
<path d="M206.2 443.9h1M215.1 444.7h1M212.5 453.8h1M213.3 453.1h1M217.1 443.9h1M207.4 455.9h1M216.9 445.2h1M217.0 441.4h1M208.0 453.8h1M206.4 453.8h1M207.9 452.3h1M206.7 448.0h1M212.5 448.9h1M216.2 440.6h1M214.2 453.6h1" stroke="#f00" stroke-width="1" stroke-opacity="0.3"/>
<path d="M265.7 427.0h1M275.1 434.3h1M256.9 447.4h1M274.0 449.3h1M264.8 418.6h1M248.8 439.0h1M249.2 441.6h1M252.5 447.5h1M248.7 444.2h1M255.6 456.0h1M264.1 437.6h1M276.9 428.8h1M281.0 429.2h1M249.3 428.6h1M260.5 440.7h1M250.3 452.4h1M274.4 446.3h1M281.6 420.0h1M271.3 450.5h1M254.1 433.7h1M254.8 453.2h1M264.0 449.6h1M256.6 440.9h1M273.4 431.0h1M257.1 421.2h1M269.4 433.6h1M254.8 430.2h1M258.9 422.7h1M268.2 423.9h1M255.4 431.7h1M281.6 445.0h1M255.2 450.1h1M279.9 430.5h1M275.1 441.9h1M266.8 452.4h1M270.8 442.6h1M279.9 435.3h1M251.6 418.3h1M272.6 435.9h1M277.8 454.9h1M256.7 425.6h1M267.5 418.8h1M251.4 420.8h1M258.1 434.8h1M254.7 444.1h1M273.8 449.6h1M266.6 446.7h1M275.1 445.7h1M258.8 439.9h1M276.0 427.4h1M260.2 418.4h1M268.4 422.3h1M263.1 425.1h1M251.9 451.7h1M259.2 454.4h1M273.1 440.3h1M264.5 442.7h1M275.6 425.2h1M266.4 428.2h1M254.4 426.3h1M274.8 453.5h1M262.7 424.6h1M254.0 429.7h1M260.6 451.6h1M265.9 436.7h1M269.3 424.7h1M260.6 434.7h1M250.2 429.6h1M267.4 440.9h1M257.0 420.8h1M267.4 423.9h1M248.1 454.6h1M272.9 453.6h1M258.8 447.3h1M277.0 441.9h1M249.1 428.4h1M260.7 434.7h1M267.5 425.1h1M255.5 418.8h1M261.7 422.5h1M255.9 418.7h1M276.7 426.6h1M265.3 440.0h1M249.4 438.8h1M275.3 427.1h1M269.5 445.5h1M267.1 431.6h1M265.4 443.4h1M262.9 446.0h1M273.5 446.6h1M262.8 423.6h1M253.9 429.3h1M267.1 420.3h1M258.6 423.6h1M266.2 425.6h1M276.0 420.4h1M260.1 446.4h1M276.4 432.9h1M280.1 451.4h1M267.1 430.5h1M254.6 444.2h1M250.0 442.7h1M255.8 425.1h1M268.9 432.8h1M249.9 423.6h1M274.9 432.8h1M274.5 441.5h1M248.1 431.0h1M268.4 427.3h1M252.5 456.0h1M259.0 443.0h1M263.0 455.6h1M255.7 419.2h1M270.1 444.4h1M276.4 422.2h1M254.0 436.0h1M257.5 422.9h1M252.8 419.6h1M262.6 423.1h1M249.0 421.6h1M271.9 442.5h1M259.7 448.6h1M249.5 433.9h1M279.7 420.0h1M253.1 436.2h1M259.9 420.6h1M276.5 448.1h1M267.9 433.8h1M266.9 437.0h1M267.3 430.2h1M275.7 437.7h1M256.0 440.2h1M274.4 436.9h1M259.0 438.7h1M271.5 424.9h1M278.1 433.6h1M262.2 437.7h1M273.8 424.5h1M254.2 436.6h1M248.5 434.5h1M252.4 425.6h1M260.4 452.0h1M268.8 428.6h1M269.7 437.4h1M248.1 434.7h1M271.9 448.7h1M280.8 418.6h1M265.5 432.5h1M263.1 449.1h1M262.9 438.6h1" stroke="#f00" stroke-width="1" stroke-opacity="0.35"/>
<path d="M235.2 488.5h1M227.3 476.9h1M205.6 471.8h1M209.6 485.3h1M231.2 463.6h1M227.1 488.7h1M239.2 471.8h1M217.5 477.0h1M219.8 492.1h1M239.3 489.4h1M246.0 462.6h1M243.6 471.3h1M212.8 479.4h1M218.9 466.1h1M244.9 465.2h1M204.8 472.4h1M238.1 486.4h1M221.4 472.7h1M207.3 486.1h1M235.1 466.4h1M231.1 489.4h1M217.2 466.9h1M234.5 480.2h1M218.8 459.1h1M215.6 482.9h1M209.4 475.4h1M235.7 470.8h1M206.6 482.0h1M231.8 479.7h1M241.8 471.6h1M224.0 474.4h1M239.5 470.2h1M211.8 471.5h1M238.1 484.3h1M209.4 486.8h1M245.4 470.5h1M236.5 482.6h1M228.7 466.9h1M201.0 488.5h1M215.9 487.0h1M239.4 488.1h1M234.0 483.7h1M237.9 491.0h1M242.4 488.9h1M215.5 490.3h1M205.1 465.3h1M240.0 477.6h1M243.9 470.3h1M204.0 464.1h1M240.7 486.5h1M220.3 481.2h1M202.6 490.8h1M213.7 465.8h1M222.9 475.3h1M222.9 483.4h1M209.3 486.0h1M215.6 472.6h1M241.4 484.1h1M233.8 486.0h1M220.0 470.8h1M224.5 487.8h1M208.8 482.8h1M222.4 491.1h1M232.9 490.4h1M219.6 474.7h1M212.2 466.1h1M215.1 466.3h1M229.2 478.3h1M234.2 484.5h1M244.7 476.9h1" stroke="#f00" stroke-width="1" stroke-opacity="0.35"/>
<path d="M268.9 482.2h1M264.2 477.8h1M258.5 477.6h1M265.3 480.2h1M266.6 485.4h1M281.6 483.4h1M281.7 477.3h1M268.7 483.4h1M263.3 480.6h1M256.0 492.6h1M250.5 488.5h1M264.3 478.0h1M258.4 491.8h1M259.4 483.3h1M262.1 485.2h1M267.0 482.2h1M251.6 470.6h1M270.1 470.0h1M265.6 476.4h1M273.2 477.5h1M249.7 473.7h1M259.3 484.9h1M272.0 489.1h1M280.5 482.8h1M249.6 485.3h1M260.0 483.9h1M253.9 479.1h1M256.3 485.6h1M280.2 478.5h1M265.1 484.6h1M274.0 478.2h1M257.1 485.1h1M258.6 481.4h1M269.4 482.8h1M281.1 478.0h1M255.3 479.3h1M278.5 489.7h1M250.0 474.0h1M256.0 487.9h1M271.5 473.8h1M274.9 489.9h1M275.7 478.0h1M275.9 476.0h1M279.7 473.2h1M261.4 477.0h1M275.9 487.6h1M266.1 482.4h1M257.9 483.5h1M249.6 486.6h1M280.5 480.5h1M263.8 483.5h1M260.9 491.3h1M255.3 481.2h1M271.5 487.2h1M258.4 472.8h1" stroke="#f00" stroke-width="1" stroke-opacity="0.35"/>
<rect x="199.8" y="404.3" width="82.8" height="89.9" fill="none" stroke="#9a9a9a" stroke-width="0.9"/>
<line x1="246.20" y1="404.30" x2="246.20" y2="494.20" stroke="#666" stroke-width="0.85"/>
<line x1="199.80" y1="457.30" x2="282.60" y2="457.30" stroke="#666" stroke-width="0.85"/>
<path d="M198.4 491.7h1.4M198.4 488.9h1.4M198.4 486.8h1.4M198.4 485.0h1.4M198.4 483.5h1.4M198.4 482.3h1.4M198.4 481.1h1.4M197.6 480.1h2.2M198.4 473.4h1.4M198.4 469.5h1.4M198.4 466.7h1.4M198.4 464.6h1.4M198.4 462.8h1.4M198.4 461.3h1.4M198.4 460.1h1.4M198.4 458.9h1.4M197.6 457.9h2.2M198.4 451.2h1.4M198.4 447.3h1.4M198.4 444.5h1.4M198.4 442.4h1.4M198.4 440.6h1.4M198.4 439.1h1.4M198.4 437.9h1.4M198.4 436.7h1.4M197.6 435.7h2.2M198.4 429.0h1.4M198.4 425.1h1.4M198.4 422.3h1.4M198.4 420.2h1.4M198.4 418.4h1.4M198.4 416.9h1.4M198.4 415.7h1.4M198.4 414.5h1.4M197.6 413.5h2.2M201.0 494.59999999999997v1.6M203.6 494.59999999999997v1.6M205.7 494.59999999999997v1.6M207.3 494.59999999999997v1.6M208.7 494.59999999999997v1.6M210.0 494.59999999999997v1.6M211.0 494.59999999999997v1.6M212.0 494.59999999999997v2.4M218.3 494.59999999999997v1.6M222.0 494.59999999999997v1.6M224.6 494.59999999999997v1.6M226.7 494.59999999999997v1.6M228.3 494.59999999999997v1.6M229.7 494.59999999999997v1.6M231.0 494.59999999999997v1.6M232.0 494.59999999999997v1.6M233.0 494.59999999999997v2.4M239.3 494.59999999999997v1.6M243.0 494.59999999999997v1.6M245.6 494.59999999999997v1.6M247.7 494.59999999999997v1.6M249.3 494.59999999999997v1.6M250.7 494.59999999999997v1.6M252.0 494.59999999999997v1.6M253.0 494.59999999999997v1.6M254.0 494.59999999999997v2.4M260.3 494.59999999999997v1.6M264.0 494.59999999999997v1.6M266.6 494.59999999999997v1.6M268.7 494.59999999999997v1.6M270.3 494.59999999999997v1.6M271.7 494.59999999999997v1.6M273.0 494.59999999999997v1.6M274.0 494.59999999999997v1.6M275.0 494.59999999999997v2.4M281.3 494.59999999999997v1.6" stroke="#3a3a3a" stroke-width="0.8" fill="none"/>
<text transform="translate(196.80,480.10) rotate(-90)" font-size="3.9" text-anchor="middle" fill="#444">10<tspan font-size="3" dy="-1.6">2</tspan></text>
<text transform="translate(210.80,502.00) rotate(-30)" font-size="3.9" text-anchor="middle" fill="#444">10<tspan font-size="3" dy="-1.6">2</tspan></text>
<text transform="translate(196.80,457.90) rotate(-90)" font-size="3.9" text-anchor="middle" fill="#444">10<tspan font-size="3" dy="-1.6">3</tspan></text>
<text transform="translate(231.80,502.00) rotate(-30)" font-size="3.9" text-anchor="middle" fill="#444">10<tspan font-size="3" dy="-1.6">3</tspan></text>
<text transform="translate(196.80,435.70) rotate(-90)" font-size="3.9" text-anchor="middle" fill="#444">10<tspan font-size="3" dy="-1.6">4</tspan></text>
<text transform="translate(252.80,502.00) rotate(-30)" font-size="3.9" text-anchor="middle" fill="#444">10<tspan font-size="3" dy="-1.6">4</tspan></text>
<text transform="translate(196.80,413.50) rotate(-90)" font-size="3.9" text-anchor="middle" fill="#444">10<tspan font-size="3" dy="-1.6">5</tspan></text>
<text transform="translate(273.80,502.00) rotate(-30)" font-size="3.9" text-anchor="middle" fill="#444">10<tspan font-size="3" dy="-1.6">5</tspan></text>
<text x="483.00" y="314.70" font-size="13.95" font-weight="bold" text-anchor="middle" fill="#000">Apoptosis</text>
<text x="483.30" y="331.20" font-size="13.8" font-weight="bold" text-anchor="middle" fill="#000">FLSs-RA</text>
<text transform="translate(362.40,409.10) rotate(-90)" font-size="14.25" font-weight="bold" text-anchor="middle" fill="#000">Relative apoptosis rate (%)</text>
<rect x="407.40" y="451.10" width="23.30" height="20.30" fill="url(#dk)" stroke="#000" stroke-width="1.4"/>
<path d="M419.10 449.20V451.10M413.80 449.20h10.60M413.80 451.10h10.60" stroke="#000" stroke-width="1.3" fill="none"/>
<rect x="442.80" y="446.00" width="22.60" height="25.40" fill="url(#lt)" stroke="#000" stroke-width="1.4"/>
<path d="M454.10 444.20V446.00M448.40 444.20h11.40M448.40 446.00h11.40" stroke="#000" stroke-width="1.3" fill="none"/>
<rect x="500.90" y="427.20" width="22.90" height="44.20" fill="url(#dk)" stroke="#000" stroke-width="1.4"/>
<path d="M512.20 425.00V427.20M506.35 425.00h11.70M506.35 427.20h11.70" stroke="#000" stroke-width="1.3" fill="none"/>
<rect x="536.20" y="361.40" width="22.60" height="110.00" fill="url(#lt)" stroke="#000" stroke-width="1.4"/>
<path d="M547.20 360.40V361.40M541.35 360.40h11.70M541.35 361.40h11.70" stroke="#000" stroke-width="1.6" fill="none"/>
<path d="M389.7 347.80V471.4H576.6" stroke="#222" stroke-width="1.3" fill="none"/>
<line x1="386.70" y1="471.40" x2="389.70" y2="471.40" stroke="#222" stroke-width="1.2"/>
<text x="384.60" y="474.60" font-size="9" font-weight="bold" text-anchor="end" fill="#000">0</text>
<line x1="386.70" y1="430.20" x2="389.70" y2="430.20" stroke="#222" stroke-width="1.2"/>
<text x="384.60" y="433.40" font-size="9" font-weight="bold" text-anchor="end" fill="#000">200</text>
<line x1="386.70" y1="389.00" x2="389.70" y2="389.00" stroke="#222" stroke-width="1.2"/>
<text x="384.60" y="392.20" font-size="9" font-weight="bold" text-anchor="end" fill="#000">400</text>
<line x1="386.70" y1="347.80" x2="389.70" y2="347.80" stroke="#222" stroke-width="1.2"/>
<text x="384.60" y="351.00" font-size="9" font-weight="bold" text-anchor="end" fill="#000">600</text>
<text x="435.40" y="487.30" font-size="9.9" font-weight="bold" text-anchor="middle" fill="#000">Control</text>
<text x="499.60" y="487.70" font-size="10.2" font-weight="bold" fill="#000">H<tspan font-size="7.4" dy="2.2" dx="0.4">2</tspan><tspan dy="-2.2" dx="0.3">O</tspan><tspan font-size="7.4" dy="2.2" dx="0.5">2</tspan><tspan dy="-2.2" dx="0.4"> 500 </tspan><tspan font-weight="normal" dx="0.2">μ</tspan>M</text>
<path d="M511.8 357V348.2H547.4V357" stroke="#444" stroke-width="1.0" fill="none"/>
<text x="529.80" y="346.60" font-size="10.8" font-weight="bold" text-anchor="middle" fill="#000">***</text>
<rect x="562.9" y="352.6" width="12.8" height="6.2" fill="url(#dk)" stroke="#000" stroke-width="1.3"/>
<rect x="562.9" y="370.4" width="12.8" height="6.2" fill="url(#lt)" stroke="#000" stroke-width="1.3"/>
<text x="583.30" y="359.40" font-size="10.1" font-weight="bold" fill="#000">Ctrl siRNA</text>
<text x="583.30" y="376.40" font-size="10.1" font-weight="bold" fill="#000">si circFNDC3B</text>
<text x="168.90" y="581.80" font-size="14.05" font-weight="bold" text-anchor="middle" fill="#000">Glucose uptake</text>
<text x="168.80" y="598.70" font-size="13.9" font-weight="bold" text-anchor="middle" fill="#000">FLSs-RA</text>
<text transform="translate(47.80,676.60) rotate(-90)" font-size="14.15" font-weight="bold" text-anchor="middle" fill="#000">Relative glucose uptake (%)</text>
<rect x="110.60" y="656.30" width="45.90" height="82.30" fill="url(#dk)" stroke="#000" stroke-width="1.4"/>
<path d="M133.70 653.00V656.30M122.25 653.00h22.90M122.25 656.30h22.90" stroke="#000" stroke-width="1.3" fill="none"/>
<rect x="180.50" y="678.20" width="46.10" height="60.40" fill="url(#lt)" stroke="#000" stroke-width="1.4"/>
<path d="M203.70 676.20V678.20M192.35 676.20h22.70M192.35 678.20h22.70" stroke="#000" stroke-width="1.3" fill="none"/>
<path d="M75.2 614.31V738.6H263" stroke="#222" stroke-width="1.3" fill="none"/>
<line x1="72.20" y1="738.60" x2="75.20" y2="738.60" stroke="#222" stroke-width="1.2"/>
<text x="70.90" y="741.90" font-size="9.7" font-weight="bold" text-anchor="end" fill="#000">0</text>
<line x1="72.20" y1="697.17" x2="75.20" y2="697.17" stroke="#222" stroke-width="1.2"/>
<text x="70.90" y="700.47" font-size="9.7" font-weight="bold" text-anchor="end" fill="#000">50</text>
<line x1="72.20" y1="655.74" x2="75.20" y2="655.74" stroke="#222" stroke-width="1.2"/>
<text x="70.90" y="659.04" font-size="9.7" font-weight="bold" text-anchor="end" fill="#000">100</text>
<line x1="72.20" y1="614.31" x2="75.20" y2="614.31" stroke="#222" stroke-width="1.2"/>
<text x="70.90" y="617.61" font-size="9.7" font-weight="bold" text-anchor="end" fill="#000">150</text>
<text x="203.50" y="668.60" font-size="10.8" font-weight="bold" text-anchor="middle" fill="#000">*</text>
<rect x="246.0" y="620.4" width="12.8" height="6.1" fill="url(#dk)" stroke="#000" stroke-width="1.3"/>
<rect x="246.0" y="637.6" width="12.8" height="6.1" fill="url(#lt)" stroke="#000" stroke-width="1.3"/>
<text x="266.50" y="626.50" font-size="10.1" font-weight="bold" fill="#000">Ctrl siRNA</text>
<text x="266.50" y="643.90" font-size="10.1" font-weight="bold" fill="#000">si circFNDC3B</text>
<text x="502.90" y="559.60" font-size="14.35" font-weight="bold" text-anchor="middle" fill="#000">Extracellular acidification rate</text>
<text x="502.90" y="575.70" font-size="14.0" font-weight="bold" text-anchor="middle" fill="#000">FLSs-RA</text>
<text transform="translate(369.20,675.50) rotate(-90)" font-size="14.65" font-weight="bold" text-anchor="middle" fill="#000">ECAR (mPH/min)</text>
<text x="432.60" y="593.00" font-size="10" font-weight="bold" text-anchor="middle" fill="#000">Glucose</text>
<line x1="431.60" y1="597.50" x2="431.60" y2="611.00" stroke="#000" stroke-width="1.2"/>
<path d="M431.6 615.4L428.8 609.8L434.40000000000003 609.8Z" fill="#000"/>
<text x="491.80" y="593.00" font-size="10" font-weight="bold" text-anchor="middle" fill="#000">Oligomycin</text>
<line x1="492.70" y1="597.50" x2="492.70" y2="611.00" stroke="#000" stroke-width="1.2"/>
<path d="M492.7 615.4L489.9 609.8L495.5 609.8Z" fill="#000"/>
<text x="552.40" y="593.00" font-size="10" font-weight="bold" text-anchor="middle" fill="#000">2-DG</text>
<line x1="550.00" y1="597.50" x2="550.00" y2="611.00" stroke="#000" stroke-width="1.2"/>
<path d="M550.0 615.4L547.2 609.8L552.8 609.8Z" fill="#000"/>
<path d="M390.3 612.80V738.2H613.8" stroke="#111" stroke-width="1.4" fill="none"/>
<line x1="387.30" y1="738.20" x2="390.30" y2="738.20" stroke="#111" stroke-width="1.3"/>
<text x="385.00" y="741.50" font-size="9.6" font-weight="bold" text-anchor="end" fill="#000">0</text>
<line x1="387.30" y1="696.40" x2="390.30" y2="696.40" stroke="#111" stroke-width="1.3"/>
<text x="385.00" y="699.70" font-size="9.6" font-weight="bold" text-anchor="end" fill="#000">10</text>
<line x1="387.30" y1="654.60" x2="390.30" y2="654.60" stroke="#111" stroke-width="1.3"/>
<text x="385.00" y="657.90" font-size="9.6" font-weight="bold" text-anchor="end" fill="#000">20</text>
<line x1="387.30" y1="612.80" x2="390.30" y2="612.80" stroke="#111" stroke-width="1.3"/>
<text x="385.00" y="616.10" font-size="9.6" font-weight="bold" text-anchor="end" fill="#000">30</text>
<line x1="390.30" y1="738.20" x2="390.30" y2="741.00" stroke="#111" stroke-width="1.2"/>
<text x="390.60" y="754.70" font-size="10.6" font-weight="bold" text-anchor="middle" fill="#000">0</text>
<line x1="410.63" y1="738.20" x2="410.63" y2="741.00" stroke="#111" stroke-width="1.2"/>
<text x="410.94" y="754.70" font-size="10.6" font-weight="bold" text-anchor="middle" fill="#000">10</text>
<line x1="430.97" y1="738.20" x2="430.97" y2="741.00" stroke="#111" stroke-width="1.2"/>
<text x="431.27" y="754.70" font-size="10.6" font-weight="bold" text-anchor="middle" fill="#000">20</text>
<line x1="451.31" y1="738.20" x2="451.31" y2="741.00" stroke="#111" stroke-width="1.2"/>
<text x="451.61" y="754.70" font-size="10.6" font-weight="bold" text-anchor="middle" fill="#000">30</text>
<line x1="471.64" y1="738.20" x2="471.64" y2="741.00" stroke="#111" stroke-width="1.2"/>
<text x="471.94" y="754.70" font-size="10.6" font-weight="bold" text-anchor="middle" fill="#000">40</text>
<line x1="491.98" y1="738.20" x2="491.98" y2="741.00" stroke="#111" stroke-width="1.2"/>
<text x="492.28" y="754.70" font-size="10.6" font-weight="bold" text-anchor="middle" fill="#000">50</text>
<line x1="512.31" y1="738.20" x2="512.31" y2="741.00" stroke="#111" stroke-width="1.2"/>
<text x="512.61" y="754.70" font-size="10.6" font-weight="bold" text-anchor="middle" fill="#000">60</text>
<line x1="532.64" y1="738.20" x2="532.64" y2="741.00" stroke="#111" stroke-width="1.2"/>
<text x="532.94" y="754.70" font-size="10.6" font-weight="bold" text-anchor="middle" fill="#000">70</text>
<line x1="552.98" y1="738.20" x2="552.98" y2="741.00" stroke="#111" stroke-width="1.2"/>
<text x="553.28" y="754.70" font-size="10.6" font-weight="bold" text-anchor="middle" fill="#000">80</text>
<line x1="573.32" y1="738.20" x2="573.32" y2="741.00" stroke="#111" stroke-width="1.2"/>
<text x="574.52" y="754.70" font-size="10.6" font-weight="bold" text-anchor="middle" fill="#000">90</text>
<line x1="593.65" y1="738.20" x2="593.65" y2="741.00" stroke="#111" stroke-width="1.2"/>
<text x="595.85" y="754.70" font-size="10.6" font-weight="bold" text-anchor="middle" fill="#000">100</text>
<line x1="613.99" y1="738.20" x2="613.99" y2="741.00" stroke="#111" stroke-width="1.2"/>
<text x="616.59" y="754.70" font-size="10.6" font-weight="bold" text-anchor="middle" fill="#000">110</text>
<text x="333.20" y="754.70" font-size="10.7" font-weight="bold" fill="#000">Minutes</text>
<path d="M390.30 714.00V718.00M388.10 714.00h4.40M388.10 718.00h4.40" stroke="#999" stroke-width="1.0" fill="none"/>
<path d="M410.63 718.50V721.00M408.44 718.50h4.40M408.44 721.00h4.40" stroke="#999" stroke-width="1.0" fill="none"/>
<path d="M430.97 717.00V721.00M428.77 717.00h4.40M428.77 721.00h4.40" stroke="#999" stroke-width="1.0" fill="none"/>
<path d="M451.31 692.40V698.00M449.11 692.40h4.40M449.11 698.00h4.40" stroke="#999" stroke-width="1.0" fill="none"/>
<path d="M471.64 681.40V695.00M469.44 681.40h4.40M469.44 695.00h4.40" stroke="#999" stroke-width="1.0" fill="none"/>
<path d="M491.98 677.40V693.00M489.78 677.40h4.40M489.78 693.00h4.40" stroke="#999" stroke-width="1.0" fill="none"/>
<path d="M512.31 637.50V648.50M510.11 637.50h4.40M510.11 648.50h4.40" stroke="#999" stroke-width="1.0" fill="none"/>
<path d="M532.64 632.10V644.50M530.44 632.10h4.40M530.44 644.50h4.40" stroke="#999" stroke-width="1.0" fill="none"/>
<path d="M552.98 629.80V643.40M550.78 629.80h4.40M550.78 643.40h4.40" stroke="#999" stroke-width="1.0" fill="none"/>
<path d="M573.32 716.00V727.90M571.12 716.00h4.40M571.12 727.90h4.40" stroke="#999" stroke-width="1.0" fill="none"/>
<path d="M593.65 712.00V719.00M591.45 712.00h4.40M591.45 719.00h4.40" stroke="#999" stroke-width="1.0" fill="none"/>
<path d="M613.99 713.00V719.00M611.78 713.00h4.40M611.78 719.00h4.40" stroke="#999" stroke-width="1.0" fill="none"/>
<path d="M390.30 715.9L410.63 719.9L430.97 719.0L451.31 695.4L471.64 688.4L491.98 685.4L512.31 643.4L532.64 638.7L552.98 636.8L573.32 721.6L593.65 715.8L613.99 716.5" stroke="#999" stroke-width="1.2" fill="none"/>
<path d="M390.30 713.20L392.80 717.70L387.80 717.70Z" fill="#000"/>
<path d="M410.63 717.20L413.13 721.70L408.13 721.70Z" fill="#000"/>
<path d="M430.97 716.30L433.47 720.80L428.47 720.80Z" fill="#000"/>
<path d="M451.31 692.70L453.81 697.20L448.81 697.20Z" fill="#000"/>
<path d="M471.64 685.70L474.14 690.20L469.14 690.20Z" fill="#000"/>
<path d="M491.98 682.70L494.48 687.20L489.48 687.20Z" fill="#000"/>
<path d="M512.31 640.70L514.81 645.20L509.81 645.20Z" fill="#000"/>
<path d="M532.64 636.00L535.14 640.50L530.14 640.50Z" fill="#000"/>
<path d="M552.98 634.10L555.48 638.60L550.48 638.60Z" fill="#000"/>
<path d="M573.32 718.90L575.82 723.40L570.82 723.40Z" fill="#000"/>
<path d="M593.65 713.10L596.15 717.60L591.15 717.60Z" fill="#000"/>
<path d="M613.99 713.80L616.49 718.30L611.49 718.30Z" fill="#000"/>
<path d="M390.30 715.00V719.00M388.10 715.00h4.40M388.10 719.00h4.40" stroke="#000" stroke-width="1.2" fill="none"/>
<path d="M410.63 719.50V722.80M408.44 719.50h4.40M408.44 722.80h4.40" stroke="#000" stroke-width="1.2" fill="none"/>
<path d="M430.97 718.50V726.90M428.77 718.50h4.40M428.77 726.90h4.40" stroke="#000" stroke-width="1.2" fill="none"/>
<path d="M451.31 700.00V705.00M449.11 700.00h4.40M449.11 705.00h4.40" stroke="#000" stroke-width="1.2" fill="none"/>
<path d="M471.64 695.50V700.50M469.44 695.50h4.40M469.44 700.50h4.40" stroke="#000" stroke-width="1.2" fill="none"/>
<path d="M491.98 694.00V698.60M489.78 694.00h4.40M489.78 698.60h4.40" stroke="#000" stroke-width="1.2" fill="none"/>
<path d="M512.31 669.50V679.10M510.11 669.50h4.40M510.11 679.10h4.40" stroke="#000" stroke-width="1.2" fill="none"/>
<path d="M532.64 663.70V673.30M530.44 663.70h4.40M530.44 673.30h4.40" stroke="#000" stroke-width="1.2" fill="none"/>
<path d="M552.98 659.20V668.60M550.78 659.20h4.40M550.78 668.60h4.40" stroke="#000" stroke-width="1.2" fill="none"/>
<path d="M573.32 714.60V722.80M571.12 714.60h4.40M571.12 722.80h4.40" stroke="#000" stroke-width="1.2" fill="none"/>
<path d="M593.65 708.30V724.00M591.45 708.30h4.40M591.45 724.00h4.40" stroke="#000" stroke-width="1.2" fill="none"/>
<path d="M613.99 710.40V722.80M611.78 710.40h4.40M611.78 722.80h4.40" stroke="#000" stroke-width="1.2" fill="none"/>
<path d="M390.30 717.0L410.63 721.2L430.97 722.6L451.31 702.4L471.64 698.0L491.98 696.3L512.31 674.4L532.64 668.4L552.98 663.9L573.32 719.3L593.65 715.8L613.99 716.5" stroke="#000" stroke-width="1.6" fill="none"/>
<circle cx="390.30" cy="717.00" r="3.0" fill="#000" stroke="none" stroke-width="1"/>
<circle cx="410.63" cy="721.20" r="3.0" fill="#000" stroke="none" stroke-width="1"/>
<circle cx="430.97" cy="722.60" r="3.0" fill="#000" stroke="none" stroke-width="1"/>
<circle cx="451.31" cy="702.40" r="3.0" fill="#000" stroke="none" stroke-width="1"/>
<circle cx="471.64" cy="698.00" r="3.0" fill="#000" stroke="none" stroke-width="1"/>
<circle cx="491.98" cy="696.30" r="3.0" fill="#000" stroke="none" stroke-width="1"/>
<circle cx="512.31" cy="674.40" r="3.0" fill="#000" stroke="none" stroke-width="1"/>
<circle cx="532.64" cy="668.40" r="3.0" fill="#000" stroke="none" stroke-width="1"/>
<circle cx="552.98" cy="663.90" r="3.0" fill="#000" stroke="none" stroke-width="1"/>
<circle cx="573.32" cy="719.30" r="3.0" fill="#000" stroke="none" stroke-width="1"/>
<circle cx="593.65" cy="715.80" r="3.0" fill="#000" stroke="none" stroke-width="1"/>
<circle cx="613.99" cy="716.50" r="3.0" fill="#000" stroke="none" stroke-width="1"/>
<line x1="593.00" y1="608.10" x2="605.80" y2="608.10" stroke="#999" stroke-width="1.0"/>
<path d="M599.40 605.82L601.70 609.96L597.10 609.96Z" fill="#000"/>
<line x1="593.00" y1="625.00" x2="605.80" y2="625.00" stroke="#000" stroke-width="1.6"/>
<circle cx="599.40" cy="625.00" r="2.7" fill="#000" stroke="none" stroke-width="1"/>
<text x="614.00" y="611.20" font-size="10.1" font-weight="bold" fill="#000">Ctrl siRNA</text>
<text x="614.00" y="628.90" font-size="10.1" font-weight="bold" fill="#000">si circFNDC3B</text>
</svg>
</body></html>
